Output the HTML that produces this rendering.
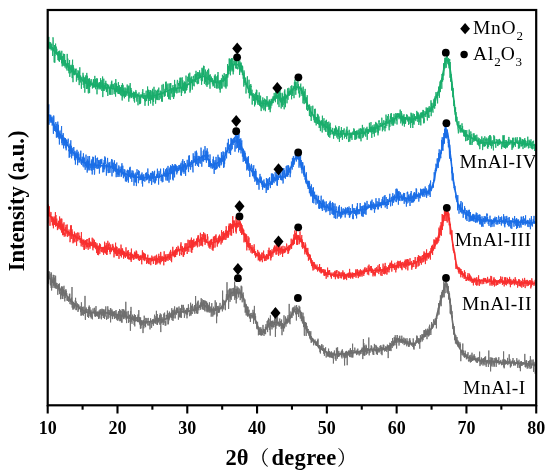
<!DOCTYPE html>
<html><head><meta charset="utf-8"><title>XRD patterns</title>
<style>
html,body{margin:0;padding:0;background:#fff;}
body{width:550px;height:473px;overflow:hidden;}
svg{display:block;}
text{font-family:"Liberation Serif","Times New Roman","Noto Serif CJK SC",serif;}
.tl text{font-size:18px;font-weight:bold;}
.ax{font-size:22.5px;font-weight:bold;}
.cjk{font-family:"Noto Serif CJK SC","Noto Sans CJK SC",serif;font-weight:normal;font-size:20px;}
.lg{font-size:19.5px;letter-spacing:0.8px;}
.sub{font-size:13px;letter-spacing:0;}
.sm{font-size:19.5px;letter-spacing:0.55px;}
.c{stroke-width:0.9;}
</style></head><body>
<svg width="550" height="473" viewBox="0 0 550 473">
<rect width="550" height="473" fill="#fff"/>
<g fill="none" stroke-width="1" stroke-linejoin="miter">
<polyline class="c" stroke="#18ad6b" points="48.2,45.2 48.4,48.0 48.6,45.6 48.8,36.9 49.0,49.3 49.2,47.0 49.4,41.9 49.6,48.3 49.8,47.4 50.0,47.2 50.2,46.0 50.4,49.1 50.6,42.3 50.8,45.7 51.0,44.2 51.2,50.4 51.4,47.6 51.6,46.0 51.8,43.6 52.0,46.7 52.2,48.4 52.4,47.1 52.6,56.0 52.8,54.7 53.0,37.3 53.2,39.3 53.4,48.9 53.6,47.8 53.8,51.5 54.0,51.8 54.2,62.4 54.4,45.0 54.6,49.3 54.8,62.7 55.0,55.3 55.2,55.7 55.4,49.5 55.6,43.6 55.8,53.7 56.0,53.6 56.2,46.6 56.4,49.8 56.6,53.3 56.8,48.8 57.0,53.6 57.2,54.9 57.4,54.8 57.6,52.1 57.8,58.3 58.0,60.1 58.2,57.3 58.4,51.4 58.6,59.9 58.8,53.5 59.0,61.1 59.2,50.9 59.4,61.8 59.6,57.0 59.8,50.7 60.0,55.9 60.2,58.1 60.4,59.4 60.6,53.0 60.8,52.6 61.0,59.7 61.2,56.4 61.4,60.3 61.6,63.3 61.8,50.8 62.0,61.1 62.2,66.4 62.4,58.6 62.6,56.1 62.8,64.6 63.0,62.2 63.2,65.7 63.4,59.4 63.6,53.7 63.8,61.1 64.0,59.6 64.2,66.1 64.4,63.3 64.6,54.0 64.8,56.5 65.0,67.5 65.2,66.7 65.4,60.0 65.6,63.6 65.8,66.1 66.0,66.4 66.2,68.7 66.4,65.7 66.6,64.1 66.8,63.5 67.0,70.5 67.2,53.9 67.4,64.8 67.6,65.8 67.8,58.6 68.0,67.8 68.2,63.0 68.4,70.9 68.6,66.1 68.8,70.3 69.0,73.3 69.2,69.3 69.4,63.1 69.6,60.0 69.8,76.9 70.0,67.6 70.2,64.9 70.4,69.3 70.6,67.8 70.8,73.3 71.0,69.4 71.2,69.5 71.4,66.0 71.6,72.2 71.8,64.8 72.0,73.5 72.2,78.1 72.4,62.9 72.6,59.7 72.8,74.1 73.0,82.2 73.2,66.4 73.4,65.3 73.6,74.7 73.8,67.8 74.0,69.6 74.2,70.6 74.4,75.2 74.6,70.7 74.8,74.3 75.0,72.3 75.2,69.1 75.4,71.9 75.6,69.0 75.8,73.9 76.0,68.5 76.2,68.9 76.4,81.6 76.6,74.4 76.8,74.6 77.0,77.5 77.2,73.1 77.4,74.2 77.6,77.6 77.8,77.1 78.0,70.2 78.2,80.2 78.4,73.4 78.6,71.4 78.8,72.3 79.0,75.0 79.2,85.1 79.4,71.6 79.6,78.3 79.8,67.3 80.0,77.9 80.2,82.5 80.4,77.2 80.6,75.5 80.8,79.8 81.0,82.3 81.2,82.3 81.4,88.8 81.6,80.5 81.8,76.8 82.0,79.3 82.2,79.7 82.4,80.8 82.6,80.3 82.8,81.4 83.0,72.8 83.2,84.9 83.4,78.4 83.6,75.7 83.8,84.5 84.0,87.9 84.2,84.1 84.4,82.7 84.6,77.6 84.8,92.7 85.0,86.5 85.2,77.0 85.4,78.9 85.6,83.1 85.8,75.4 86.0,83.7 86.2,80.9 86.4,89.0 86.6,87.8 86.8,72.9 87.0,83.6 87.2,75.8 87.4,88.8 87.6,84.4 87.8,86.3 88.0,78.7 88.2,92.5 88.4,93.4 88.6,78.9 88.8,85.8 89.0,80.9 89.2,84.0 89.4,78.2 89.6,93.1 89.8,79.7 90.0,82.9 90.2,86.8 90.4,81.4 90.6,83.4 90.8,81.9 91.0,84.0 91.2,79.1 91.4,82.6 91.6,83.8 91.8,83.2 92.0,85.1 92.2,83.5 92.4,88.5 92.6,83.4 92.8,84.4 93.0,81.9 93.2,82.6 93.4,79.2 93.6,87.6 93.8,79.8 94.0,81.7 94.2,87.0 94.4,87.2 94.6,83.5 94.8,75.9 95.0,87.4 95.2,86.7 95.4,78.9 95.6,89.2 95.8,82.3 96.0,80.3 96.2,86.1 96.4,84.9 96.6,86.7 96.8,78.2 97.0,94.3 97.2,83.0 97.4,78.7 97.6,88.8 97.8,84.3 98.0,87.5 98.2,84.4 98.4,85.8 98.6,87.3 98.8,82.7 99.0,89.4 99.2,84.0 99.4,82.2 99.6,86.7 99.8,88.4 100.0,85.3 100.2,82.4 100.4,89.3 100.6,78.2 100.8,81.7 101.0,86.7 101.2,80.2 101.4,86.7 101.6,86.4 101.8,90.9 102.0,82.4 102.2,83.8 102.4,88.3 102.6,76.5 102.8,97.1 103.0,83.6 103.2,83.5 103.4,90.9 103.6,86.8 103.8,78.7 104.0,89.9 104.2,91.0 104.4,85.0 104.6,85.8 104.8,89.4 105.0,82.9 105.2,89.3 105.4,88.2 105.6,84.1 105.8,80.8 106.0,86.3 106.2,83.3 106.4,92.1 106.6,88.1 106.8,91.1 107.0,88.1 107.2,88.8 107.4,83.9 107.6,90.7 107.8,96.0 108.0,86.3 108.2,85.0 108.4,87.0 108.6,85.6 108.8,84.6 109.0,88.5 109.2,86.6 109.4,94.6 109.6,88.0 109.8,89.5 110.0,92.5 110.2,86.7 110.4,94.8 110.6,85.3 110.8,84.5 111.0,86.6 111.2,87.8 111.4,81.9 111.6,88.2 111.8,80.7 112.0,94.9 112.2,88.1 112.4,85.6 112.6,84.4 112.8,86.9 113.0,87.6 113.2,83.9 113.4,84.5 113.6,87.9 113.8,86.4 114.0,93.2 114.2,94.2 114.4,89.0 114.6,91.2 114.8,82.9 115.0,92.0 115.2,89.0 115.4,91.4 115.6,96.6 115.8,79.1 116.0,90.5 116.2,84.3 116.4,92.1 116.6,83.4 116.8,87.2 117.0,90.5 117.2,92.4 117.4,90.0 117.6,86.0 117.8,87.2 118.0,93.8 118.2,89.8 118.4,82.1 118.6,93.8 118.8,91.9 119.0,94.0 119.2,88.5 119.4,93.9 119.6,85.3 119.8,92.8 120.0,88.0 120.2,93.4 120.4,95.0 120.6,87.0 120.8,90.2 121.0,90.7 121.2,96.0 121.4,93.9 121.6,85.1 121.8,92.8 122.0,94.2 122.2,100.5 122.4,83.2 122.6,88.5 122.8,97.1 123.0,84.8 123.2,85.6 123.4,93.5 123.6,95.8 123.8,88.2 124.0,93.8 124.2,91.9 124.4,98.3 124.6,91.5 124.8,96.0 125.0,87.4 125.2,90.8 125.4,91.2 125.6,96.9 125.8,94.4 126.0,88.4 126.2,95.0 126.4,95.5 126.6,91.5 126.8,90.9 127.0,91.3 127.2,84.5 127.4,93.1 127.6,93.4 127.8,88.4 128.0,95.8 128.2,86.2 128.4,90.0 128.6,90.4 128.8,101.7 129.0,85.5 129.2,95.3 129.4,97.1 129.6,94.6 129.8,98.3 130.0,88.5 130.2,83.1 130.4,96.6 130.6,87.8 130.8,91.8 131.0,88.0 131.2,98.1 131.4,97.4 131.6,90.3 131.8,97.7 132.0,94.2 132.2,93.1 132.4,94.1 132.6,93.0 132.8,96.8 133.0,95.5 133.2,92.6 133.4,98.8 133.6,91.6 133.8,95.7 134.0,96.4 134.2,101.2 134.4,92.4 134.6,102.5 134.8,95.6 135.0,94.0 135.2,91.9 135.4,97.6 135.6,95.3 135.8,90.2 136.0,90.2 136.2,92.8 136.4,92.3 136.6,100.3 136.8,101.6 137.0,99.4 137.2,97.2 137.4,93.7 137.6,95.9 137.8,99.7 138.0,105.3 138.2,99.9 138.4,94.6 138.6,96.1 138.8,93.8 139.0,92.4 139.2,95.1 139.4,96.9 139.6,104.2 139.8,96.2 140.0,102.1 140.2,103.9 140.4,96.4 140.6,103.2 140.8,99.2 141.0,94.1 141.2,97.2 141.4,96.1 141.6,95.0 141.8,95.1 142.0,96.6 142.2,97.9 142.4,92.0 142.6,96.0 142.8,89.2 143.0,97.2 143.2,98.8 143.4,96.7 143.6,97.3 143.8,98.6 144.0,93.0 144.2,94.9 144.4,98.3 144.6,100.5 144.8,97.8 145.0,105.8 145.2,95.6 145.4,100.5 145.6,101.7 145.8,95.4 146.0,92.3 146.2,90.7 146.4,96.7 146.6,101.0 146.8,97.2 147.0,96.8 147.2,94.3 147.4,98.5 147.6,86.5 147.8,97.0 148.0,96.1 148.2,89.9 148.4,105.7 148.6,89.8 148.8,91.2 149.0,90.6 149.2,101.0 149.4,92.0 149.6,99.0 149.8,98.6 150.0,97.2 150.2,90.2 150.4,93.3 150.6,103.5 150.8,90.2 151.0,92.3 151.2,95.3 151.4,99.6 151.6,97.1 151.8,99.3 152.0,91.2 152.2,100.2 152.4,98.5 152.6,88.8 152.8,102.8 153.0,105.7 153.2,92.4 153.4,96.0 153.6,102.0 153.8,89.1 154.0,86.8 154.2,89.8 154.4,93.1 154.6,93.0 154.8,98.2 155.0,96.7 155.2,89.8 155.4,97.9 155.6,103.7 155.8,100.6 156.0,99.7 156.2,95.2 156.4,99.5 156.6,90.7 156.8,98.4 157.0,94.5 157.2,99.9 157.4,96.9 157.6,89.8 157.8,95.2 158.0,100.1 158.2,89.5 158.4,92.0 158.6,90.9 158.8,87.6 159.0,98.6 159.2,100.1 159.4,97.8 159.6,95.2 159.8,93.8 160.0,95.0 160.2,90.6 160.4,97.8 160.6,98.5 160.8,97.9 161.0,91.2 161.2,93.9 161.4,92.7 161.6,101.5 161.8,94.2 162.0,84.8 162.2,95.0 162.4,101.7 162.6,96.2 162.8,97.0 163.0,93.1 163.2,83.9 163.4,84.6 163.6,87.1 163.8,92.1 164.0,94.0 164.2,95.6 164.4,90.9 164.6,96.7 164.8,91.0 165.0,88.9 165.2,95.9 165.4,87.8 165.6,81.9 165.8,87.0 166.0,92.1 166.2,81.6 166.4,89.9 166.6,89.9 166.8,84.8 167.0,84.5 167.2,89.0 167.4,88.6 167.6,96.7 167.8,92.6 168.0,83.5 168.2,86.8 168.4,93.8 168.6,99.2 168.8,92.2 169.0,91.8 169.2,98.8 169.4,90.1 169.6,88.7 169.8,83.5 170.0,87.5 170.2,99.9 170.4,83.2 170.6,89.7 170.8,83.1 171.0,90.1 171.2,93.5 171.4,88.3 171.6,92.7 171.8,92.6 172.0,91.3 172.2,97.1 172.4,92.7 172.6,87.6 172.8,85.8 173.0,85.0 173.2,91.1 173.4,87.3 173.6,99.0 173.8,97.3 174.0,87.7 174.2,87.1 174.4,96.5 174.6,79.9 174.8,86.5 175.0,92.9 175.2,84.3 175.4,86.2 175.6,86.8 175.8,91.4 176.0,89.0 176.2,90.2 176.4,91.1 176.6,88.4 176.8,93.4 177.0,84.8 177.2,81.5 177.4,79.9 177.6,80.6 177.8,85.5 178.0,92.8 178.2,88.8 178.4,85.2 178.6,83.0 178.8,85.5 179.0,86.0 179.2,85.3 179.4,81.2 179.6,85.6 179.8,92.5 180.0,77.7 180.2,86.6 180.4,77.8 180.6,88.5 180.8,84.2 181.0,77.9 181.2,88.0 181.4,96.0 181.6,88.0 181.8,92.9 182.0,87.1 182.2,77.3 182.4,89.6 182.6,85.3 182.8,80.4 183.0,90.8 183.2,88.4 183.4,84.6 183.6,91.1 183.8,82.9 184.0,89.9 184.2,82.4 184.4,89.2 184.6,81.5 184.8,93.5 185.0,87.6 185.2,93.1 185.4,82.4 185.6,83.9 185.8,90.0 186.0,75.6 186.2,80.8 186.4,90.5 186.6,87.7 186.8,90.0 187.0,83.8 187.2,87.8 187.4,81.6 187.6,78.4 187.8,76.7 188.0,82.0 188.2,81.8 188.4,81.3 188.6,73.7 188.8,74.5 189.0,81.3 189.2,85.0 189.4,80.8 189.6,79.2 189.8,72.7 190.0,92.6 190.2,77.6 190.4,90.7 190.6,90.0 190.8,83.7 191.0,79.5 191.2,82.8 191.4,76.5 191.6,83.1 191.8,81.7 192.0,84.1 192.2,85.9 192.4,89.6 192.6,79.3 192.8,86.0 193.0,77.1 193.2,76.4 193.4,77.6 193.6,75.8 193.8,85.1 194.0,84.7 194.2,86.3 194.4,79.9 194.6,81.3 194.8,77.1 195.0,74.2 195.2,81.8 195.4,80.8 195.6,74.1 195.8,82.2 196.0,70.8 196.2,78.3 196.4,76.0 196.6,76.3 196.8,73.5 197.0,83.3 197.2,81.3 197.4,84.2 197.6,79.0 197.8,72.0 198.0,76.3 198.2,72.3 198.4,80.1 198.6,83.7 198.8,79.3 199.0,74.7 199.2,75.7 199.4,78.4 199.6,70.3 199.8,78.0 200.0,78.1 200.2,74.4 200.4,75.0 200.6,77.8 200.8,72.8 201.0,72.8 201.2,80.5 201.4,77.8 201.6,84.8 201.8,71.7 202.0,67.8 202.2,81.1 202.4,81.1 202.6,72.8 202.8,69.2 203.0,76.2 203.2,67.8 203.4,74.7 203.6,65.7 203.8,75.2 204.0,66.0 204.2,75.3 204.4,83.9 204.6,75.3 204.8,80.4 205.0,73.6 205.2,72.5 205.4,69.6 205.6,82.1 205.8,76.9 206.0,85.2 206.2,71.6 206.4,76.4 206.6,78.0 206.8,84.6 207.0,86.8 207.2,74.9 207.4,72.7 207.6,69.9 207.8,85.0 208.0,78.2 208.2,75.7 208.4,78.7 208.6,68.7 208.8,70.9 209.0,83.9 209.2,81.5 209.4,80.4 209.6,75.0 209.8,82.8 210.0,88.7 210.2,74.3 210.4,80.4 210.6,78.4 210.8,82.3 211.0,80.7 211.2,80.1 211.4,76.6 211.6,80.8 211.8,78.0 212.0,80.3 212.2,80.8 212.4,84.3 212.6,78.4 212.8,79.7 213.0,86.4 213.2,80.3 213.4,80.1 213.6,85.6 213.8,82.8 214.0,82.0 214.2,82.6 214.4,75.7 214.6,83.9 214.8,88.0 215.0,84.5 215.2,74.4 215.4,83.2 215.6,77.6 215.8,80.8 216.0,82.6 216.2,76.3 216.4,88.4 216.6,81.7 216.8,85.9 217.0,85.1 217.2,88.6 217.4,87.8 217.6,75.2 217.8,82.4 218.0,72.0 218.2,80.1 218.4,85.6 218.6,86.6 218.8,88.4 219.0,80.4 219.2,83.7 219.4,82.6 219.6,88.2 219.8,89.6 220.0,80.3 220.2,92.6 220.4,81.9 220.6,80.1 220.8,84.6 221.0,85.3 221.2,84.2 221.4,78.3 221.6,88.4 221.8,81.5 222.0,88.5 222.2,87.7 222.4,74.8 222.6,76.0 222.8,75.8 223.0,81.7 223.2,80.6 223.4,81.5 223.6,76.1 223.8,81.9 224.0,86.5 224.2,73.1 224.4,78.5 224.6,80.5 224.8,78.5 225.0,78.0 225.2,87.3 225.4,84.8 225.6,82.4 225.8,74.3 226.0,88.6 226.2,79.2 226.4,74.3 226.6,75.1 226.8,74.0 227.0,86.4 227.2,76.6 227.4,75.5 227.6,64.0 227.8,77.6 228.0,67.9 228.2,66.5 228.4,74.2 228.6,65.8 228.8,73.4 229.0,74.0 229.2,58.5 229.4,66.4 229.6,58.8 229.8,66.3 230.0,71.1 230.2,59.3 230.4,75.3 230.6,64.4 230.8,59.8 231.0,65.1 231.2,69.7 231.4,58.4 231.6,65.4 231.8,58.2 232.0,71.4 232.2,65.9 232.4,62.9 232.6,70.3 232.8,58.3 233.0,62.9 233.2,74.4 233.4,64.2 233.6,71.7 233.8,65.7 234.0,61.0 234.2,63.3 234.4,65.0 234.6,62.4 234.8,60.2 235.0,60.4 235.2,56.8 235.4,65.0 235.6,66.4 235.8,68.3 236.0,55.1 236.2,68.5 236.4,64.3 236.6,57.0 236.8,64.9 237.0,68.7 237.2,67.2 237.4,68.2 237.6,69.4 237.8,69.2 238.0,64.4 238.2,53.9 238.4,60.8 238.6,66.6 238.8,62.4 239.0,68.4 239.2,69.1 239.4,65.4 239.6,75.0 239.8,60.6 240.0,70.7 240.2,63.9 240.4,62.7 240.6,70.1 240.8,64.4 241.0,72.4 241.2,62.6 241.4,69.3 241.6,65.4 241.8,69.0 242.0,68.8 242.2,65.6 242.4,75.1 242.6,66.2 242.8,68.0 243.0,77.8 243.2,78.7 243.4,77.8 243.6,76.8 243.8,86.6 244.0,70.4 244.2,73.4 244.4,72.8 244.6,82.7 244.8,80.4 245.0,85.1 245.2,85.1 245.4,80.0 245.6,77.8 245.8,77.6 246.0,93.5 246.2,88.2 246.4,87.0 246.6,83.1 246.8,84.3 247.0,84.0 247.2,84.6 247.4,76.3 247.6,86.7 247.8,85.6 248.0,89.2 248.2,89.2 248.4,92.6 248.6,88.9 248.8,93.1 249.0,79.7 249.2,85.1 249.4,98.4 249.6,85.2 249.8,89.9 250.0,94.7 250.2,87.8 250.4,95.4 250.6,85.9 250.8,84.0 251.0,87.0 251.2,85.8 251.4,93.5 251.6,92.4 251.8,95.6 252.0,89.7 252.2,104.6 252.4,94.5 252.6,94.9 252.8,97.4 253.0,94.6 253.2,93.1 253.4,96.5 253.6,100.5 253.8,99.6 254.0,101.0 254.2,94.6 254.4,93.9 254.6,106.4 254.8,96.7 255.0,100.1 255.2,101.4 255.4,104.6 255.6,92.6 255.8,96.6 256.0,97.0 256.2,97.8 256.4,89.7 256.6,99.1 256.8,90.1 257.0,101.1 257.2,102.3 257.4,102.8 257.6,95.0 257.8,104.6 258.0,96.8 258.2,95.4 258.4,96.6 258.6,97.4 258.8,102.0 259.0,105.0 259.2,92.4 259.4,99.4 259.6,105.8 259.8,102.9 260.0,104.4 260.2,95.8 260.4,106.6 260.6,95.8 260.8,103.6 261.0,108.7 261.2,111.1 261.4,105.3 261.6,107.0 261.8,100.6 262.0,101.3 262.2,108.4 262.4,103.4 262.6,102.9 262.8,97.4 263.0,104.1 263.2,106.3 263.4,100.1 263.6,101.3 263.8,110.3 264.0,104.3 264.2,102.3 264.4,98.6 264.6,100.8 264.8,102.4 265.0,109.4 265.2,100.9 265.4,111.2 265.6,99.5 265.8,102.0 266.0,107.1 266.2,102.5 266.4,99.9 266.6,102.9 266.8,105.4 267.0,96.1 267.2,102.4 267.4,103.0 267.6,101.8 267.8,106.7 268.0,101.1 268.2,101.9 268.4,103.7 268.6,106.6 268.8,102.5 269.0,110.0 269.2,99.6 269.4,109.0 269.6,99.8 269.8,102.8 270.0,105.0 270.2,112.2 270.4,107.0 270.6,101.3 270.8,108.4 271.0,101.7 271.2,98.9 271.4,104.0 271.6,102.2 271.8,105.6 272.0,98.8 272.2,102.5 272.4,103.3 272.6,101.4 272.8,99.7 273.0,96.4 273.2,103.1 273.4,99.4 273.6,100.6 273.8,96.6 274.0,97.9 274.2,92.9 274.4,97.6 274.6,100.3 274.8,97.1 275.0,100.3 275.2,97.7 275.4,102.2 275.6,95.1 275.8,88.6 276.0,97.8 276.2,95.1 276.4,91.5 276.6,98.8 276.8,97.1 277.0,98.0 277.2,94.6 277.4,97.1 277.6,97.5 277.8,104.4 278.0,93.6 278.2,96.7 278.4,98.6 278.6,89.5 278.8,90.2 279.0,107.1 279.2,89.9 279.4,100.5 279.6,94.4 279.8,95.0 280.0,89.8 280.2,94.8 280.4,102.4 280.6,93.0 280.8,101.9 281.0,100.8 281.2,108.5 281.4,97.7 281.6,105.4 281.8,103.9 282.0,98.8 282.2,92.8 282.4,106.8 282.6,94.2 282.8,98.1 283.0,104.0 283.2,105.0 283.4,96.4 283.6,99.8 283.8,98.7 284.0,104.9 284.2,109.3 284.4,91.4 284.6,103.3 284.8,89.4 285.0,98.9 285.2,93.8 285.4,107.2 285.6,98.9 285.8,94.7 286.0,95.5 286.2,94.9 286.4,98.1 286.6,96.2 286.8,99.6 287.0,103.3 287.2,99.3 287.4,90.4 287.6,88.4 287.8,92.0 288.0,99.8 288.2,93.3 288.4,91.6 288.6,95.0 288.8,87.8 289.0,88.8 289.2,96.0 289.4,92.1 289.6,91.2 289.8,94.5 290.0,90.2 290.2,89.5 290.4,90.3 290.6,94.8 290.8,92.1 291.0,86.1 291.2,89.9 291.4,94.0 291.6,99.3 291.8,85.3 292.0,91.8 292.2,88.8 292.4,93.5 292.6,91.5 292.8,96.0 293.0,91.4 293.2,86.2 293.4,86.1 293.6,90.2 293.8,90.0 294.0,98.2 294.2,95.6 294.4,82.2 294.6,89.1 294.8,81.2 295.0,79.6 295.2,90.7 295.4,89.7 295.6,82.3 295.8,94.8 296.0,82.5 296.2,81.7 296.4,90.2 296.6,88.2 296.8,86.4 297.0,86.9 297.2,88.3 297.4,86.6 297.6,86.5 297.8,78.5 298.0,81.2 298.2,90.3 298.4,84.2 298.6,90.1 298.8,93.4 299.0,86.1 299.2,89.1 299.4,97.5 299.6,91.2 299.8,96.6 300.0,95.2 300.2,91.7 300.4,87.8 300.6,84.6 300.8,83.6 301.0,91.2 301.2,91.4 301.4,88.8 301.6,93.9 301.8,87.6 302.0,95.9 302.2,91.5 302.4,91.6 302.6,92.3 302.8,92.4 303.0,103.3 303.2,86.6 303.4,95.1 303.6,100.4 303.8,98.6 304.0,94.5 304.2,104.1 304.4,92.0 304.6,91.4 304.8,100.2 305.0,91.7 305.2,88.9 305.4,102.9 305.6,102.9 305.8,103.2 306.0,98.4 306.2,101.8 306.4,97.3 306.6,109.6 306.8,106.0 307.0,106.3 307.2,95.2 307.4,107.6 307.6,111.0 307.8,110.3 308.0,109.0 308.2,106.1 308.4,105.2 308.6,109.6 308.8,109.2 309.0,109.0 309.2,107.2 309.4,116.0 309.6,104.5 309.8,109.7 310.0,107.8 310.2,114.9 310.4,116.9 310.6,116.5 310.8,114.8 311.0,106.2 311.2,120.9 311.4,114.7 311.6,112.5 311.8,113.3 312.0,112.1 312.2,115.5 312.4,115.3 312.6,112.9 312.8,105.7 313.0,114.7 313.2,117.0 313.4,117.5 313.6,115.0 313.8,117.7 314.0,120.2 314.2,114.5 314.4,122.5 314.6,109.0 314.8,112.0 315.0,113.6 315.2,108.7 315.4,113.7 315.6,122.9 315.8,123.1 316.0,118.7 316.2,125.4 316.4,119.7 316.6,117.0 316.8,120.1 317.0,118.8 317.2,122.5 317.4,113.8 317.6,123.9 317.8,118.3 318.0,123.7 318.2,114.5 318.4,119.1 318.6,121.2 318.8,124.6 319.0,116.5 319.2,128.0 319.4,123.5 319.6,119.8 319.8,126.7 320.0,122.6 320.2,126.9 320.4,131.1 320.6,125.7 320.8,120.8 321.0,121.4 321.2,125.5 321.4,124.5 321.6,120.3 321.8,121.1 322.0,126.4 322.2,132.5 322.4,115.7 322.6,127.1 322.8,123.7 323.0,127.6 323.2,128.1 323.4,125.1 323.6,121.2 323.8,119.9 324.0,118.2 324.2,130.2 324.4,124.9 324.6,123.8 324.8,124.9 325.0,121.0 325.2,127.4 325.4,131.4 325.6,130.8 325.8,120.7 326.0,132.0 326.2,124.0 326.4,119.8 326.6,122.6 326.8,123.7 327.0,127.5 327.2,123.7 327.4,122.1 327.6,126.9 327.8,135.3 328.0,125.5 328.2,130.0 328.4,128.7 328.6,136.8 328.8,121.6 329.0,133.0 329.2,124.2 329.4,126.9 329.6,128.9 329.8,137.7 330.0,126.8 330.2,122.8 330.4,134.8 330.6,127.0 330.8,129.4 331.0,130.4 331.2,131.0 331.4,130.2 331.6,131.9 331.8,132.5 332.0,134.4 332.2,129.9 332.4,128.8 332.6,127.9 332.8,134.1 333.0,131.9 333.2,134.3 333.4,134.3 333.6,138.7 333.8,133.4 334.0,135.5 334.2,128.5 334.4,129.1 334.6,132.0 334.8,128.8 335.0,135.9 335.2,128.6 335.4,133.8 335.6,125.6 335.8,129.7 336.0,132.6 336.2,132.9 336.4,127.4 336.6,134.3 336.8,137.5 337.0,136.3 337.2,131.6 337.4,131.9 337.6,129.7 337.8,136.3 338.0,139.2 338.2,132.1 338.4,127.8 338.6,134.7 338.8,136.6 339.0,126.0 339.2,134.5 339.4,141.9 339.6,137.0 339.8,136.0 340.0,135.5 340.2,137.9 340.4,130.6 340.6,130.9 340.8,135.5 341.0,131.5 341.2,134.9 341.4,127.1 341.6,136.8 341.8,137.1 342.0,134.2 342.2,134.6 342.4,139.9 342.6,130.1 342.8,130.7 343.0,130.0 343.2,132.5 343.4,130.3 343.6,134.1 343.8,131.6 344.0,128.7 344.2,128.4 344.4,138.4 344.6,133.7 344.8,133.2 345.0,134.1 345.2,133.7 345.4,136.7 345.6,136.0 345.8,131.9 346.0,131.0 346.2,130.1 346.4,129.5 346.6,139.1 346.8,130.7 347.0,126.7 347.2,130.9 347.4,131.1 347.6,135.2 347.8,130.8 348.0,135.9 348.2,135.4 348.4,138.6 348.6,141.9 348.8,142.0 349.0,138.9 349.2,129.8 349.4,132.5 349.6,134.9 349.8,141.5 350.0,136.4 350.2,138.3 350.4,133.3 350.6,136.1 350.8,136.6 351.0,132.3 351.2,136.8 351.4,137.8 351.6,133.4 351.8,137.6 352.0,139.9 352.2,134.2 352.4,133.9 352.6,132.8 352.8,131.6 353.0,134.5 353.2,132.4 353.4,132.7 353.6,131.0 353.8,128.3 354.0,130.4 354.2,135.0 354.4,129.5 354.6,131.4 354.8,139.8 355.0,137.9 355.2,131.2 355.4,136.0 355.6,131.4 355.8,139.7 356.0,131.6 356.2,134.0 356.4,138.7 356.6,130.7 356.8,138.4 357.0,130.7 357.2,134.5 357.4,132.5 357.6,133.3 357.8,134.2 358.0,133.3 358.2,129.9 358.4,136.7 358.6,136.2 358.8,138.2 359.0,138.5 359.2,128.6 359.4,138.1 359.6,138.2 359.8,131.5 360.0,137.2 360.2,138.7 360.4,131.4 360.6,128.3 360.8,132.0 361.0,141.3 361.2,134.1 361.4,128.7 361.6,132.2 361.8,129.5 362.0,131.6 362.2,133.4 362.4,124.9 362.6,134.2 362.8,138.1 363.0,132.1 363.2,131.4 363.4,136.7 363.6,128.1 363.8,128.1 364.0,127.5 364.2,132.0 364.4,133.9 364.6,132.1 364.8,134.4 365.0,135.4 365.2,134.1 365.4,129.2 365.6,131.2 365.8,136.7 366.0,128.2 366.2,131.0 366.4,130.4 366.6,131.2 366.8,127.8 367.0,126.8 367.2,139.8 367.4,135.1 367.6,128.9 367.8,131.3 368.0,133.9 368.2,130.1 368.4,133.6 368.6,129.0 368.8,129.9 369.0,130.8 369.2,129.3 369.4,122.8 369.6,131.0 369.8,131.8 370.0,132.5 370.2,127.0 370.4,131.8 370.6,131.3 370.8,123.8 371.0,122.1 371.2,132.0 371.4,126.6 371.6,133.8 371.8,137.9 372.0,127.7 372.2,127.2 372.4,129.7 372.6,132.1 372.8,125.3 373.0,134.1 373.2,133.0 373.4,131.7 373.6,127.1 373.8,132.5 374.0,132.2 374.2,124.4 374.4,136.6 374.6,127.6 374.8,130.0 375.0,126.5 375.2,129.9 375.4,132.7 375.6,125.2 375.8,121.9 376.0,126.3 376.2,123.0 376.4,125.0 376.6,127.3 376.8,127.4 377.0,132.4 377.2,123.6 377.4,128.7 377.6,125.3 377.8,132.3 378.0,135.4 378.2,128.1 378.4,133.2 378.6,124.7 378.8,120.6 379.0,121.7 379.2,120.4 379.4,122.7 379.6,125.3 379.8,130.5 380.0,128.7 380.2,127.7 380.4,124.2 380.6,122.9 380.8,125.7 381.0,126.0 381.2,126.4 381.4,126.7 381.6,124.7 381.8,117.7 382.0,120.7 382.2,121.7 382.4,131.3 382.6,123.1 382.8,127.2 383.0,130.1 383.2,125.7 383.4,122.8 383.6,123.1 383.8,120.2 384.0,125.2 384.2,128.3 384.4,126.1 384.6,126.8 384.8,126.5 385.0,131.3 385.2,121.1 385.4,124.0 385.6,126.1 385.8,128.1 386.0,114.6 386.2,121.0 386.4,122.2 386.6,118.9 386.8,126.1 387.0,123.5 387.2,121.1 387.4,116.2 387.6,117.3 387.8,118.5 388.0,124.0 388.2,117.4 388.4,114.0 388.6,116.3 388.8,119.6 389.0,128.3 389.2,130.3 389.4,119.7 389.6,125.2 389.8,126.9 390.0,126.3 390.2,120.8 390.4,116.0 390.6,119.1 390.8,113.6 391.0,121.8 391.2,123.8 391.4,113.2 391.6,120.3 391.8,121.6 392.0,125.3 392.2,125.7 392.4,123.3 392.6,117.3 392.8,118.5 393.0,124.6 393.2,117.3 393.4,119.4 393.6,125.6 393.8,119.9 394.0,113.8 394.2,117.9 394.4,121.5 394.6,118.0 394.8,123.3 395.0,123.6 395.2,115.8 395.4,116.2 395.6,117.6 395.8,113.1 396.0,119.3 396.2,116.9 396.4,120.6 396.6,115.0 396.8,113.7 397.0,124.5 397.2,113.5 397.4,114.6 397.6,113.9 397.8,115.5 398.0,113.0 398.2,116.4 398.4,113.7 398.6,114.8 398.8,117.9 399.0,119.2 399.2,118.3 399.4,113.4 399.6,118.0 399.8,115.9 400.0,116.0 400.2,109.6 400.4,119.2 400.6,116.0 400.8,123.4 401.0,119.2 401.2,112.2 401.4,111.2 401.6,121.4 401.8,113.4 402.0,119.7 402.2,115.8 402.4,125.5 402.6,117.5 402.8,123.3 403.0,122.6 403.2,115.5 403.4,116.1 403.6,123.5 403.8,117.6 404.0,114.2 404.2,122.6 404.4,126.6 404.6,117.8 404.8,123.6 405.0,117.4 405.2,123.6 405.4,117.3 405.6,123.6 405.8,120.6 406.0,117.8 406.2,119.5 406.4,116.5 406.6,114.3 406.8,114.7 407.0,118.7 407.2,114.9 407.4,120.9 407.6,121.4 407.8,121.2 408.0,117.5 408.2,119.7 408.4,119.5 408.6,124.9 408.8,116.5 409.0,118.2 409.2,118.9 409.4,119.3 409.6,116.9 409.8,117.4 410.0,123.9 410.2,117.4 410.4,123.5 410.6,127.9 410.8,124.9 411.0,112.7 411.2,122.9 411.4,121.7 411.6,121.9 411.8,113.3 412.0,122.7 412.2,115.4 412.4,124.8 412.6,123.9 412.8,128.0 413.0,118.0 413.2,113.5 413.4,123.6 413.6,122.9 413.8,117.8 414.0,124.7 414.2,122.0 414.4,114.1 414.6,117.8 414.8,117.3 415.0,118.6 415.2,119.7 415.4,116.2 415.6,118.1 415.8,121.1 416.0,118.4 416.2,117.6 416.4,117.4 416.6,118.1 416.8,110.9 417.0,119.0 417.2,114.2 417.4,118.7 417.6,112.3 417.8,121.8 418.0,119.0 418.2,112.6 418.4,118.9 418.6,114.8 418.8,125.0 419.0,119.7 419.2,114.5 419.4,118.5 419.6,117.4 419.8,122.3 420.0,118.8 420.2,119.4 420.4,112.7 420.6,120.3 420.8,125.4 421.0,119.5 421.2,116.7 421.4,117.4 421.6,112.8 421.8,117.3 422.0,112.0 422.2,116.5 422.4,114.7 422.6,112.8 422.8,118.3 423.0,109.9 423.2,115.6 423.4,110.3 423.6,122.9 423.8,123.4 424.0,118.7 424.2,122.8 424.4,117.4 424.6,117.1 424.8,113.0 425.0,111.0 425.2,115.0 425.4,112.2 425.6,112.4 425.8,117.0 426.0,113.4 426.2,107.4 426.4,112.7 426.6,110.3 426.8,112.0 427.0,108.6 427.2,117.8 427.4,120.5 427.6,108.0 427.8,115.0 428.0,114.6 428.2,107.5 428.4,112.2 428.6,117.4 428.8,114.9 429.0,118.0 429.2,106.2 429.4,107.8 429.6,112.0 429.8,112.1 430.0,110.6 430.2,108.7 430.4,108.5 430.6,107.5 430.8,111.8 431.0,100.3 431.2,116.2 431.4,107.2 431.6,103.2 431.8,111.2 432.0,102.8 432.2,110.1 432.4,106.5 432.6,110.3 432.8,110.8 433.0,112.6 433.2,104.6 433.4,105.1 433.6,105.8 433.8,99.4 434.0,107.5 434.2,105.0 434.4,98.2 434.6,108.6 434.8,108.7 435.0,96.4 435.2,103.8 435.4,106.0 435.6,103.5 435.8,94.7 436.0,92.1 436.2,97.0 436.4,94.6 436.6,96.2 436.8,95.2 437.0,97.5 437.2,92.1 437.4,93.4 437.6,103.4 437.8,92.5 438.0,95.9 438.2,93.3 438.4,92.4 438.6,86.6 438.8,92.6 439.0,89.3 439.2,92.7 439.4,97.8 439.6,88.5 439.8,90.5 440.0,81.5 440.2,86.1 440.4,92.1 440.6,83.8 440.8,80.3 441.0,83.5 441.2,80.9 441.4,79.8 441.6,78.3 441.8,88.9 442.0,74.1 442.2,75.5 442.4,73.8 442.6,81.7 442.8,73.3 443.0,80.1 443.2,73.5 443.4,71.5 443.6,63.2 443.8,75.6 444.0,71.3 444.2,69.5 444.4,65.8 444.6,63.2 444.8,57.8 445.0,68.3 445.2,63.9 445.4,59.9 445.6,57.6 445.8,60.8 446.0,59.0 446.2,67.8 446.4,63.2 446.6,56.0 446.8,53.5 447.0,58.2 447.2,54.9 447.4,60.3 447.6,62.2 447.8,63.8 448.0,63.0 448.2,60.3 448.4,65.1 448.6,58.0 448.8,62.9 449.0,68.3 449.2,66.4 449.4,59.2 449.6,60.7 449.8,59.3 450.0,77.8 450.2,62.0 450.4,70.4 450.6,81.5 450.8,79.1 451.0,81.6 451.2,74.2 451.4,81.9 451.6,90.5 451.8,81.6 452.0,85.6 452.2,84.0 452.4,87.2 452.6,90.8 452.8,97.2 453.0,88.5 453.2,88.0 453.4,96.4 453.6,99.0 453.8,106.0 454.0,104.7 454.2,100.6 454.4,107.4 454.6,111.5 454.8,109.7 455.0,108.8 455.2,114.7 455.4,112.0 455.6,107.3 455.8,121.5 456.0,112.1 456.2,117.1 456.4,118.2 456.6,119.2 456.8,120.4 457.0,116.8 457.2,125.3 457.4,124.1 457.6,124.7 457.8,129.2 458.0,129.8 458.2,131.1 458.4,133.4 458.6,128.4 458.8,121.2 459.0,128.1 459.2,127.6 459.4,128.1 459.6,125.8 459.8,125.0 460.0,131.6 460.2,132.5 460.4,124.9 460.6,131.3 460.8,128.9 461.0,128.3 461.2,132.5 461.4,130.0 461.6,128.3 461.8,130.7 462.0,123.3 462.2,128.7 462.4,129.5 462.6,126.1 462.8,132.1 463.0,132.6 463.2,129.6 463.4,131.3 463.6,134.6 463.8,136.2 464.0,129.7 464.2,133.9 464.4,136.7 464.6,132.9 464.8,130.4 465.0,130.6 465.2,132.4 465.4,130.0 465.6,141.2 465.8,132.0 466.0,135.6 466.2,135.0 466.4,136.8 466.6,133.3 466.8,130.1 467.0,140.9 467.2,134.8 467.4,135.7 467.6,136.1 467.8,140.1 468.0,138.4 468.2,140.0 468.4,138.9 468.6,136.6 468.8,137.1 469.0,133.7 469.2,129.6 469.4,135.8 469.6,132.9 469.8,144.7 470.0,142.6 470.2,141.3 470.4,135.3 470.6,144.7 470.8,131.4 471.0,133.3 471.2,135.0 471.4,134.5 471.6,138.4 471.8,138.8 472.0,145.0 472.2,141.8 472.4,142.7 472.6,140.0 472.8,138.1 473.0,136.3 473.2,133.5 473.4,135.9 473.6,137.7 473.8,141.8 474.0,133.3 474.2,134.6 474.4,140.2 474.6,135.9 474.8,140.8 475.0,138.3 475.2,137.2 475.4,135.3 475.6,139.7 475.8,137.6 476.0,138.1 476.2,138.2 476.4,141.1 476.6,141.1 476.8,134.7 477.0,140.2 477.2,142.3 477.4,144.6 477.6,143.8 477.8,142.0 478.0,137.4 478.2,138.8 478.4,144.7 478.6,139.2 478.8,145.3 479.0,146.2 479.2,138.2 479.4,143.5 479.6,141.7 479.8,149.2 480.0,145.1 480.2,140.6 480.4,143.8 480.6,139.3 480.8,142.0 481.0,143.3 481.2,143.1 481.4,143.7 481.6,139.6 481.8,136.4 482.0,141.5 482.2,139.7 482.4,140.4 482.6,150.1 482.8,146.8 483.0,142.2 483.2,137.9 483.4,138.3 483.6,144.0 483.8,146.5 484.0,141.8 484.2,143.3 484.4,143.7 484.6,146.5 484.8,136.3 485.0,143.3 485.2,144.2 485.4,146.1 485.6,144.2 485.8,139.0 486.0,140.8 486.2,137.6 486.4,143.5 486.6,143.5 486.8,144.6 487.0,139.5 487.2,138.9 487.4,148.0 487.6,143.4 487.8,148.8 488.0,144.3 488.2,137.8 488.4,145.6 488.6,147.0 488.8,141.3 489.0,136.2 489.2,145.1 489.4,142.3 489.6,143.8 489.8,135.2 490.0,144.4 490.2,135.2 490.4,139.8 490.6,145.8 490.8,136.5 491.0,136.4 491.2,141.3 491.4,148.5 491.6,148.4 491.8,140.7 492.0,146.2 492.2,144.8 492.4,143.7 492.6,144.0 492.8,140.3 493.0,145.6 493.2,146.4 493.4,150.4 493.6,145.9 493.8,135.2 494.0,138.6 494.2,143.9 494.4,143.0 494.6,136.4 494.8,142.3 495.0,141.6 495.2,142.6 495.4,142.4 495.6,145.9 495.8,147.8 496.0,145.1 496.2,139.0 496.4,139.8 496.6,140.5 496.8,142.6 497.0,141.3 497.2,141.6 497.4,139.6 497.6,146.0 497.8,145.7 498.0,146.1 498.2,142.5 498.4,144.4 498.6,139.7 498.8,139.3 499.0,140.9 499.2,144.8 499.4,142.3 499.6,138.9 499.8,143.1 500.0,144.2 500.2,143.4 500.4,140.5 500.6,143.0 500.8,141.3 501.0,141.7 501.2,142.5 501.4,145.4 501.6,149.1 501.8,148.2 502.0,145.0 502.2,141.4 502.4,141.7 502.6,141.9 502.8,146.8 503.0,135.2 503.2,143.7 503.4,135.9 503.6,142.8 503.8,147.4 504.0,139.7 504.2,135.2 504.4,147.3 504.6,148.0 504.8,144.5 505.0,147.1 505.2,140.0 505.4,146.8 505.6,148.6 505.8,145.0 506.0,143.8 506.2,147.2 506.4,146.7 506.6,140.2 506.8,147.5 507.0,145.4 507.2,143.3 507.4,147.3 507.6,146.0 507.8,145.4 508.0,141.1 508.2,145.7 508.4,139.0 508.6,142.4 508.8,137.0 509.0,136.9 509.2,144.3 509.4,142.5 509.6,143.1 509.8,144.8 510.0,144.0 510.2,139.8 510.4,143.1 510.6,142.6 510.8,141.0 511.0,142.4 511.2,141.5 511.4,140.6 511.6,141.7 511.8,143.6 512.0,149.9 512.2,140.0 512.4,144.6 512.6,137.8 512.8,148.3 513.0,141.7 513.2,143.3 513.4,147.2 513.6,146.2 513.8,137.7 514.0,144.7 514.2,142.0 514.4,144.9 514.6,143.3 514.8,145.3 515.0,143.8 515.2,142.3 515.4,146.8 515.6,137.5 515.8,141.3 516.0,139.5 516.2,142.3 516.4,141.3 516.6,142.3 516.8,141.1 517.0,141.2 517.2,137.2 517.4,142.7 517.6,143.9 517.8,140.8 518.0,140.6 518.2,140.7 518.4,148.7 518.6,143.6 518.8,144.3 519.0,141.9 519.2,141.3 519.4,140.0 519.6,148.3 519.8,137.2 520.0,144.1 520.2,143.0 520.4,142.2 520.6,137.7 520.8,138.9 521.0,146.5 521.2,140.8 521.4,146.2 521.6,145.5 521.8,145.2 522.0,145.9 522.2,139.2 522.4,141.7 522.6,145.7 522.8,139.1 523.0,149.1 523.2,141.5 523.4,143.3 523.6,140.0 523.8,144.8 524.0,141.1 524.2,142.8 524.4,139.7 524.6,147.7 524.8,138.1 525.0,145.3 525.2,144.6 525.4,145.3 525.6,140.3 525.8,147.4 526.0,147.2 526.2,144.5 526.4,145.0 526.6,143.4 526.8,146.2 527.0,141.2 527.2,146.0 527.4,145.5 527.6,139.3 527.8,136.7 528.0,143.8 528.2,143.7 528.4,148.4 528.6,144.5 528.8,142.6 529.0,139.7 529.2,144.1 529.4,142.4 529.6,140.7 529.8,144.1 530.0,148.1 530.2,144.9 530.4,141.0 530.6,145.7 530.8,140.9 531.0,139.3 531.2,146.4 531.4,142.9 531.6,148.6 531.8,145.9 532.0,142.1 532.2,145.6 532.4,149.3 532.6,144.3 532.8,141.3 533.0,142.7 533.2,142.2 533.4,141.0 533.6,140.7 533.8,146.5 534.0,148.9 534.2,143.9 534.4,147.9 534.6,148.3 534.8,151.0 535.0,144.7"/>
<polyline class="c" stroke="#1a6de6" points="48.2,115.3 48.4,112.1 48.6,113.0 48.8,104.4 49.0,124.7 49.2,121.8 49.4,114.8 49.6,120.7 49.8,118.6 50.0,114.7 50.2,122.7 50.4,116.6 50.6,116.9 50.8,114.9 51.0,121.5 51.2,119.1 51.4,122.7 51.6,117.3 51.8,121.3 52.0,116.5 52.2,125.6 52.4,122.6 52.6,123.7 52.8,124.5 53.0,117.7 53.2,127.0 53.4,133.8 53.6,115.6 53.8,115.5 54.0,117.0 54.2,129.1 54.4,125.9 54.6,131.0 54.8,129.6 55.0,127.3 55.2,128.1 55.4,126.1 55.6,131.7 55.8,122.0 56.0,125.9 56.2,129.5 56.4,137.7 56.6,125.2 56.8,123.9 57.0,126.8 57.2,134.8 57.4,129.1 57.6,137.3 57.8,121.6 58.0,136.9 58.2,136.8 58.4,124.8 58.6,133.0 58.8,138.6 59.0,133.3 59.2,138.2 59.4,144.5 59.6,135.2 59.8,132.8 60.0,130.6 60.2,138.0 60.4,134.1 60.6,134.5 60.8,135.2 61.0,139.2 61.2,131.0 61.4,129.1 61.6,126.1 61.8,143.1 62.0,137.9 62.2,145.2 62.4,138.0 62.6,134.8 62.8,141.0 63.0,138.6 63.2,133.1 63.4,135.2 63.6,148.4 63.8,141.8 64.0,142.4 64.2,139.3 64.4,137.6 64.6,145.5 64.8,141.0 65.0,138.1 65.2,141.4 65.4,138.0 65.6,143.5 65.8,148.3 66.0,139.1 66.2,150.3 66.4,140.5 66.6,144.7 66.8,140.2 67.0,143.4 67.2,145.0 67.4,143.0 67.6,142.0 67.8,142.4 68.0,142.0 68.2,138.7 68.4,145.1 68.6,148.5 68.8,151.2 69.0,150.2 69.2,157.8 69.4,149.2 69.6,145.8 69.8,157.0 70.0,143.6 70.2,153.3 70.4,144.5 70.6,150.9 70.8,140.3 71.0,154.0 71.2,149.3 71.4,145.8 71.6,158.3 71.8,154.3 72.0,151.2 72.2,147.8 72.4,151.3 72.6,151.0 72.8,155.3 73.0,155.9 73.2,149.4 73.4,150.2 73.6,150.5 73.8,147.0 74.0,150.8 74.2,153.3 74.4,157.1 74.6,160.2 74.8,150.8 75.0,157.2 75.2,152.9 75.4,164.6 75.6,155.2 75.8,157.9 76.0,151.6 76.2,152.4 76.4,157.2 76.6,154.7 76.8,158.3 77.0,149.8 77.2,160.1 77.4,153.2 77.6,165.2 77.8,156.3 78.0,162.7 78.2,151.7 78.4,160.1 78.6,154.3 78.8,156.3 79.0,158.7 79.2,157.4 79.4,160.1 79.6,162.5 79.8,162.2 80.0,159.1 80.2,153.5 80.4,156.2 80.6,159.1 80.8,150.7 81.0,163.6 81.2,159.3 81.4,159.5 81.6,164.9 81.8,163.8 82.0,162.0 82.2,156.7 82.4,162.7 82.6,163.0 82.8,157.7 83.0,166.4 83.2,164.1 83.4,153.3 83.6,162.7 83.8,156.7 84.0,167.4 84.2,166.1 84.4,157.8 84.6,158.9 84.8,163.4 85.0,162.0 85.2,169.8 85.4,166.5 85.6,162.1 85.8,166.0 86.0,154.6 86.2,165.0 86.4,167.5 86.6,163.0 86.8,160.8 87.0,166.4 87.2,172.6 87.4,165.0 87.6,159.3 87.8,170.5 88.0,156.1 88.2,166.5 88.4,161.8 88.6,168.5 88.8,160.7 89.0,170.2 89.2,165.8 89.4,157.0 89.6,156.0 89.8,163.2 90.0,170.3 90.2,165.2 90.4,165.0 90.6,163.7 90.8,167.9 91.0,166.4 91.2,166.0 91.4,160.5 91.6,170.0 91.8,170.8 92.0,159.2 92.2,174.5 92.4,168.1 92.6,162.8 92.8,156.7 93.0,167.8 93.2,167.4 93.4,162.4 93.6,157.2 93.8,169.9 94.0,162.5 94.2,163.0 94.4,174.7 94.6,174.4 94.8,169.3 95.0,163.2 95.2,168.0 95.4,155.6 95.6,165.6 95.8,161.9 96.0,159.6 96.2,158.3 96.4,167.5 96.6,165.6 96.8,166.0 97.0,168.9 97.2,161.6 97.4,160.0 97.6,157.6 97.8,163.9 98.0,168.7 98.2,164.7 98.4,168.2 98.6,160.3 98.8,163.4 99.0,162.1 99.2,160.1 99.4,173.6 99.6,169.2 99.8,162.2 100.0,162.2 100.2,165.3 100.4,159.3 100.6,167.5 100.8,160.0 101.0,164.0 101.2,161.2 101.4,163.6 101.6,159.9 101.8,158.9 102.0,161.5 102.2,162.8 102.4,164.5 102.6,166.0 102.8,172.4 103.0,169.3 103.2,164.7 103.4,169.0 103.6,162.8 103.8,172.1 104.0,168.2 104.2,160.0 104.4,169.1 104.6,169.4 104.8,156.4 105.0,162.7 105.2,163.9 105.4,157.6 105.6,161.3 105.8,161.9 106.0,168.2 106.2,167.3 106.4,175.6 106.6,164.3 106.8,171.1 107.0,166.4 107.2,167.3 107.4,161.1 107.6,157.9 107.8,162.8 108.0,169.5 108.2,173.1 108.4,168.8 108.6,168.4 108.8,162.6 109.0,172.9 109.2,172.1 109.4,164.0 109.6,166.2 109.8,162.1 110.0,172.8 110.2,168.2 110.4,166.1 110.6,168.3 110.8,168.5 111.0,164.8 111.2,161.3 111.4,161.1 111.6,159.2 111.8,168.8 112.0,176.4 112.2,159.6 112.4,167.6 112.6,168.9 112.8,162.9 113.0,168.1 113.2,162.6 113.4,172.6 113.6,165.0 113.8,168.1 114.0,170.7 114.2,166.0 114.4,160.3 114.6,165.8 114.8,171.4 115.0,167.9 115.2,169.4 115.4,163.9 115.6,169.3 115.8,171.9 116.0,169.0 116.2,177.2 116.4,168.2 116.6,164.8 116.8,162.5 117.0,174.4 117.2,169.4 117.4,174.1 117.6,171.8 117.8,176.9 118.0,175.5 118.2,168.6 118.4,171.5 118.6,175.1 118.8,165.4 119.0,176.9 119.2,176.0 119.4,175.1 119.6,170.2 119.8,172.5 120.0,166.6 120.2,171.7 120.4,169.0 120.6,172.0 120.8,169.6 121.0,173.0 121.2,176.9 121.4,166.5 121.6,176.0 121.8,163.8 122.0,163.2 122.2,171.9 122.4,172.5 122.6,174.4 122.8,165.7 123.0,172.5 123.2,173.4 123.4,178.2 123.6,172.6 123.8,175.4 124.0,169.1 124.2,172.5 124.4,171.6 124.6,176.5 124.8,169.5 125.0,170.2 125.2,176.2 125.4,181.4 125.6,175.6 125.8,175.4 126.0,172.8 126.2,178.8 126.4,176.6 126.6,181.7 126.8,175.9 127.0,170.7 127.2,172.4 127.4,170.7 127.6,169.7 127.8,180.3 128.0,178.4 128.2,170.0 128.4,182.6 128.6,176.3 128.8,171.4 129.0,177.1 129.2,175.3 129.4,172.4 129.6,167.7 129.8,175.9 130.0,177.0 130.2,166.8 130.4,178.3 130.6,178.6 130.8,174.1 131.0,176.6 131.2,175.0 131.4,172.8 131.6,174.8 131.8,181.9 132.0,170.4 132.2,177.4 132.4,177.2 132.6,173.5 132.8,174.7 133.0,170.7 133.2,173.0 133.4,176.6 133.6,178.0 133.8,172.9 134.0,185.7 134.2,174.3 134.4,177.3 134.6,175.8 134.8,175.1 135.0,182.2 135.2,174.9 135.4,182.4 135.6,181.6 135.8,172.6 136.0,181.2 136.2,174.3 136.4,186.1 136.6,175.4 136.8,173.2 137.0,169.2 137.2,171.8 137.4,174.7 137.6,173.1 137.8,172.1 138.0,174.3 138.2,176.4 138.4,183.2 138.6,170.3 138.8,175.0 139.0,173.4 139.2,171.1 139.4,172.1 139.6,173.6 139.8,180.3 140.0,176.6 140.2,175.2 140.4,179.9 140.6,178.6 140.8,176.5 141.0,179.0 141.2,174.1 141.4,180.0 141.6,179.4 141.8,175.8 142.0,172.5 142.2,183.7 142.4,177.9 142.6,186.5 142.8,174.8 143.0,181.0 143.2,175.7 143.4,178.5 143.6,180.9 143.8,174.2 144.0,177.1 144.2,178.2 144.4,178.0 144.6,179.9 144.8,181.7 145.0,180.9 145.2,178.6 145.4,176.1 145.6,172.9 145.8,174.5 146.0,175.3 146.2,180.3 146.4,176.0 146.6,172.4 146.8,180.1 147.0,174.2 147.2,174.4 147.4,176.6 147.6,179.4 147.8,168.5 148.0,172.9 148.2,178.2 148.4,176.0 148.6,174.0 148.8,175.3 149.0,183.2 149.2,175.6 149.4,180.4 149.6,180.7 149.8,175.7 150.0,179.3 150.2,175.7 150.4,175.0 150.6,172.9 150.8,181.1 151.0,175.9 151.2,175.2 151.4,172.9 151.6,184.9 151.8,180.5 152.0,177.0 152.2,174.7 152.4,171.2 152.6,178.7 152.8,178.7 153.0,171.7 153.2,182.3 153.4,180.7 153.6,173.6 153.8,175.2 154.0,175.7 154.2,178.2 154.4,176.9 154.6,170.8 154.8,183.5 155.0,178.8 155.2,182.6 155.4,182.6 155.6,176.5 155.8,178.8 156.0,180.4 156.2,180.5 156.4,176.6 156.6,174.7 156.8,177.4 157.0,173.9 157.2,174.8 157.4,168.7 157.6,177.4 157.8,172.8 158.0,174.7 158.2,176.7 158.4,178.1 158.6,184.6 158.8,177.6 159.0,170.9 159.2,177.2 159.4,174.1 159.6,178.2 159.8,173.6 160.0,173.5 160.2,174.2 160.4,173.7 160.6,168.7 160.8,173.4 161.0,176.0 161.2,181.0 161.4,174.8 161.6,174.4 161.8,178.2 162.0,178.0 162.2,182.3 162.4,178.1 162.6,175.5 162.8,181.1 163.0,181.8 163.2,173.5 163.4,176.0 163.6,168.4 163.8,173.8 164.0,171.5 164.2,174.3 164.4,173.1 164.6,174.3 164.8,174.5 165.0,177.0 165.2,175.8 165.4,172.4 165.6,169.3 165.8,179.8 166.0,180.5 166.2,172.6 166.4,176.8 166.6,168.0 166.8,167.8 167.0,173.1 167.2,180.3 167.4,169.7 167.6,170.5 167.8,180.6 168.0,165.9 168.2,176.5 168.4,175.7 168.6,172.7 168.8,174.3 169.0,182.6 169.2,168.6 169.4,171.9 169.6,172.2 169.8,170.2 170.0,167.4 170.2,179.6 170.4,173.7 170.6,165.3 170.8,169.7 171.0,174.2 171.2,174.1 171.4,166.2 171.6,171.8 171.8,173.1 172.0,173.6 172.2,173.4 172.4,164.0 172.6,179.3 172.8,172.3 173.0,178.9 173.2,180.4 173.4,170.3 173.6,165.6 173.8,174.4 174.0,169.8 174.2,168.5 174.4,165.9 174.6,177.4 174.8,168.2 175.0,164.0 175.2,167.9 175.4,164.8 175.6,170.3 175.8,167.7 176.0,164.9 176.2,171.8 176.4,166.4 176.6,172.2 176.8,174.4 177.0,167.4 177.2,166.1 177.4,169.6 177.6,172.5 177.8,168.6 178.0,169.1 178.2,168.3 178.4,169.7 178.6,171.0 178.8,165.2 179.0,166.1 179.2,168.3 179.4,165.2 179.6,168.6 179.8,170.3 180.0,167.8 180.2,165.2 180.4,164.4 180.6,175.3 180.8,171.5 181.0,162.8 181.2,164.0 181.4,175.6 181.6,174.0 181.8,168.0 182.0,172.4 182.2,160.9 182.4,167.3 182.6,170.4 182.8,159.2 183.0,163.8 183.2,170.4 183.4,171.9 183.6,164.4 183.8,168.2 184.0,173.8 184.2,165.2 184.4,161.0 184.6,166.4 184.8,165.0 185.0,172.2 185.2,167.2 185.4,163.0 185.6,175.9 185.8,164.2 186.0,168.4 186.2,169.2 186.4,169.6 186.6,166.9 186.8,168.6 187.0,165.7 187.2,159.8 187.4,164.9 187.6,164.9 187.8,164.9 188.0,166.2 188.2,162.8 188.4,171.2 188.6,172.1 188.8,155.7 189.0,165.2 189.2,162.0 189.4,155.4 189.6,166.6 189.8,162.0 190.0,163.0 190.2,161.7 190.4,169.1 190.6,169.7 190.8,165.4 191.0,167.1 191.2,163.4 191.4,164.4 191.6,160.4 191.8,163.7 192.0,160.2 192.2,164.9 192.4,166.7 192.6,164.3 192.8,168.0 193.0,172.4 193.2,153.3 193.4,162.5 193.6,159.8 193.8,160.1 194.0,156.0 194.2,162.1 194.4,160.6 194.6,158.8 194.8,160.3 195.0,158.7 195.2,151.4 195.4,165.8 195.6,159.5 195.8,156.5 196.0,162.0 196.2,157.5 196.4,150.7 196.6,164.2 196.8,152.6 197.0,159.0 197.2,160.4 197.4,165.7 197.6,164.9 197.8,160.2 198.0,155.9 198.2,157.4 198.4,164.0 198.6,167.0 198.8,161.3 199.0,155.9 199.2,163.3 199.4,156.8 199.6,156.6 199.8,157.0 200.0,160.8 200.2,159.2 200.4,162.3 200.6,163.6 200.8,159.9 201.0,147.6 201.2,149.7 201.4,157.9 201.6,156.8 201.8,166.7 202.0,156.7 202.2,156.0 202.4,160.9 202.6,161.3 202.8,155.3 203.0,158.4 203.2,151.1 203.4,151.9 203.6,161.6 203.8,149.6 204.0,160.1 204.2,159.0 204.4,159.3 204.6,160.0 204.8,158.4 205.0,146.1 205.2,151.3 205.4,153.2 205.6,160.2 205.8,151.1 206.0,153.2 206.2,154.9 206.4,162.7 206.6,150.6 206.8,151.2 207.0,160.4 207.2,148.3 207.4,159.7 207.6,156.4 207.8,151.7 208.0,157.1 208.2,154.8 208.4,160.4 208.6,161.6 208.8,167.0 209.0,160.7 209.2,161.6 209.4,159.1 209.6,161.9 209.8,167.1 210.0,154.4 210.2,166.2 210.4,161.3 210.6,164.3 210.8,165.7 211.0,168.3 211.2,165.8 211.4,163.2 211.6,166.3 211.8,165.1 212.0,164.1 212.2,165.9 212.4,168.7 212.6,165.5 212.8,165.5 213.0,159.2 213.2,164.2 213.4,156.6 213.6,167.7 213.8,160.4 214.0,170.1 214.2,173.9 214.4,162.5 214.6,170.0 214.8,165.8 215.0,161.5 215.2,160.2 215.4,166.2 215.6,169.8 215.8,165.1 216.0,156.9 216.2,158.8 216.4,162.3 216.6,169.2 216.8,164.4 217.0,164.5 217.2,168.3 217.4,162.0 217.6,162.4 217.8,161.9 218.0,154.7 218.2,164.5 218.4,164.2 218.6,166.5 218.8,156.9 219.0,158.4 219.2,166.0 219.4,163.2 219.6,167.7 219.8,157.7 220.0,162.2 220.2,158.2 220.4,162.4 220.6,158.8 220.8,163.1 221.0,165.4 221.2,163.4 221.4,152.2 221.6,164.3 221.8,161.9 222.0,155.1 222.2,155.6 222.4,159.3 222.6,161.7 222.8,156.9 223.0,151.4 223.2,159.7 223.4,158.9 223.6,167.8 223.8,151.9 224.0,167.3 224.2,165.0 224.4,158.2 224.6,164.1 224.8,156.7 225.0,160.4 225.2,152.4 225.4,155.7 225.6,150.3 225.8,147.3 226.0,152.8 226.2,150.6 226.4,155.7 226.6,158.4 226.8,151.3 227.0,151.9 227.2,151.9 227.4,142.8 227.6,151.3 227.8,149.6 228.0,148.8 228.2,143.4 228.4,138.9 228.6,146.6 228.8,148.8 229.0,153.3 229.2,152.0 229.4,153.2 229.6,147.8 229.8,151.2 230.0,144.4 230.2,148.1 230.4,149.2 230.6,155.0 230.8,145.4 231.0,137.9 231.2,150.4 231.4,139.8 231.6,143.1 231.8,141.8 232.0,138.7 232.2,149.2 232.4,145.5 232.6,139.6 232.8,142.7 233.0,140.1 233.2,145.0 233.4,140.1 233.6,138.1 233.8,138.6 234.0,139.4 234.2,142.8 234.4,136.9 234.6,140.8 234.8,143.3 235.0,151.7 235.2,145.2 235.4,130.4 235.6,138.5 235.8,139.1 236.0,142.6 236.2,148.6 236.4,144.6 236.6,130.5 236.8,142.6 237.0,141.7 237.2,143.2 237.4,147.9 237.6,136.1 237.8,146.8 238.0,133.5 238.2,141.9 238.4,143.5 238.6,152.4 238.8,138.5 239.0,133.8 239.2,145.4 239.4,139.2 239.6,150.1 239.8,139.5 240.0,139.1 240.2,149.6 240.4,144.5 240.6,149.4 240.8,138.3 241.0,153.4 241.2,143.3 241.4,150.5 241.6,142.4 241.8,140.4 242.0,147.0 242.2,149.5 242.4,156.6 242.6,151.5 242.8,153.8 243.0,154.2 243.2,161.9 243.4,148.7 243.6,158.9 243.8,153.1 244.0,155.6 244.2,152.6 244.4,161.0 244.6,150.7 244.8,151.0 245.0,156.6 245.2,152.8 245.4,161.7 245.6,163.2 245.8,156.3 246.0,163.6 246.2,157.7 246.4,161.0 246.6,161.7 246.8,170.4 247.0,162.6 247.2,159.1 247.4,159.5 247.6,169.3 247.8,157.2 248.0,162.8 248.2,163.7 248.4,156.2 248.6,164.1 248.8,170.8 249.0,167.9 249.2,163.4 249.4,170.5 249.6,170.1 249.8,176.9 250.0,165.4 250.2,167.2 250.4,169.4 250.6,168.9 250.8,170.2 251.0,169.7 251.2,167.5 251.4,163.9 251.6,168.6 251.8,165.4 252.0,167.1 252.2,169.5 252.4,174.2 252.6,176.0 252.8,168.3 253.0,174.2 253.2,176.6 253.4,173.4 253.6,167.0 253.8,165.2 254.0,177.7 254.2,178.5 254.4,176.2 254.6,171.0 254.8,181.7 255.0,181.0 255.2,176.0 255.4,175.6 255.6,168.8 255.8,180.2 256.0,170.8 256.2,180.5 256.4,180.9 256.6,178.6 256.8,184.9 257.0,177.4 257.2,181.3 257.4,182.4 257.6,180.4 257.8,177.9 258.0,184.8 258.2,181.7 258.4,179.4 258.6,179.7 258.8,181.1 259.0,189.7 259.2,181.3 259.4,180.1 259.6,176.9 259.8,176.5 260.0,173.9 260.2,182.6 260.4,182.0 260.6,177.9 260.8,176.3 261.0,181.1 261.2,180.5 261.4,177.5 261.6,184.3 261.8,183.9 262.0,183.4 262.2,186.9 262.4,181.5 262.6,189.7 262.8,180.6 263.0,186.8 263.2,187.5 263.4,184.1 263.6,186.7 263.8,180.3 264.0,179.5 264.2,184.6 264.4,182.5 264.6,187.7 264.8,185.4 265.0,187.7 265.2,186.5 265.4,186.0 265.6,185.5 265.8,183.6 266.0,183.2 266.2,193.0 266.4,178.0 266.6,184.1 266.8,188.8 267.0,186.4 267.2,190.2 267.4,186.7 267.6,179.5 267.8,183.1 268.0,178.7 268.2,188.1 268.4,189.8 268.6,182.3 268.8,186.1 269.0,182.2 269.2,178.0 269.4,181.9 269.6,177.2 269.8,181.1 270.0,184.1 270.2,186.0 270.4,188.1 270.6,181.5 270.8,183.6 271.0,184.2 271.2,184.5 271.4,173.5 271.6,178.9 271.8,185.0 272.0,177.1 272.2,182.5 272.4,184.6 272.6,173.5 272.8,180.2 273.0,181.8 273.2,180.7 273.4,174.3 273.6,181.7 273.8,177.8 274.0,183.2 274.2,181.4 274.4,177.2 274.6,179.9 274.8,176.2 275.0,175.9 275.2,172.1 275.4,177.4 275.6,181.4 275.8,178.4 276.0,177.7 276.2,175.0 276.4,175.2 276.6,180.3 276.8,170.9 277.0,185.4 277.2,176.6 277.4,185.7 277.6,181.5 277.8,174.9 278.0,179.6 278.2,177.7 278.4,178.5 278.6,179.9 278.8,174.3 279.0,174.0 279.2,174.8 279.4,170.9 279.6,175.5 279.8,177.5 280.0,177.6 280.2,177.3 280.4,174.9 280.6,179.8 280.8,168.1 281.0,174.9 281.2,175.1 281.4,180.2 281.6,179.2 281.8,179.8 282.0,176.5 282.2,180.4 282.4,172.3 282.6,176.7 282.8,168.0 283.0,183.5 283.2,182.9 283.4,173.9 283.6,172.9 283.8,168.0 284.0,170.1 284.2,176.9 284.4,175.7 284.6,170.3 284.8,174.3 285.0,173.5 285.2,178.0 285.4,178.8 285.6,174.8 285.8,175.9 286.0,175.1 286.2,166.2 286.4,175.1 286.6,173.7 286.8,176.7 287.0,165.5 287.2,176.0 287.4,169.8 287.6,173.2 287.8,176.8 288.0,165.2 288.2,165.5 288.4,175.0 288.6,165.6 288.8,166.1 289.0,172.4 289.2,168.6 289.4,172.5 289.6,170.1 289.8,168.4 290.0,172.4 290.2,177.2 290.4,167.0 290.6,173.5 290.8,171.6 291.0,166.9 291.2,168.0 291.4,161.6 291.6,162.6 291.8,166.0 292.0,164.2 292.2,169.6 292.4,157.9 292.6,161.8 292.8,159.9 293.0,161.6 293.2,167.0 293.4,156.1 293.6,164.8 293.8,158.1 294.0,159.0 294.2,164.5 294.4,158.5 294.6,162.3 294.8,159.5 295.0,157.9 295.2,156.7 295.4,150.2 295.6,154.3 295.8,158.2 296.0,158.1 296.2,150.4 296.4,161.5 296.6,159.5 296.8,151.1 297.0,152.3 297.2,159.4 297.4,149.2 297.6,153.9 297.8,157.2 298.0,157.0 298.2,157.5 298.4,159.7 298.6,154.5 298.8,156.1 299.0,167.7 299.2,152.4 299.4,157.0 299.6,159.8 299.8,156.9 300.0,165.6 300.2,161.0 300.4,164.5 300.6,152.4 300.8,167.4 301.0,167.8 301.2,160.0 301.4,169.6 301.6,165.6 301.8,169.1 302.0,173.4 302.2,166.5 302.4,162.3 302.6,167.2 302.8,162.3 303.0,165.0 303.2,165.8 303.4,166.6 303.6,175.2 303.8,174.4 304.0,167.7 304.2,176.9 304.4,165.7 304.6,170.7 304.8,173.5 305.0,179.6 305.2,178.3 305.4,177.8 305.6,181.9 305.8,180.1 306.0,183.4 306.2,175.3 306.4,172.3 306.6,178.1 306.8,183.8 307.0,182.2 307.2,185.3 307.4,185.2 307.6,185.0 307.8,186.8 308.0,181.3 308.2,189.0 308.4,181.3 308.6,185.3 308.8,180.7 309.0,188.7 309.2,181.1 309.4,193.2 309.6,182.9 309.8,189.6 310.0,188.5 310.2,186.1 310.4,194.8 310.6,188.7 310.8,196.4 311.0,187.3 311.2,188.6 311.4,184.4 311.6,194.5 311.8,196.3 312.0,194.0 312.2,192.9 312.4,190.4 312.6,202.7 312.8,197.3 313.0,187.8 313.2,193.9 313.4,187.3 313.6,201.5 313.8,203.3 314.0,201.6 314.2,196.2 314.4,194.4 314.6,191.7 314.8,199.1 315.0,194.6 315.2,196.2 315.4,195.4 315.6,196.9 315.8,201.5 316.0,204.7 316.2,199.2 316.4,198.9 316.6,195.0 316.8,194.8 317.0,195.6 317.2,202.9 317.4,200.8 317.6,203.6 317.8,201.8 318.0,199.0 318.2,196.1 318.4,199.5 318.6,195.8 318.8,208.5 319.0,202.3 319.2,200.2 319.4,209.0 319.6,200.5 319.8,204.1 320.0,201.7 320.2,203.8 320.4,201.3 320.6,204.6 320.8,208.2 321.0,198.7 321.2,195.7 321.4,208.5 321.6,204.4 321.8,207.1 322.0,203.1 322.2,209.9 322.4,211.0 322.6,200.5 322.8,207.2 323.0,202.8 323.2,199.4 323.4,204.2 323.6,207.5 323.8,200.7 324.0,201.1 324.2,210.2 324.4,206.1 324.6,207.5 324.8,202.1 325.0,203.9 325.2,206.8 325.4,207.1 325.6,207.0 325.8,212.3 326.0,207.3 326.2,201.3 326.4,203.7 326.6,206.7 326.8,211.5 327.0,204.6 327.2,205.7 327.4,207.0 327.6,204.7 327.8,204.3 328.0,206.5 328.2,210.9 328.4,209.1 328.6,206.5 328.8,209.0 329.0,203.1 329.2,211.2 329.4,210.3 329.6,208.9 329.8,202.1 330.0,215.1 330.2,200.8 330.4,204.6 330.6,205.0 330.8,210.7 331.0,203.1 331.2,209.3 331.4,208.1 331.6,207.7 331.8,211.8 332.0,213.9 332.2,210.4 332.4,208.2 332.6,202.1 332.8,214.6 333.0,208.5 333.2,203.2 333.4,210.3 333.6,214.9 333.8,209.5 334.0,206.1 334.2,218.1 334.4,212.5 334.6,211.7 334.8,214.1 335.0,203.5 335.2,210.5 335.4,210.3 335.6,218.8 335.8,209.1 336.0,209.2 336.2,206.4 336.4,208.4 336.6,210.6 336.8,212.3 337.0,210.8 337.2,218.5 337.4,213.4 337.6,213.9 337.8,216.5 338.0,214.1 338.2,210.1 338.4,206.7 338.6,213.3 338.8,209.3 339.0,216.7 339.2,209.6 339.4,205.2 339.6,212.5 339.8,216.1 340.0,211.7 340.2,213.1 340.4,213.0 340.6,218.5 340.8,213.6 341.0,212.4 341.2,210.4 341.4,206.9 341.6,217.4 341.8,216.5 342.0,209.3 342.2,214.6 342.4,213.7 342.6,211.2 342.8,211.4 343.0,215.1 343.2,208.3 343.4,210.7 343.6,212.2 343.8,212.4 344.0,211.7 344.2,213.2 344.4,214.2 344.6,209.3 344.8,212.7 345.0,210.5 345.2,217.5 345.4,207.5 345.6,211.5 345.8,214.7 346.0,211.3 346.2,211.1 346.4,210.4 346.6,213.3 346.8,208.2 347.0,211.9 347.2,211.8 347.4,207.1 347.6,213.1 347.8,210.5 348.0,213.2 348.2,215.1 348.4,213.2 348.6,208.0 348.8,213.1 349.0,206.5 349.2,209.3 349.4,217.7 349.6,212.0 349.8,217.3 350.0,211.3 350.2,211.9 350.4,208.0 350.6,215.1 350.8,211.1 351.0,213.9 351.2,213.3 351.4,213.6 351.6,212.8 351.8,211.6 352.0,211.7 352.2,209.2 352.4,204.3 352.6,213.3 352.8,218.8 353.0,215.3 353.2,219.2 353.4,213.2 353.6,208.1 353.8,208.0 354.0,214.0 354.2,212.5 354.4,210.7 354.6,213.8 354.8,208.2 355.0,213.0 355.2,210.2 355.4,211.6 355.6,215.2 355.8,210.5 356.0,215.7 356.2,215.5 356.4,208.2 356.6,218.4 356.8,206.5 357.0,210.4 357.2,213.3 357.4,203.1 357.6,214.2 357.8,214.5 358.0,210.1 358.2,211.4 358.4,211.2 358.6,209.7 358.8,214.1 359.0,209.0 359.2,210.2 359.4,211.6 359.6,213.2 359.8,214.1 360.0,205.0 360.2,203.0 360.4,209.6 360.6,209.9 360.8,206.2 361.0,211.1 361.2,212.2 361.4,211.3 361.6,215.7 361.8,206.2 362.0,209.9 362.2,216.5 362.4,212.1 362.6,205.8 362.8,210.3 363.0,213.7 363.2,216.8 363.4,211.8 363.6,213.5 363.8,205.4 364.0,208.4 364.2,213.4 364.4,205.7 364.6,208.8 364.8,202.4 365.0,214.1 365.2,208.3 365.4,210.7 365.6,203.3 365.8,203.8 366.0,214.8 366.2,207.1 366.4,206.3 366.6,209.9 366.8,210.0 367.0,200.9 367.2,204.3 367.4,207.9 367.6,207.6 367.8,208.8 368.0,205.9 368.2,206.4 368.4,208.1 368.6,204.8 368.8,204.2 369.0,205.1 369.2,207.1 369.4,206.4 369.6,205.2 369.8,206.0 370.0,206.6 370.2,207.9 370.4,208.0 370.6,202.1 370.8,210.1 371.0,200.9 371.2,208.5 371.4,203.9 371.6,208.5 371.8,210.2 372.0,199.6 372.2,208.4 372.4,207.2 372.6,204.5 372.8,207.5 373.0,204.3 373.2,206.5 373.4,202.3 373.6,208.8 373.8,208.0 374.0,208.5 374.2,203.5 374.4,212.4 374.6,212.8 374.8,205.4 375.0,204.2 375.2,204.2 375.4,208.0 375.6,209.2 375.8,202.8 376.0,198.2 376.2,207.0 376.4,205.2 376.6,205.9 376.8,207.1 377.0,201.2 377.2,205.4 377.4,204.0 377.6,206.4 377.8,209.4 378.0,204.9 378.2,201.8 378.4,209.3 378.6,207.3 378.8,204.0 379.0,198.2 379.2,201.5 379.4,205.1 379.6,206.5 379.8,202.6 380.0,206.0 380.2,202.1 380.4,202.8 380.6,206.1 380.8,203.2 381.0,204.6 381.2,207.2 381.4,208.1 381.6,201.8 381.8,203.0 382.0,199.1 382.2,199.1 382.4,204.8 382.6,201.8 382.8,196.9 383.0,205.4 383.2,200.4 383.4,202.2 383.6,204.8 383.8,204.7 384.0,203.0 384.2,195.9 384.4,205.1 384.6,200.8 384.8,197.8 385.0,195.1 385.2,207.5 385.4,203.2 385.6,203.0 385.8,204.7 386.0,202.2 386.2,197.1 386.4,204.8 386.6,205.9 386.8,204.0 387.0,207.6 387.2,208.9 387.4,199.0 387.6,200.2 387.8,205.0 388.0,202.3 388.2,202.4 388.4,204.9 388.6,204.1 388.8,199.7 389.0,201.7 389.2,198.6 389.4,200.4 389.6,196.9 389.8,193.8 390.0,199.0 390.2,198.6 390.4,203.9 390.6,206.3 390.8,200.5 391.0,202.1 391.2,197.9 391.4,196.8 391.6,199.0 391.8,198.9 392.0,200.9 392.2,200.1 392.4,205.6 392.6,198.6 392.8,193.2 393.0,199.5 393.2,196.5 393.4,199.6 393.6,202.8 393.8,196.1 394.0,198.1 394.2,200.1 394.4,194.6 394.6,198.7 394.8,199.8 395.0,200.6 395.2,201.5 395.4,199.4 395.6,198.7 395.8,192.0 396.0,188.9 396.2,193.3 396.4,202.1 396.6,197.2 396.8,188.6 397.0,195.0 397.2,197.9 397.4,189.6 397.6,198.6 397.8,192.2 398.0,200.3 398.2,196.6 398.4,204.7 398.6,191.5 398.8,197.6 399.0,191.1 399.2,200.9 399.4,197.1 399.6,200.1 399.8,197.1 400.0,192.5 400.2,194.5 400.4,192.4 400.6,193.1 400.8,197.6 401.0,201.1 401.2,200.4 401.4,199.2 401.6,195.3 401.8,199.4 402.0,194.4 402.2,198.4 402.4,200.8 402.6,197.1 402.8,196.2 403.0,196.4 403.2,200.3 403.4,197.0 403.6,192.9 403.8,196.7 404.0,194.4 404.2,203.8 404.4,198.4 404.6,193.0 404.8,199.4 405.0,201.1 405.2,199.9 405.4,197.2 405.6,199.0 405.8,199.5 406.0,202.2 406.2,199.8 406.4,206.6 406.6,197.7 406.8,204.0 407.0,198.5 407.2,192.1 407.4,194.1 407.6,191.7 407.8,192.0 408.0,202.7 408.2,195.9 408.4,200.5 408.6,195.0 408.8,198.2 409.0,194.3 409.2,201.3 409.4,197.2 409.6,196.4 409.8,197.5 410.0,206.0 410.2,199.6 410.4,201.0 410.6,193.3 410.8,195.5 411.0,198.9 411.2,191.0 411.4,202.7 411.6,198.7 411.8,197.6 412.0,196.9 412.2,196.7 412.4,195.7 412.6,202.6 412.8,200.0 413.0,202.0 413.2,196.3 413.4,194.1 413.6,202.3 413.8,192.7 414.0,194.9 414.2,199.7 414.4,201.1 414.6,192.1 414.8,195.9 415.0,197.0 415.2,196.3 415.4,193.5 415.6,199.2 415.8,194.6 416.0,195.6 416.2,188.3 416.4,195.9 416.6,189.1 416.8,198.8 417.0,197.9 417.2,194.1 417.4,196.5 417.6,196.3 417.8,195.2 418.0,197.0 418.2,195.1 418.4,193.7 418.6,192.5 418.8,201.6 419.0,196.0 419.2,195.1 419.4,197.7 419.6,193.4 419.8,193.3 420.0,197.1 420.2,198.3 420.4,196.9 420.6,188.7 420.8,194.3 421.0,193.8 421.2,195.5 421.4,190.3 421.6,189.6 421.8,192.9 422.0,189.9 422.2,189.1 422.4,192.7 422.6,196.3 422.8,193.2 423.0,196.8 423.2,188.7 423.4,195.0 423.6,192.2 423.8,188.9 424.0,190.5 424.2,188.8 424.4,191.2 424.6,189.1 424.8,196.7 425.0,190.5 425.2,186.5 425.4,191.1 425.6,193.3 425.8,190.6 426.0,195.0 426.2,188.3 426.4,188.5 426.6,197.8 426.8,191.7 427.0,193.7 427.2,193.5 427.4,193.8 427.6,191.7 427.8,190.8 428.0,195.6 428.2,189.5 428.4,191.7 428.6,193.8 428.8,189.6 429.0,185.1 429.2,192.4 429.4,194.6 429.6,191.3 429.8,183.7 430.0,192.2 430.2,197.0 430.4,183.4 430.6,180.5 430.8,187.8 431.0,188.8 431.2,191.2 431.4,191.0 431.6,187.9 431.8,189.3 432.0,188.1 432.2,186.9 432.4,185.7 432.6,184.9 432.8,187.7 433.0,186.0 433.2,182.2 433.4,187.6 433.6,179.8 433.8,180.9 434.0,181.4 434.2,172.2 434.4,177.1 434.6,180.8 434.8,179.5 435.0,170.1 435.2,170.5 435.4,168.4 435.6,171.0 435.8,170.9 436.0,163.7 436.2,170.9 436.4,169.2 436.6,167.8 436.8,164.6 437.0,166.0 437.2,158.5 437.4,166.3 437.6,165.5 437.8,163.5 438.0,158.2 438.2,168.0 438.4,166.8 438.6,153.1 438.8,162.3 439.0,160.5 439.2,149.3 439.4,160.7 439.6,160.6 439.8,160.2 440.0,156.9 440.2,152.6 440.4,152.4 440.6,156.1 440.8,158.2 441.0,149.9 441.2,150.0 441.4,153.6 441.6,139.9 441.8,150.8 442.0,147.0 442.2,137.2 442.4,150.0 442.6,141.5 442.8,148.7 443.0,150.7 443.2,137.8 443.4,137.3 443.6,142.0 443.8,133.1 444.0,143.9 444.2,140.5 444.4,143.3 444.6,128.9 444.8,137.5 445.0,137.7 445.2,125.7 445.4,137.8 445.6,125.9 445.8,132.6 446.0,124.5 446.2,134.1 446.4,138.4 446.6,130.5 446.8,130.7 447.0,137.4 447.2,129.5 447.4,132.6 447.6,137.1 447.8,136.1 448.0,142.8 448.2,142.3 448.4,147.3 448.6,139.8 448.8,146.9 449.0,139.6 449.2,149.5 449.4,155.1 449.6,158.7 449.8,144.7 450.0,151.2 450.2,156.8 450.4,151.4 450.6,159.4 450.8,161.0 451.0,158.3 451.2,159.9 451.4,160.1 451.6,167.2 451.8,173.2 452.0,170.9 452.2,180.5 452.4,167.2 452.6,172.5 452.8,179.1 453.0,173.3 453.2,180.6 453.4,183.8 453.6,182.6 453.8,182.3 454.0,188.1 454.2,187.2 454.4,189.6 454.6,190.0 454.8,186.5 455.0,185.9 455.2,189.7 455.4,192.8 455.6,192.4 455.8,197.5 456.0,195.9 456.2,199.5 456.4,197.3 456.6,195.2 456.8,201.9 457.0,201.6 457.2,197.9 457.4,200.3 457.6,210.3 457.8,195.1 458.0,207.8 458.2,204.6 458.4,204.6 458.6,204.3 458.8,204.0 459.0,213.7 459.2,205.0 459.4,205.8 459.6,209.9 459.8,208.8 460.0,207.1 460.2,207.0 460.4,203.6 460.6,212.1 460.8,205.0 461.0,201.0 461.2,212.6 461.4,211.7 461.6,210.5 461.8,207.7 462.0,213.7 462.2,206.1 462.4,202.5 462.6,210.7 462.8,213.1 463.0,212.6 463.2,217.8 463.4,213.7 463.6,210.3 463.8,210.7 464.0,214.6 464.2,211.5 464.4,211.5 464.6,206.2 464.8,211.4 465.0,208.2 465.2,213.6 465.4,213.5 465.6,215.6 465.8,219.4 466.0,213.0 466.2,218.6 466.4,210.1 466.6,214.6 466.8,217.5 467.0,221.0 467.2,210.9 467.4,213.9 467.6,215.4 467.8,214.7 468.0,212.0 468.2,209.9 468.4,211.4 468.6,215.4 468.8,211.3 469.0,221.8 469.2,220.1 469.4,209.8 469.6,214.6 469.8,220.8 470.0,221.3 470.2,220.3 470.4,212.0 470.6,215.6 470.8,221.1 471.0,217.3 471.2,215.6 471.4,218.8 471.6,220.5 471.8,217.8 472.0,218.3 472.2,221.1 472.4,215.8 472.6,214.7 472.8,220.3 473.0,213.9 473.2,219.6 473.4,215.6 473.6,220.8 473.8,214.2 474.0,221.9 474.2,219.2 474.4,217.4 474.6,215.6 474.8,218.0 475.0,215.5 475.2,214.7 475.4,222.2 475.6,220.7 475.8,222.8 476.0,214.4 476.2,212.5 476.4,213.8 476.6,221.1 476.8,221.7 477.0,213.1 477.2,222.5 477.4,217.8 477.6,215.4 477.8,219.1 478.0,221.3 478.2,218.8 478.4,218.9 478.6,216.8 478.8,215.0 479.0,218.4 479.2,214.4 479.4,221.7 479.6,217.0 479.8,224.1 480.0,214.7 480.2,224.5 480.4,217.1 480.6,217.1 480.8,221.0 481.0,223.0 481.2,220.0 481.4,219.0 481.6,226.7 481.8,221.8 482.0,216.3 482.2,219.4 482.4,225.8 482.6,221.4 482.8,223.0 483.0,226.9 483.2,218.4 483.4,221.6 483.6,218.2 483.8,220.4 484.0,222.1 484.2,216.1 484.4,220.9 484.6,220.9 484.8,223.9 485.0,218.5 485.2,216.3 485.4,221.8 485.6,216.9 485.8,221.1 486.0,222.4 486.2,217.7 486.4,220.2 486.6,217.2 486.8,213.5 487.0,215.8 487.2,213.8 487.4,220.6 487.6,217.1 487.8,220.1 488.0,220.5 488.2,224.1 488.4,219.5 488.6,219.3 488.8,222.3 489.0,225.9 489.2,220.4 489.4,221.8 489.6,220.1 489.8,218.4 490.0,215.7 490.2,220.4 490.4,219.8 490.6,219.9 490.8,227.2 491.0,219.7 491.2,221.8 491.4,219.6 491.6,224.6 491.8,219.8 492.0,226.8 492.2,219.9 492.4,223.3 492.6,224.1 492.8,220.1 493.0,223.6 493.2,221.0 493.4,218.4 493.6,218.7 493.8,221.9 494.0,226.7 494.2,219.3 494.4,222.7 494.6,218.3 494.8,221.7 495.0,216.7 495.2,218.4 495.4,220.9 495.6,218.5 495.8,220.1 496.0,224.2 496.2,220.5 496.4,218.6 496.6,217.0 496.8,219.3 497.0,224.7 497.2,220.7 497.4,220.5 497.6,223.4 497.8,223.7 498.0,224.3 498.2,219.9 498.4,218.1 498.6,215.7 498.8,218.9 499.0,219.9 499.2,223.4 499.4,222.1 499.6,219.3 499.8,224.0 500.0,217.1 500.2,217.7 500.4,217.3 500.6,217.6 500.8,220.3 501.0,218.4 501.2,218.7 501.4,225.5 501.6,216.5 501.8,217.9 502.0,220.4 502.2,222.7 502.4,222.8 502.6,220.4 502.8,220.1 503.0,220.4 503.2,223.7 503.4,218.3 503.6,214.2 503.8,221.9 504.0,217.5 504.2,221.1 504.4,225.8 504.6,221.7 504.8,227.3 505.0,216.2 505.2,222.1 505.4,222.6 505.6,224.1 505.8,219.0 506.0,221.9 506.2,221.8 506.4,221.7 506.6,217.0 506.8,215.9 507.0,223.2 507.2,222.6 507.4,221.6 507.6,223.6 507.8,225.0 508.0,217.8 508.2,224.1 508.4,226.4 508.6,224.9 508.8,223.5 509.0,223.9 509.2,217.0 509.4,220.0 509.6,225.0 509.8,226.4 510.0,223.2 510.2,220.2 510.4,221.3 510.6,224.5 510.8,228.3 511.0,224.3 511.2,220.1 511.4,223.8 511.6,223.2 511.8,228.8 512.0,223.8 512.2,222.0 512.4,221.6 512.6,217.9 512.8,218.5 513.0,220.4 513.2,219.3 513.4,222.6 513.6,222.3 513.8,225.0 514.0,226.8 514.2,222.5 514.4,221.4 514.6,216.0 514.8,223.2 515.0,224.1 515.2,219.6 515.4,220.8 515.6,219.8 515.8,225.5 516.0,224.1 516.2,226.0 516.4,218.2 516.6,229.0 516.8,219.4 517.0,218.8 517.2,222.7 517.4,220.3 517.6,228.0 517.8,220.8 518.0,219.9 518.2,225.3 518.4,226.1 518.6,219.5 518.8,220.6 519.0,221.0 519.2,221.7 519.4,227.7 519.6,226.2 519.8,225.6 520.0,226.3 520.2,222.3 520.4,225.0 520.6,222.0 520.8,219.8 521.0,227.6 521.2,216.6 521.4,222.2 521.6,220.4 521.8,216.9 522.0,221.0 522.2,222.5 522.4,223.7 522.6,219.6 522.8,224.7 523.0,223.2 523.2,224.9 523.4,216.1 523.6,220.8 523.8,220.3 524.0,224.1 524.2,219.9 524.4,220.7 524.6,218.6 524.8,218.5 525.0,219.3 525.2,225.4 525.4,218.9 525.6,215.3 525.8,223.3 526.0,220.9 526.2,224.1 526.4,224.1 526.6,221.3 526.8,221.0 527.0,220.6 527.2,222.3 527.4,219.9 527.6,223.0 527.8,226.8 528.0,220.3 528.2,220.4 528.4,220.4 528.6,224.4 528.8,224.6 529.0,227.1 529.2,224.8 529.4,222.9 529.6,224.0 529.8,218.4 530.0,224.4 530.2,223.1 530.4,229.2 530.6,227.0 530.8,220.0 531.0,220.8 531.2,225.5 531.4,216.1 531.6,219.7 531.8,223.9 532.0,224.8 532.2,223.3 532.4,226.5 532.6,221.9 532.8,223.1 533.0,222.2 533.2,219.3 533.4,223.0 533.6,221.1 533.8,223.1 534.0,215.9 534.2,223.3 534.4,221.2 534.6,221.0 534.8,223.1 535.0,221.5"/>
<polyline class="c" stroke="#f82e2e" points="48.2,223.4 48.4,204.5 48.6,216.4 48.8,212.2 49.0,212.9 49.2,214.2 49.4,206.3 49.6,214.5 49.8,211.8 50.0,225.8 50.2,217.2 50.4,214.8 50.6,215.3 50.8,213.7 51.0,212.2 51.2,215.4 51.4,219.5 51.6,216.5 51.8,222.1 52.0,217.1 52.2,218.3 52.4,225.4 52.6,221.1 52.8,216.6 53.0,218.3 53.2,221.8 53.4,228.3 53.6,218.6 53.8,218.9 54.0,224.8 54.2,216.5 54.4,219.4 54.6,224.9 54.8,223.8 55.0,221.8 55.2,224.6 55.4,212.1 55.6,226.6 55.8,218.0 56.0,215.1 56.2,223.9 56.4,226.0 56.6,221.1 56.8,218.6 57.0,223.6 57.2,223.5 57.4,230.1 57.6,227.4 57.8,225.1 58.0,229.3 58.2,223.8 58.4,220.8 58.6,227.6 58.8,227.8 59.0,224.5 59.2,222.2 59.4,226.8 59.6,216.5 59.8,229.1 60.0,228.4 60.2,219.5 60.4,226.9 60.6,222.7 60.8,230.2 61.0,218.5 61.2,223.5 61.4,230.5 61.6,232.6 61.8,218.7 62.0,225.9 62.2,229.5 62.4,225.7 62.6,235.2 62.8,223.6 63.0,230.3 63.2,224.5 63.4,235.0 63.6,229.1 63.8,227.8 64.0,222.3 64.2,236.7 64.4,232.9 64.6,233.1 64.8,234.8 65.0,231.6 65.2,227.7 65.4,227.1 65.6,227.3 65.8,236.4 66.0,224.8 66.2,228.5 66.4,229.8 66.6,232.2 66.8,233.7 67.0,226.4 67.2,224.5 67.4,231.7 67.6,236.9 67.8,235.1 68.0,233.0 68.2,231.0 68.4,233.6 68.6,231.5 68.8,235.9 69.0,229.5 69.2,233.4 69.4,232.5 69.6,235.3 69.8,234.1 70.0,242.2 70.2,239.5 70.4,239.6 70.6,225.4 70.8,232.4 71.0,231.5 71.2,236.2 71.4,225.3 71.6,239.0 71.8,238.7 72.0,229.3 72.2,230.7 72.4,231.5 72.6,235.0 72.8,237.5 73.0,243.3 73.2,234.4 73.4,238.4 73.6,236.1 73.8,242.5 74.0,238.6 74.2,241.2 74.4,231.6 74.6,235.3 74.8,232.9 75.0,242.2 75.2,239.0 75.4,235.3 75.6,234.8 75.8,238.6 76.0,234.1 76.2,233.3 76.4,239.0 76.6,245.8 76.8,236.3 77.0,235.3 77.2,233.0 77.4,232.5 77.6,239.8 77.8,241.2 78.0,238.0 78.2,239.4 78.4,238.7 78.6,238.9 78.8,232.6 79.0,236.8 79.2,239.1 79.4,235.8 79.6,237.1 79.8,235.9 80.0,237.9 80.2,242.6 80.4,237.9 80.6,239.0 80.8,242.8 81.0,242.3 81.2,246.4 81.4,232.1 81.6,243.4 81.8,238.5 82.0,240.9 82.2,243.7 82.4,244.8 82.6,244.7 82.8,241.5 83.0,247.1 83.2,240.1 83.4,240.7 83.6,244.4 83.8,239.4 84.0,249.8 84.2,245.6 84.4,250.0 84.6,241.9 84.8,240.7 85.0,242.8 85.2,245.1 85.4,240.2 85.6,244.0 85.8,242.6 86.0,248.8 86.2,240.4 86.4,246.9 86.6,240.7 86.8,239.6 87.0,240.6 87.2,239.0 87.4,244.0 87.6,247.4 87.8,244.3 88.0,246.0 88.2,249.8 88.4,244.9 88.6,244.7 88.8,243.1 89.0,238.3 89.2,247.0 89.4,237.9 89.6,246.8 89.8,244.4 90.0,248.7 90.2,244.4 90.4,241.7 90.6,246.1 90.8,242.8 91.0,244.3 91.2,245.2 91.4,244.6 91.6,244.5 91.8,242.2 92.0,244.7 92.2,237.7 92.4,244.9 92.6,241.2 92.8,249.7 93.0,250.3 93.2,238.7 93.4,246.4 93.6,245.5 93.8,242.2 94.0,248.0 94.2,244.4 94.4,239.8 94.6,245.3 94.8,245.8 95.0,246.7 95.2,242.0 95.4,248.7 95.6,249.2 95.8,242.5 96.0,244.3 96.2,246.4 96.4,244.8 96.6,253.1 96.8,247.6 97.0,243.3 97.2,244.2 97.4,246.8 97.6,254.9 97.8,246.5 98.0,247.6 98.2,249.1 98.4,247.1 98.6,255.2 98.8,245.5 99.0,250.1 99.2,248.0 99.4,249.7 99.6,243.3 99.8,253.8 100.0,247.2 100.2,247.7 100.4,244.3 100.6,245.1 100.8,249.7 101.0,251.2 101.2,250.4 101.4,252.1 101.6,250.4 101.8,248.0 102.0,250.8 102.2,250.0 102.4,247.6 102.6,250.5 102.8,252.5 103.0,248.8 103.2,246.8 103.4,250.6 103.6,254.8 103.8,247.3 104.0,247.8 104.2,247.6 104.4,252.5 104.6,241.7 104.8,249.5 105.0,252.4 105.2,245.4 105.4,253.5 105.6,250.2 105.8,246.3 106.0,249.0 106.2,242.9 106.4,246.4 106.6,254.8 106.8,245.2 107.0,254.9 107.2,248.1 107.4,252.0 107.6,248.6 107.8,240.8 108.0,246.5 108.2,249.2 108.4,244.5 108.6,243.9 108.8,249.9 109.0,246.4 109.2,242.7 109.4,246.3 109.6,251.8 109.8,247.1 110.0,252.1 110.2,254.2 110.4,249.0 110.6,245.0 110.8,244.4 111.0,248.9 111.2,252.1 111.4,250.0 111.6,251.0 111.8,247.6 112.0,250.3 112.2,247.6 112.4,248.2 112.6,244.9 112.8,243.9 113.0,247.8 113.2,245.7 113.4,246.2 113.6,252.0 113.8,249.3 114.0,257.4 114.2,253.0 114.4,247.7 114.6,252.6 114.8,251.2 115.0,247.7 115.2,254.0 115.4,247.5 115.6,242.7 115.8,253.1 116.0,248.3 116.2,255.6 116.4,248.3 116.6,246.5 116.8,256.0 117.0,247.0 117.2,251.5 117.4,255.9 117.6,251.3 117.8,250.7 118.0,251.4 118.2,254.0 118.4,248.5 118.6,253.4 118.8,253.3 119.0,258.9 119.2,250.3 119.4,248.4 119.6,254.1 119.8,250.3 120.0,252.7 120.2,252.3 120.4,255.9 120.6,249.7 120.8,251.7 121.0,244.6 121.2,249.1 121.4,257.4 121.6,250.0 121.8,249.9 122.0,248.3 122.2,254.4 122.4,253.1 122.6,248.6 122.8,254.9 123.0,253.6 123.2,255.3 123.4,250.7 123.6,258.7 123.8,254.3 124.0,252.6 124.2,251.3 124.4,252.3 124.6,256.1 124.8,252.4 125.0,257.0 125.2,255.4 125.4,258.0 125.6,256.3 125.8,253.4 126.0,247.3 126.2,254.7 126.4,256.4 126.6,254.4 126.8,255.8 127.0,252.4 127.2,252.8 127.4,251.0 127.6,258.7 127.8,254.8 128.0,252.7 128.2,250.0 128.4,253.9 128.6,259.3 128.8,256.1 129.0,252.2 129.2,259.4 129.4,259.5 129.6,258.0 129.8,257.5 130.0,258.7 130.2,256.8 130.4,257.6 130.6,252.5 130.8,260.1 131.0,255.9 131.2,261.9 131.4,248.6 131.6,257.6 131.8,258.6 132.0,254.3 132.2,257.0 132.4,258.0 132.6,257.5 132.8,253.8 133.0,255.2 133.2,259.0 133.4,259.9 133.6,256.1 133.8,256.1 134.0,256.5 134.2,259.3 134.4,252.5 134.6,251.7 134.8,256.4 135.0,252.5 135.2,254.2 135.4,256.4 135.6,257.7 135.8,252.7 136.0,258.9 136.2,250.5 136.4,258.1 136.6,251.2 136.8,252.3 137.0,258.5 137.2,255.1 137.4,253.9 137.6,255.1 137.8,258.1 138.0,256.4 138.2,256.5 138.4,260.1 138.6,254.4 138.8,255.2 139.0,255.1 139.2,260.6 139.4,260.0 139.6,261.0 139.8,256.8 140.0,256.4 140.2,259.7 140.4,255.7 140.6,259.7 140.8,259.4 141.0,254.9 141.2,256.9 141.4,256.8 141.6,262.8 141.8,264.3 142.0,257.0 142.2,257.4 142.4,250.3 142.6,258.1 142.8,257.4 143.0,254.0 143.2,260.0 143.4,252.5 143.6,256.9 143.8,258.1 144.0,253.7 144.2,260.4 144.4,261.1 144.6,253.4 144.8,253.3 145.0,259.8 145.2,257.8 145.4,254.1 145.6,257.1 145.8,257.7 146.0,257.7 146.2,260.8 146.4,259.4 146.6,263.9 146.8,262.7 147.0,260.5 147.2,261.8 147.4,262.7 147.6,260.7 147.8,254.7 148.0,261.3 148.2,258.9 148.4,263.8 148.6,259.0 148.8,260.5 149.0,259.9 149.2,264.2 149.4,259.5 149.6,258.1 149.8,260.0 150.0,257.7 150.2,259.6 150.4,259.1 150.6,260.0 150.8,265.2 151.0,258.0 151.2,259.4 151.4,258.7 151.6,261.4 151.8,255.6 152.0,257.2 152.2,259.3 152.4,261.1 152.6,259.3 152.8,257.9 153.0,256.8 153.2,261.1 153.4,264.0 153.6,260.5 153.8,260.1 154.0,260.9 154.2,256.5 154.4,258.5 154.6,258.7 154.8,260.4 155.0,259.4 155.2,255.7 155.4,263.0 155.6,264.8 155.8,258.6 156.0,260.7 156.2,260.3 156.4,261.9 156.6,254.7 156.8,264.4 157.0,257.9 157.2,263.3 157.4,259.6 157.6,258.1 157.8,258.8 158.0,262.1 158.2,256.5 158.4,258.0 158.6,257.7 158.8,253.8 159.0,263.2 159.2,260.9 159.4,259.0 159.6,262.7 159.8,256.0 160.0,258.8 160.2,264.4 160.4,262.0 160.6,252.0 160.8,251.9 161.0,255.6 161.2,262.2 161.4,257.3 161.6,258.1 161.8,260.6 162.0,255.9 162.2,259.3 162.4,261.1 162.6,260.0 162.8,259.8 163.0,256.6 163.2,260.1 163.4,257.1 163.6,262.5 163.8,265.3 164.0,255.9 164.2,251.3 164.4,256.8 164.6,259.3 164.8,261.4 165.0,261.5 165.2,255.5 165.4,255.4 165.6,261.9 165.8,254.3 166.0,261.2 166.2,256.9 166.4,260.0 166.6,259.7 166.8,259.9 167.0,260.0 167.2,254.1 167.4,258.1 167.6,257.1 167.8,258.0 168.0,260.9 168.2,255.9 168.4,254.4 168.6,254.3 168.8,255.6 169.0,258.9 169.2,253.7 169.4,260.0 169.6,257.1 169.8,255.4 170.0,251.7 170.2,256.7 170.4,258.0 170.6,249.9 170.8,259.5 171.0,260.8 171.2,256.4 171.4,256.8 171.6,262.2 171.8,258.9 172.0,251.7 172.2,254.5 172.4,253.9 172.6,253.7 172.8,246.8 173.0,256.4 173.2,251.6 173.4,254.1 173.6,252.9 173.8,256.2 174.0,252.1 174.2,250.2 174.4,254.5 174.6,257.3 174.8,251.3 175.0,256.9 175.2,253.0 175.4,250.2 175.6,257.0 175.8,248.9 176.0,255.0 176.2,249.7 176.4,252.9 176.6,247.0 176.8,248.2 177.0,254.7 177.2,251.6 177.4,251.0 177.6,249.2 177.8,252.2 178.0,245.8 178.2,246.6 178.4,249.9 178.6,247.5 178.8,247.8 179.0,250.0 179.2,249.7 179.4,249.3 179.6,255.8 179.8,253.4 180.0,254.1 180.2,249.7 180.4,248.0 180.6,244.6 180.8,248.4 181.0,242.3 181.2,247.5 181.4,252.1 181.6,255.1 181.8,252.7 182.0,246.3 182.2,251.0 182.4,246.4 182.6,252.0 182.8,248.7 183.0,252.0 183.2,256.7 183.4,252.1 183.6,256.6 183.8,249.4 184.0,247.6 184.2,253.4 184.4,254.7 184.6,246.6 184.8,248.8 185.0,243.4 185.2,247.7 185.4,251.5 185.6,248.0 185.8,246.2 186.0,243.2 186.2,249.4 186.4,250.8 186.6,250.0 186.8,248.8 187.0,243.3 187.2,254.0 187.4,247.4 187.6,247.0 187.8,250.1 188.0,239.7 188.2,247.1 188.4,246.7 188.6,248.4 188.8,251.8 189.0,248.6 189.2,240.2 189.4,245.5 189.6,247.3 189.8,247.0 190.0,241.8 190.2,240.3 190.4,248.1 190.6,247.3 190.8,245.8 191.0,239.6 191.2,252.1 191.4,237.6 191.6,244.1 191.8,252.9 192.0,244.6 192.2,245.9 192.4,240.6 192.6,249.8 192.8,240.0 193.0,245.5 193.2,244.9 193.4,240.5 193.6,247.4 193.8,238.8 194.0,241.4 194.2,243.7 194.4,242.1 194.6,245.2 194.8,246.8 195.0,242.2 195.2,241.1 195.4,241.1 195.6,241.5 195.8,245.7 196.0,241.8 196.2,244.0 196.4,242.0 196.6,239.1 196.8,245.3 197.0,238.1 197.2,241.9 197.4,247.3 197.6,237.5 197.8,241.3 198.0,235.4 198.2,239.3 198.4,235.5 198.6,239.6 198.8,238.8 199.0,241.3 199.2,246.6 199.4,241.5 199.6,242.8 199.8,240.0 200.0,239.1 200.2,236.7 200.4,232.8 200.6,239.8 200.8,245.7 201.0,241.1 201.2,237.1 201.4,245.4 201.6,237.3 201.8,236.4 202.0,234.0 202.2,234.9 202.4,237.6 202.6,246.3 202.8,237.7 203.0,234.5 203.2,236.2 203.4,237.7 203.6,232.1 203.8,239.3 204.0,241.7 204.2,240.4 204.4,241.7 204.6,234.6 204.8,233.3 205.0,244.9 205.2,244.4 205.4,234.6 205.6,241.4 205.8,240.9 206.0,243.1 206.2,241.9 206.4,239.4 206.6,242.2 206.8,242.3 207.0,241.7 207.2,235.1 207.4,234.0 207.6,239.5 207.8,236.5 208.0,243.7 208.2,245.6 208.4,244.1 208.6,241.9 208.8,243.6 209.0,247.7 209.2,240.8 209.4,246.9 209.6,246.1 209.8,244.5 210.0,248.8 210.2,240.8 210.4,246.9 210.6,240.0 210.8,240.5 211.0,239.4 211.2,244.9 211.4,239.8 211.6,243.4 211.8,238.9 212.0,247.0 212.2,249.8 212.4,243.8 212.6,249.0 212.8,244.9 213.0,250.8 213.2,243.0 213.4,236.7 213.6,248.1 213.8,242.0 214.0,238.5 214.2,239.8 214.4,236.1 214.6,241.5 214.8,238.1 215.0,247.6 215.2,244.4 215.4,235.6 215.6,236.1 215.8,239.6 216.0,234.4 216.2,241.2 216.4,241.3 216.6,238.5 216.8,239.3 217.0,243.1 217.2,246.5 217.4,246.7 217.6,241.1 217.8,244.2 218.0,238.0 218.2,242.3 218.4,237.0 218.6,243.3 218.8,235.8 219.0,236.7 219.2,240.2 219.4,242.3 219.6,234.6 219.8,237.9 220.0,240.3 220.2,240.6 220.4,236.3 220.6,239.8 220.8,238.3 221.0,244.5 221.2,241.1 221.4,233.7 221.6,230.2 221.8,238.9 222.0,242.9 222.2,238.8 222.4,241.3 222.6,235.8 222.8,232.1 223.0,240.2 223.2,237.4 223.4,239.5 223.6,231.2 223.8,237.1 224.0,233.7 224.2,239.1 224.4,233.4 224.6,233.0 224.8,232.9 225.0,240.0 225.2,234.9 225.4,231.5 225.6,230.2 225.8,229.9 226.0,239.7 226.2,226.2 226.4,229.9 226.6,235.6 226.8,237.6 227.0,231.9 227.2,235.5 227.4,235.1 227.6,235.8 227.8,231.6 228.0,238.0 228.2,231.8 228.4,237.1 228.6,225.9 228.8,234.2 229.0,224.8 229.2,223.5 229.4,231.7 229.6,225.9 229.8,231.0 230.0,224.3 230.2,235.4 230.4,228.4 230.6,223.3 230.8,228.6 231.0,231.4 231.2,224.1 231.4,229.4 231.6,235.7 231.8,230.5 232.0,226.5 232.2,223.9 232.4,228.7 232.6,219.5 232.8,216.1 233.0,222.8 233.2,220.9 233.4,233.1 233.6,226.0 233.8,221.0 234.0,220.1 234.2,227.2 234.4,221.3 234.6,222.3 234.8,224.3 235.0,225.0 235.2,224.9 235.4,224.9 235.6,230.0 235.8,231.7 236.0,217.0 236.2,233.5 236.4,224.6 236.6,229.5 236.8,220.7 237.0,225.3 237.2,224.8 237.4,224.3 237.6,227.6 237.8,226.6 238.0,219.4 238.2,223.3 238.4,227.1 238.6,226.9 238.8,222.5 239.0,222.7 239.2,223.4 239.4,219.3 239.6,218.5 239.8,231.1 240.0,222.6 240.2,224.9 240.4,221.4 240.6,230.7 240.8,233.0 241.0,224.9 241.2,228.6 241.4,223.6 241.6,235.0 241.8,231.9 242.0,225.0 242.2,234.3 242.4,231.1 242.6,231.8 242.8,232.1 243.0,228.5 243.2,229.6 243.4,235.0 243.6,232.8 243.8,229.8 244.0,242.4 244.2,234.0 244.4,233.3 244.6,233.3 244.8,239.4 245.0,241.2 245.2,239.0 245.4,242.0 245.6,233.6 245.8,238.5 246.0,238.8 246.2,241.1 246.4,243.5 246.6,234.4 246.8,250.4 247.0,239.6 247.2,244.4 247.4,246.6 247.6,246.9 247.8,245.0 248.0,236.1 248.2,240.7 248.4,247.7 248.6,241.8 248.8,241.6 249.0,237.5 249.2,250.3 249.4,248.0 249.6,243.2 249.8,246.2 250.0,246.6 250.2,243.2 250.4,246.5 250.6,248.6 250.8,249.9 251.0,252.7 251.2,248.6 251.4,247.1 251.6,250.3 251.8,247.0 252.0,245.0 252.2,253.6 252.4,248.5 252.6,250.5 252.8,252.6 253.0,246.7 253.2,253.0 253.4,252.5 253.6,250.9 253.8,252.8 254.0,249.0 254.2,244.3 254.4,251.0 254.6,249.1 254.8,255.3 255.0,253.5 255.2,251.0 255.4,253.1 255.6,257.7 255.8,257.2 256.0,254.8 256.2,255.2 256.4,253.0 256.6,253.7 256.8,256.3 257.0,254.2 257.2,255.8 257.4,251.4 257.6,249.9 257.8,250.1 258.0,254.4 258.2,260.4 258.4,260.2 258.6,253.3 258.8,251.7 259.0,259.5 259.2,258.5 259.4,252.8 259.6,260.6 259.8,257.8 260.0,261.5 260.2,258.4 260.4,260.2 260.6,258.4 260.8,254.4 261.0,256.7 261.2,255.3 261.4,260.1 261.6,254.3 261.8,252.6 262.0,259.7 262.2,261.2 262.4,262.2 262.6,261.0 262.8,252.7 263.0,255.3 263.2,255.8 263.4,257.5 263.6,250.6 263.8,257.4 264.0,258.3 264.2,254.4 264.4,257.7 264.6,261.1 264.8,257.4 265.0,260.6 265.2,260.4 265.4,258.4 265.6,258.2 265.8,255.7 266.0,260.9 266.2,255.3 266.4,254.4 266.6,258.9 266.8,254.1 267.0,257.7 267.2,259.6 267.4,256.2 267.6,256.1 267.8,258.5 268.0,257.8 268.2,250.1 268.4,250.7 268.6,259.2 268.8,256.0 269.0,247.7 269.2,250.0 269.4,254.4 269.6,251.0 269.8,255.8 270.0,254.4 270.2,255.7 270.4,250.1 270.6,256.0 270.8,260.4 271.0,251.1 271.2,258.1 271.4,256.9 271.6,255.7 271.8,253.2 272.0,249.3 272.2,250.1 272.4,255.5 272.6,256.0 272.8,256.7 273.0,255.6 273.2,255.2 273.4,250.5 273.6,247.6 273.8,252.3 274.0,253.1 274.2,251.5 274.4,245.8 274.6,249.1 274.8,245.6 275.0,251.1 275.2,246.8 275.4,249.8 275.6,251.3 275.8,250.6 276.0,254.7 276.2,246.0 276.4,242.1 276.6,252.9 276.8,254.4 277.0,254.4 277.2,250.4 277.4,251.2 277.6,249.7 277.8,244.7 278.0,247.2 278.2,250.9 278.4,247.2 278.6,255.9 278.8,243.9 279.0,247.7 279.2,253.2 279.4,247.2 279.6,245.4 279.8,244.6 280.0,246.9 280.2,254.7 280.4,250.9 280.6,251.3 280.8,247.8 281.0,252.6 281.2,250.0 281.4,246.5 281.6,248.2 281.8,250.5 282.0,253.9 282.2,249.7 282.4,251.7 282.6,257.0 282.8,247.3 283.0,245.8 283.2,253.5 283.4,251.7 283.6,249.9 283.8,251.2 284.0,249.1 284.2,252.1 284.4,249.2 284.6,253.1 284.8,246.3 285.0,247.4 285.2,250.6 285.4,248.4 285.6,252.3 285.8,249.6 286.0,247.7 286.2,250.2 286.4,247.4 286.6,243.6 286.8,244.8 287.0,245.8 287.2,246.7 287.4,248.5 287.6,251.2 287.8,249.8 288.0,254.0 288.2,252.0 288.4,246.7 288.6,253.1 288.8,251.2 289.0,245.2 289.2,247.8 289.4,250.5 289.6,247.3 289.8,249.9 290.0,247.5 290.2,248.4 290.4,244.5 290.6,246.9 290.8,244.0 291.0,247.6 291.2,238.7 291.4,245.8 291.6,248.9 291.8,246.2 292.0,243.6 292.2,245.4 292.4,239.9 292.6,239.6 292.8,241.0 293.0,241.4 293.2,245.2 293.4,237.8 293.6,244.6 293.8,234.5 294.0,237.2 294.2,239.7 294.4,243.9 294.6,236.7 294.8,230.4 295.0,239.9 295.2,237.7 295.4,233.2 295.6,233.0 295.8,234.1 296.0,236.9 296.2,239.0 296.4,230.4 296.6,244.7 296.8,236.0 297.0,234.8 297.2,239.0 297.4,236.8 297.6,245.0 297.8,241.0 298.0,235.4 298.2,235.4 298.4,235.2 298.6,236.0 298.8,240.1 299.0,235.2 299.2,244.2 299.4,237.8 299.6,237.8 299.8,242.3 300.0,231.3 300.2,235.6 300.4,241.9 300.6,240.0 300.8,240.2 301.0,242.2 301.2,238.7 301.4,240.7 301.6,236.6 301.8,235.1 302.0,247.2 302.2,239.4 302.4,240.5 302.6,248.7 302.8,247.8 303.0,242.4 303.2,242.7 303.4,244.8 303.6,242.0 303.8,247.8 304.0,246.8 304.2,247.1 304.4,249.7 304.6,249.9 304.8,254.3 305.0,253.5 305.2,242.5 305.4,252.0 305.6,245.3 305.8,244.6 306.0,252.4 306.2,247.9 306.4,249.5 306.6,254.7 306.8,249.1 307.0,248.6 307.2,253.1 307.4,256.5 307.6,254.5 307.8,247.9 308.0,251.3 308.2,253.4 308.4,260.7 308.6,257.6 308.8,257.8 309.0,259.4 309.2,254.9 309.4,257.9 309.6,258.4 309.8,254.2 310.0,257.7 310.2,260.1 310.4,255.3 310.6,261.8 310.8,262.1 311.0,263.4 311.2,258.3 311.4,261.5 311.6,266.0 311.8,264.4 312.0,260.0 312.2,263.5 312.4,267.5 312.6,263.3 312.8,265.0 313.0,270.5 313.2,264.3 313.4,264.3 313.6,261.9 313.8,263.2 314.0,269.7 314.2,265.1 314.4,262.3 314.6,263.3 314.8,266.2 315.0,268.6 315.2,264.4 315.4,268.8 315.6,265.5 315.8,268.2 316.0,268.8 316.2,269.2 316.4,266.4 316.6,267.3 316.8,269.4 317.0,264.5 317.2,268.8 317.4,269.9 317.6,271.5 317.8,268.6 318.0,268.3 318.2,269.4 318.4,267.1 318.6,268.7 318.8,270.5 319.0,270.3 319.2,266.7 319.4,268.8 319.6,264.0 319.8,272.2 320.0,268.6 320.2,270.9 320.4,267.3 320.6,270.2 320.8,271.8 321.0,273.3 321.2,267.0 321.4,273.2 321.6,270.5 321.8,269.0 322.0,272.5 322.2,270.5 322.4,270.5 322.6,269.5 322.8,272.1 323.0,271.7 323.2,271.2 323.4,269.2 323.6,270.5 323.8,273.1 324.0,275.5 324.2,272.1 324.4,276.0 324.6,272.3 324.8,269.4 325.0,274.1 325.2,269.9 325.4,273.7 325.6,275.5 325.8,271.9 326.0,272.6 326.2,278.8 326.4,273.6 326.6,273.7 326.8,275.2 327.0,272.9 327.2,273.0 327.4,274.3 327.6,267.6 327.8,277.2 328.0,270.7 328.2,270.7 328.4,275.0 328.6,273.8 328.8,270.5 329.0,274.4 329.2,270.9 329.4,272.1 329.6,270.0 329.8,271.8 330.0,275.1 330.2,274.4 330.4,274.9 330.6,276.6 330.8,274.1 331.0,272.5 331.2,273.6 331.4,278.6 331.6,274.4 331.8,275.2 332.0,274.2 332.2,275.1 332.4,275.6 332.6,274.5 332.8,274.2 333.0,272.6 333.2,272.4 333.4,275.7 333.6,276.6 333.8,277.1 334.0,274.9 334.2,272.6 334.4,276.4 334.6,276.4 334.8,270.9 335.0,276.9 335.2,276.4 335.4,279.2 335.6,272.0 335.8,271.6 336.0,277.0 336.2,270.3 336.4,273.1 336.6,272.2 336.8,272.4 337.0,270.1 337.2,274.4 337.4,277.6 337.6,276.2 337.8,276.3 338.0,274.2 338.2,278.9 338.4,276.5 338.6,277.9 338.8,271.2 339.0,276.1 339.2,272.3 339.4,276.1 339.6,275.7 339.8,272.3 340.0,275.7 340.2,278.2 340.4,276.6 340.6,276.8 340.8,273.1 341.0,273.5 341.2,272.4 341.4,275.6 341.6,278.4 341.8,276.4 342.0,275.3 342.2,272.4 342.4,276.4 342.6,274.7 342.8,270.4 343.0,270.8 343.2,274.4 343.4,272.9 343.6,279.5 343.8,275.3 344.0,272.6 344.2,274.0 344.4,279.3 344.6,272.7 344.8,277.2 345.0,276.3 345.2,278.9 345.4,276.5 345.6,274.1 345.8,276.5 346.0,275.3 346.2,277.6 346.4,274.9 346.6,280.1 346.8,274.8 347.0,276.2 347.2,273.3 347.4,275.3 347.6,275.0 347.8,275.4 348.0,277.3 348.2,273.5 348.4,272.7 348.6,277.7 348.8,274.1 349.0,273.1 349.2,277.8 349.4,276.8 349.6,268.9 349.8,273.7 350.0,276.7 350.2,276.8 350.4,273.2 350.6,278.6 350.8,272.5 351.0,273.9 351.2,274.8 351.4,274.4 351.6,276.5 351.8,277.0 352.0,274.2 352.2,277.9 352.4,272.5 352.6,273.6 352.8,278.7 353.0,274.4 353.2,276.9 353.4,272.9 353.6,273.3 353.8,273.7 354.0,274.4 354.2,273.0 354.4,273.9 354.6,275.6 354.8,276.9 355.0,274.0 355.2,275.4 355.4,276.0 355.6,270.8 355.8,269.4 356.0,277.8 356.2,276.9 356.4,273.6 356.6,274.3 356.8,270.9 357.0,269.6 357.2,274.1 357.4,269.3 357.6,275.6 357.8,271.3 358.0,273.9 358.2,278.2 358.4,278.0 358.6,272.2 358.8,275.8 359.0,270.2 359.2,271.3 359.4,273.8 359.6,276.5 359.8,271.2 360.0,274.1 360.2,272.9 360.4,269.3 360.6,272.2 360.8,276.5 361.0,272.3 361.2,273.8 361.4,274.6 361.6,270.4 361.8,275.6 362.0,276.3 362.2,276.5 362.4,275.7 362.6,270.9 362.8,270.6 363.0,270.0 363.2,269.6 363.4,269.9 363.6,274.6 363.8,275.9 364.0,270.2 364.2,274.0 364.4,268.4 364.6,270.9 364.8,269.0 365.0,267.2 365.2,271.7 365.4,271.7 365.6,270.4 365.8,270.0 366.0,268.7 366.2,270.9 366.4,269.6 366.6,271.8 366.8,267.8 367.0,271.7 367.2,272.4 367.4,274.4 367.6,273.8 367.8,271.4 368.0,269.0 368.2,265.8 368.4,270.7 368.6,274.6 368.8,275.2 369.0,264.6 369.2,268.5 369.4,269.6 369.6,267.7 369.8,271.1 370.0,270.6 370.2,269.1 370.4,270.4 370.6,266.1 370.8,267.8 371.0,268.0 371.2,272.9 371.4,266.0 371.6,269.8 371.8,272.5 372.0,270.2 372.2,272.6 372.4,268.6 372.6,271.6 372.8,272.8 373.0,276.4 373.2,272.3 373.4,274.3 373.6,270.4 373.8,270.6 374.0,274.6 374.2,271.9 374.4,274.2 374.6,272.3 374.8,276.1 375.0,276.3 375.2,268.0 375.4,275.4 375.6,271.5 375.8,271.6 376.0,270.0 376.2,272.3 376.4,267.2 376.6,268.3 376.8,268.2 377.0,271.1 377.2,272.8 377.4,272.3 377.6,271.3 377.8,268.6 378.0,265.4 378.2,271.3 378.4,270.6 378.6,271.2 378.8,274.1 379.0,269.7 379.2,269.6 379.4,264.0 379.6,271.7 379.8,270.0 380.0,268.1 380.2,271.2 380.4,267.2 380.6,268.6 380.8,275.5 381.0,272.2 381.2,272.6 381.4,272.1 381.6,271.8 381.8,270.5 382.0,276.0 382.2,269.7 382.4,271.9 382.6,269.2 382.8,268.8 383.0,263.6 383.2,264.4 383.4,274.0 383.6,273.7 383.8,268.3 384.0,269.4 384.2,271.2 384.4,266.6 384.6,274.3 384.8,266.4 385.0,267.2 385.2,262.9 385.4,273.3 385.6,269.2 385.8,273.5 386.0,266.1 386.2,269.8 386.4,269.0 386.6,269.3 386.8,274.5 387.0,274.7 387.2,272.4 387.4,267.3 387.6,270.9 387.8,272.1 388.0,269.8 388.2,269.8 388.4,269.4 388.6,265.5 388.8,268.6 389.0,272.4 389.2,265.0 389.4,268.0 389.6,270.0 389.8,263.7 390.0,267.1 390.2,262.6 390.4,265.7 390.6,263.3 390.8,264.7 391.0,265.8 391.2,266.4 391.4,266.5 391.6,260.7 391.8,271.6 392.0,266.2 392.2,263.8 392.4,265.0 392.6,267.7 392.8,263.9 393.0,265.5 393.2,265.3 393.4,268.1 393.6,264.4 393.8,267.8 394.0,267.4 394.2,265.9 394.4,269.9 394.6,266.3 394.8,262.8 395.0,267.0 395.2,266.5 395.4,265.9 395.6,266.7 395.8,272.4 396.0,266.6 396.2,267.2 396.4,265.1 396.6,269.6 396.8,265.5 397.0,263.3 397.2,262.0 397.4,267.1 397.6,267.7 397.8,260.8 398.0,263.3 398.2,267.2 398.4,268.3 398.6,261.4 398.8,264.0 399.0,267.6 399.2,263.6 399.4,263.8 399.6,263.4 399.8,261.2 400.0,265.1 400.2,265.8 400.4,260.7 400.6,265.1 400.8,268.1 401.0,265.4 401.2,267.5 401.4,263.1 401.6,268.7 401.8,262.3 402.0,270.2 402.2,263.2 402.4,262.4 402.6,261.9 402.8,263.3 403.0,263.0 403.2,262.4 403.4,263.4 403.6,266.4 403.8,267.0 404.0,263.3 404.2,268.0 404.4,261.3 404.6,261.2 404.8,260.9 405.0,266.0 405.2,259.6 405.4,260.1 405.6,268.0 405.8,269.3 406.0,268.2 406.2,259.7 406.4,264.2 406.6,266.6 406.8,264.4 407.0,259.3 407.2,263.1 407.4,259.0 407.6,260.4 407.8,270.4 408.0,266.1 408.2,259.7 408.4,259.5 408.6,265.4 408.8,262.2 409.0,265.7 409.2,262.0 409.4,263.3 409.6,264.6 409.8,260.8 410.0,258.2 410.2,260.3 410.4,261.8 410.6,263.2 410.8,263.6 411.0,263.6 411.2,265.3 411.4,261.1 411.6,267.9 411.8,269.7 412.0,264.8 412.2,264.2 412.4,267.4 412.6,265.5 412.8,264.1 413.0,263.0 413.2,261.3 413.4,260.0 413.6,265.4 413.8,267.0 414.0,260.2 414.2,263.1 414.4,263.9 414.6,261.9 414.8,260.8 415.0,261.8 415.2,257.0 415.4,262.6 415.6,261.8 415.8,269.0 416.0,265.3 416.2,261.3 416.4,262.2 416.6,267.3 416.8,266.9 417.0,262.4 417.2,261.3 417.4,257.2 417.6,260.5 417.8,260.8 418.0,258.9 418.2,266.4 418.4,255.2 418.6,260.4 418.8,261.9 419.0,261.9 419.2,265.6 419.4,255.9 419.6,257.8 419.8,260.4 420.0,260.4 420.2,258.6 420.4,257.3 420.6,263.0 420.8,256.2 421.0,257.6 421.2,263.8 421.4,264.7 421.6,261.9 421.8,256.3 422.0,256.2 422.2,256.0 422.4,255.1 422.6,257.3 422.8,262.5 423.0,259.1 423.2,255.9 423.4,255.7 423.6,254.3 423.8,261.8 424.0,251.4 424.2,258.6 424.4,253.0 424.6,254.1 424.8,252.6 425.0,260.3 425.2,256.8 425.4,264.1 425.6,253.4 425.8,253.1 426.0,258.4 426.2,258.1 426.4,255.3 426.6,249.4 426.8,260.6 427.0,257.5 427.2,256.8 427.4,253.4 427.6,257.3 427.8,253.2 428.0,255.0 428.2,254.1 428.4,258.7 428.6,252.8 428.8,253.1 429.0,257.7 429.2,254.6 429.4,253.7 429.6,252.7 429.8,256.5 430.0,251.0 430.2,254.6 430.4,259.6 430.6,253.9 430.8,249.7 431.0,248.1 431.2,252.4 431.4,247.4 431.6,245.9 431.8,248.4 432.0,246.9 432.2,253.3 432.4,244.8 432.6,255.0 432.8,246.5 433.0,249.1 433.2,250.7 433.4,248.7 433.6,250.1 433.8,243.7 434.0,239.3 434.2,245.8 434.4,240.2 434.6,243.8 434.8,249.0 435.0,244.5 435.2,242.7 435.4,240.3 435.6,243.0 435.8,243.0 436.0,237.4 436.2,243.8 436.4,238.2 436.6,242.5 436.8,239.4 437.0,244.2 437.2,243.1 437.4,239.3 437.6,238.2 437.8,239.7 438.0,242.7 438.2,240.9 438.4,236.7 438.6,236.7 438.8,241.1 439.0,227.6 439.2,235.7 439.4,229.2 439.6,237.7 439.8,229.4 440.0,230.3 440.2,225.6 440.4,229.5 440.6,232.1 440.8,235.2 441.0,222.1 441.2,224.9 441.4,235.7 441.6,229.6 441.8,224.8 442.0,226.5 442.2,214.0 442.4,230.0 442.6,223.0 442.8,215.2 443.0,226.2 443.2,217.5 443.4,215.1 443.6,221.4 443.8,220.3 444.0,215.8 444.2,217.0 444.4,210.7 444.6,209.6 444.8,219.6 445.0,221.0 445.2,216.5 445.4,215.8 445.6,212.1 445.8,213.0 446.0,209.0 446.2,221.0 446.4,210.4 446.6,214.9 446.8,213.2 447.0,207.2 447.2,222.5 447.4,212.5 447.6,211.1 447.8,215.5 448.0,211.5 448.2,216.3 448.4,212.5 448.6,220.3 448.8,218.9 449.0,213.5 449.2,225.3 449.4,222.5 449.6,217.8 449.8,225.4 450.0,226.9 450.2,234.3 450.4,223.9 450.6,232.5 450.8,229.9 451.0,234.2 451.2,232.0 451.4,234.1 451.6,237.7 451.8,232.5 452.0,230.4 452.2,239.9 452.4,239.6 452.6,243.0 452.8,246.3 453.0,244.4 453.2,250.6 453.4,247.3 453.6,249.0 453.8,252.5 454.0,252.7 454.2,251.5 454.4,253.2 454.6,251.4 454.8,252.9 455.0,256.4 455.2,259.9 455.4,257.2 455.6,262.6 455.8,267.3 456.0,269.0 456.2,263.7 456.4,267.6 456.6,266.9 456.8,268.0 457.0,268.6 457.2,268.1 457.4,269.4 457.6,268.0 457.8,267.0 458.0,268.8 458.2,269.8 458.4,272.2 458.6,270.1 458.8,271.4 459.0,273.6 459.2,267.4 459.4,269.5 459.6,272.1 459.8,270.9 460.0,268.4 460.2,274.1 460.4,271.5 460.6,269.2 460.8,277.3 461.0,269.0 461.2,272.6 461.4,271.1 461.6,273.4 461.8,274.9 462.0,271.4 462.2,273.5 462.4,273.7 462.6,271.6 462.8,277.5 463.0,275.1 463.2,274.1 463.4,273.3 463.6,274.4 463.8,275.8 464.0,274.4 464.2,279.0 464.4,270.3 464.6,270.8 464.8,275.8 465.0,272.0 465.2,276.7 465.4,275.4 465.6,278.8 465.8,278.5 466.0,280.9 466.2,280.1 466.4,281.0 466.6,279.3 466.8,280.8 467.0,279.5 467.2,276.9 467.4,275.3 467.6,275.5 467.8,279.8 468.0,273.1 468.2,279.2 468.4,276.9 468.6,280.7 468.8,279.4 469.0,277.2 469.2,279.1 469.4,273.6 469.6,279.9 469.8,280.4 470.0,274.8 470.2,281.5 470.4,279.1 470.6,279.9 470.8,276.1 471.0,281.1 471.2,281.1 471.4,279.7 471.6,277.4 471.8,281.7 472.0,282.9 472.2,280.9 472.4,282.5 472.6,278.7 472.8,280.5 473.0,281.1 473.2,280.6 473.4,285.4 473.6,281.3 473.8,279.0 474.0,282.4 474.2,277.8 474.4,281.4 474.6,282.3 474.8,279.3 475.0,279.8 475.2,278.3 475.4,280.9 475.6,279.0 475.8,284.8 476.0,282.2 476.2,280.1 476.4,277.3 476.6,285.6 476.8,283.9 477.0,281.9 477.2,281.2 477.4,281.2 477.6,279.7 477.8,285.3 478.0,281.3 478.2,277.4 478.4,279.3 478.6,275.3 478.8,282.4 479.0,282.7 479.2,285.1 479.4,285.9 479.6,279.0 479.8,282.0 480.0,283.3 480.2,282.8 480.4,279.7 480.6,282.9 480.8,282.1 481.0,284.2 481.2,280.9 481.4,280.4 481.6,279.8 481.8,280.1 482.0,279.2 482.2,280.2 482.4,282.2 482.6,282.1 482.8,284.2 483.0,283.6 483.2,282.5 483.4,278.3 483.6,282.4 483.8,283.8 484.0,277.9 484.2,278.4 484.4,278.8 484.6,278.6 484.8,280.3 485.0,278.8 485.2,282.0 485.4,278.1 485.6,280.7 485.8,279.9 486.0,278.7 486.2,283.5 486.4,281.1 486.6,282.4 486.8,280.3 487.0,282.8 487.2,282.5 487.4,280.7 487.6,276.9 487.8,283.1 488.0,282.8 488.2,281.6 488.4,281.7 488.6,281.4 488.8,281.6 489.0,278.8 489.2,281.0 489.4,281.9 489.6,279.7 489.8,278.9 490.0,285.6 490.2,282.6 490.4,280.5 490.6,280.1 490.8,275.9 491.0,277.9 491.2,280.7 491.4,284.3 491.6,276.4 491.8,279.6 492.0,285.8 492.2,282.9 492.4,282.3 492.6,284.2 492.8,281.0 493.0,280.9 493.2,283.0 493.4,283.4 493.6,278.8 493.8,285.0 494.0,277.3 494.2,279.8 494.4,286.5 494.6,280.2 494.8,283.0 495.0,279.1 495.2,280.7 495.4,279.8 495.6,280.5 495.8,283.0 496.0,285.6 496.2,283.6 496.4,285.2 496.6,280.3 496.8,285.0 497.0,282.9 497.2,284.8 497.4,280.6 497.6,281.0 497.8,284.8 498.0,283.0 498.2,281.8 498.4,280.0 498.6,281.4 498.8,282.8 499.0,283.3 499.2,280.3 499.4,280.8 499.6,282.6 499.8,279.0 500.0,283.8 500.2,281.6 500.4,281.3 500.6,276.4 500.8,277.9 501.0,279.2 501.2,280.2 501.4,279.0 501.6,282.5 501.8,281.9 502.0,281.0 502.2,276.8 502.4,284.9 502.6,281.0 502.8,283.1 503.0,280.1 503.2,281.7 503.4,283.3 503.6,282.3 503.8,284.0 504.0,281.3 504.2,286.4 504.4,277.3 504.6,280.4 504.8,284.1 505.0,281.2 505.2,280.7 505.4,277.6 505.6,284.6 505.8,277.3 506.0,283.0 506.2,282.3 506.4,283.9 506.6,285.3 506.8,280.2 507.0,279.9 507.2,281.1 507.4,277.8 507.6,283.8 507.8,280.9 508.0,282.3 508.2,279.2 508.4,281.9 508.6,280.5 508.8,281.7 509.0,279.4 509.2,284.3 509.4,280.4 509.6,276.9 509.8,283.5 510.0,281.3 510.2,279.9 510.4,287.2 510.6,281.9 510.8,278.9 511.0,280.6 511.2,282.9 511.4,281.5 511.6,284.9 511.8,284.5 512.0,280.2 512.2,282.2 512.4,283.6 512.6,281.1 512.8,281.0 513.0,284.2 513.2,283.2 513.4,278.9 513.6,280.9 513.8,281.2 514.0,281.9 514.2,280.5 514.4,285.3 514.6,280.0 514.8,279.7 515.0,282.7 515.2,277.2 515.4,279.9 515.6,283.7 515.8,279.2 516.0,280.3 516.2,284.9 516.4,283.4 516.6,282.5 516.8,282.9 517.0,280.8 517.2,283.1 517.4,281.9 517.6,287.6 517.8,283.7 518.0,281.7 518.2,282.3 518.4,282.6 518.6,279.3 518.8,280.6 519.0,286.1 519.2,279.3 519.4,281.2 519.6,284.9 519.8,286.1 520.0,280.2 520.2,286.0 520.4,281.8 520.6,286.5 520.8,283.8 521.0,282.0 521.2,284.4 521.4,284.0 521.6,280.9 521.8,287.7 522.0,281.9 522.2,285.4 522.4,281.6 522.6,278.6 522.8,280.2 523.0,282.6 523.2,284.4 523.4,286.9 523.6,283.0 523.8,282.2 524.0,280.0 524.2,282.8 524.4,283.6 524.6,277.9 524.8,285.9 525.0,285.6 525.2,288.1 525.4,280.9 525.6,283.1 525.8,283.0 526.0,279.9 526.2,281.0 526.4,280.7 526.6,284.2 526.8,284.0 527.0,286.2 527.2,282.1 527.4,279.9 527.6,284.1 527.8,284.0 528.0,284.7 528.2,286.0 528.4,281.8 528.6,285.0 528.8,280.8 529.0,283.5 529.2,284.8 529.4,282.9 529.6,283.7 529.8,280.0 530.0,281.7 530.2,283.6 530.4,280.5 530.6,281.3 530.8,288.4 531.0,283.9 531.2,281.4 531.4,280.9 531.6,286.5 531.8,278.3 532.0,282.5 532.2,284.7 532.4,281.9 532.6,284.4 532.8,280.8 533.0,283.2 533.2,283.3 533.4,283.3 533.6,283.6 533.8,283.3 534.0,285.8 534.2,282.7 534.4,281.9 534.6,282.6 534.8,282.6 535.0,279.8"/>
<polyline class="c" stroke="#6e6e6e" points="48.2,274.0 48.4,276.2 48.6,283.7 48.8,279.9 49.0,271.0 49.2,277.7 49.4,275.5 49.6,278.8 49.8,272.0 50.0,279.6 50.2,279.8 50.4,285.4 50.6,280.6 50.8,281.6 51.0,273.8 51.2,288.0 51.4,272.5 51.6,290.5 51.8,279.3 52.0,277.3 52.2,278.4 52.4,278.6 52.6,283.0 52.8,281.3 53.0,287.9 53.2,274.8 53.4,282.3 53.6,279.0 53.8,285.9 54.0,275.0 54.2,281.8 54.4,284.3 54.6,277.7 54.8,287.8 55.0,284.8 55.2,288.3 55.4,288.3 55.6,275.7 55.8,281.7 56.0,283.2 56.2,288.3 56.4,288.9 56.6,282.9 56.8,283.5 57.0,283.0 57.2,284.0 57.4,285.6 57.6,286.2 57.8,294.8 58.0,285.2 58.2,286.2 58.4,289.4 58.6,284.0 58.8,286.5 59.0,288.3 59.2,291.4 59.4,283.4 59.6,294.1 59.8,287.6 60.0,289.8 60.2,292.6 60.4,292.1 60.6,299.2 60.8,290.6 61.0,290.0 61.2,291.5 61.4,286.7 61.6,295.4 61.8,287.9 62.0,286.2 62.2,299.0 62.4,291.0 62.6,287.2 62.8,299.0 63.0,290.8 63.2,296.3 63.4,289.3 63.6,291.7 63.8,286.4 64.0,285.8 64.2,289.5 64.4,293.1 64.6,296.7 64.8,301.4 65.0,290.1 65.2,298.1 65.4,292.1 65.6,294.0 65.8,289.2 66.0,289.4 66.2,292.3 66.4,290.9 66.6,295.6 66.8,293.2 67.0,300.7 67.2,296.8 67.4,297.8 67.6,300.9 67.8,298.7 68.0,296.9 68.2,296.9 68.4,297.0 68.6,301.7 68.8,300.8 69.0,299.4 69.2,301.3 69.4,293.9 69.6,300.6 69.8,293.7 70.0,304.1 70.2,299.7 70.4,300.3 70.6,302.0 70.8,300.0 71.0,299.3 71.2,304.8 71.4,301.7 71.6,297.6 71.8,302.7 72.0,287.0 72.2,307.6 72.4,301.1 72.6,302.2 72.8,309.5 73.0,309.7 73.2,303.0 73.4,305.1 73.6,307.0 73.8,309.3 74.0,303.0 74.2,304.8 74.4,308.3 74.6,305.0 74.8,306.9 75.0,306.6 75.2,300.5 75.4,301.7 75.6,297.8 75.8,304.2 76.0,310.1 76.2,301.5 76.4,310.1 76.6,309.4 76.8,305.8 77.0,306.1 77.2,306.6 77.4,303.4 77.6,305.6 77.8,306.6 78.0,311.9 78.2,309.8 78.4,304.5 78.6,310.2 78.8,304.7 79.0,307.0 79.2,309.0 79.4,307.7 79.6,307.6 79.8,309.1 80.0,306.4 80.2,306.2 80.4,307.9 80.6,312.1 80.8,308.5 81.0,315.7 81.2,309.9 81.4,302.3 81.6,305.9 81.8,315.4 82.0,309.7 82.2,308.3 82.4,306.9 82.6,314.7 82.8,313.7 83.0,312.7 83.2,312.0 83.4,315.6 83.6,313.6 83.8,306.6 84.0,313.6 84.2,312.4 84.4,310.8 84.6,313.9 84.8,311.6 85.0,295.9 85.2,316.9 85.4,319.9 85.6,311.3 85.8,308.9 86.0,312.7 86.2,307.5 86.4,313.1 86.6,311.3 86.8,310.9 87.0,309.0 87.2,309.9 87.4,316.1 87.6,316.9 87.8,314.1 88.0,312.2 88.2,309.4 88.4,314.9 88.6,317.9 88.8,306.9 89.0,316.4 89.2,305.5 89.4,311.2 89.6,313.7 89.8,307.7 90.0,307.2 90.2,313.0 90.4,315.4 90.6,310.8 90.8,317.0 91.0,309.7 91.2,318.4 91.4,312.8 91.6,314.3 91.8,314.5 92.0,313.5 92.2,318.7 92.4,319.3 92.6,314.3 92.8,311.8 93.0,308.4 93.2,309.8 93.4,312.4 93.6,312.1 93.8,312.3 94.0,312.4 94.2,314.1 94.4,307.8 94.6,308.9 94.8,316.3 95.0,315.3 95.2,310.6 95.4,316.8 95.6,310.1 95.8,310.4 96.0,306.1 96.2,315.3 96.4,312.4 96.6,316.1 96.8,314.8 97.0,312.7 97.2,313.0 97.4,316.5 97.6,311.9 97.8,311.9 98.0,312.7 98.2,315.2 98.4,315.6 98.6,319.0 98.8,312.2 99.0,316.8 99.2,310.3 99.4,314.6 99.6,312.9 99.8,318.5 100.0,314.6 100.2,309.2 100.4,314.5 100.6,313.8 100.8,311.5 101.0,311.6 101.2,309.4 101.4,319.3 101.6,313.1 101.8,316.0 102.0,308.7 102.2,308.9 102.4,312.2 102.6,312.2 102.8,315.5 103.0,309.3 103.2,317.2 103.4,318.0 103.6,309.7 103.8,315.9 104.0,309.5 104.2,314.0 104.4,316.0 104.6,318.9 104.8,310.6 105.0,313.5 105.2,316.5 105.4,309.0 105.6,313.2 105.8,306.4 106.0,310.7 106.2,315.4 106.4,315.5 106.6,319.8 106.8,317.9 107.0,317.6 107.2,312.7 107.4,312.2 107.6,313.7 107.8,306.3 108.0,319.0 108.2,311.1 108.4,309.7 108.6,311.8 108.8,316.4 109.0,317.7 109.2,312.2 109.4,315.0 109.6,313.3 109.8,310.1 110.0,314.1 110.2,313.7 110.4,308.3 110.6,322.4 110.8,308.3 111.0,315.6 111.2,310.1 111.4,310.9 111.6,311.3 111.8,316.2 112.0,309.5 112.2,313.2 112.4,319.1 112.6,311.5 112.8,313.8 113.0,316.2 113.2,312.0 113.4,315.6 113.6,311.8 113.8,316.4 114.0,314.3 114.2,311.0 114.4,319.0 114.6,313.5 114.8,313.3 115.0,311.1 115.2,312.7 115.4,314.0 115.6,315.8 115.8,318.2 116.0,310.0 116.2,311.8 116.4,318.6 116.6,315.2 116.8,316.0 117.0,320.1 117.2,315.9 117.4,316.3 117.6,314.7 117.8,320.8 118.0,318.4 118.2,312.5 118.4,319.3 118.6,311.1 118.8,318.7 119.0,317.4 119.2,314.6 119.4,313.8 119.6,309.1 119.8,321.2 120.0,314.9 120.2,314.3 120.4,321.0 120.6,310.3 120.8,313.5 121.0,313.2 121.2,311.0 121.4,322.3 121.6,315.0 121.8,314.5 122.0,322.7 122.2,309.1 122.4,315.7 122.6,315.9 122.8,312.7 123.0,317.5 123.2,309.3 123.4,316.1 123.6,319.1 123.8,309.5 124.0,311.3 124.2,315.6 124.4,316.1 124.6,310.8 124.8,318.6 125.0,317.0 125.2,311.7 125.4,316.0 125.6,312.1 125.8,301.8 126.0,310.2 126.2,319.9 126.4,314.8 126.6,323.1 126.8,311.7 127.0,315.5 127.2,317.8 127.4,316.3 127.6,318.5 127.8,317.4 128.0,314.9 128.2,310.9 128.4,313.9 128.6,322.9 128.8,319.8 129.0,321.9 129.2,315.5 129.4,316.9 129.6,314.7 129.8,319.0 130.0,317.9 130.2,319.3 130.4,330.8 130.6,311.0 130.8,320.5 131.0,306.9 131.2,321.8 131.4,316.8 131.6,318.0 131.8,318.8 132.0,323.8 132.2,318.4 132.4,316.9 132.6,314.7 132.8,319.6 133.0,315.9 133.2,317.1 133.4,318.8 133.6,321.1 133.8,316.7 134.0,321.3 134.2,325.0 134.4,314.3 134.6,323.8 134.8,326.4 135.0,317.5 135.2,321.6 135.4,315.1 135.6,320.8 135.8,318.7 136.0,320.9 136.2,317.0 136.4,317.3 136.6,318.6 136.8,317.9 137.0,318.2 137.2,319.7 137.4,316.8 137.6,320.0 137.8,322.1 138.0,314.5 138.2,321.3 138.4,318.3 138.6,317.1 138.8,310.1 139.0,318.1 139.2,318.5 139.4,322.9 139.6,317.0 139.8,324.5 140.0,318.5 140.2,323.5 140.4,328.7 140.6,317.4 140.8,324.9 141.0,328.4 141.2,320.1 141.4,325.5 141.6,321.3 141.8,322.1 142.0,321.2 142.2,320.3 142.4,324.3 142.6,324.8 142.8,322.0 143.0,333.1 143.2,325.6 143.4,324.4 143.6,319.8 143.8,328.3 144.0,326.4 144.2,315.7 144.4,318.5 144.6,320.6 144.8,325.1 145.0,326.1 145.2,321.2 145.4,322.9 145.6,327.2 145.8,317.9 146.0,324.0 146.2,321.1 146.4,322.6 146.6,321.9 146.8,318.2 147.0,318.8 147.2,322.1 147.4,322.4 147.6,321.1 147.8,325.4 148.0,320.7 148.2,317.9 148.4,320.7 148.6,321.3 148.8,321.4 149.0,325.6 149.2,323.4 149.4,325.2 149.6,323.7 149.8,321.1 150.0,329.4 150.2,320.8 150.4,322.4 150.6,318.3 150.8,321.9 151.0,320.5 151.2,322.7 151.4,327.4 151.6,327.9 151.8,324.7 152.0,321.3 152.2,324.1 152.4,322.1 152.6,319.3 152.8,321.1 153.0,320.5 153.2,319.3 153.4,325.7 153.6,319.4 153.8,319.5 154.0,323.4 154.2,318.8 154.4,317.3 154.6,314.7 154.8,322.6 155.0,322.2 155.2,323.2 155.4,319.4 155.6,317.9 155.8,323.8 156.0,316.1 156.2,320.1 156.4,310.8 156.6,319.4 156.8,320.2 157.0,324.6 157.2,314.0 157.4,325.0 157.6,317.6 157.8,321.5 158.0,323.1 158.2,317.9 158.4,320.1 158.6,322.0 158.8,319.9 159.0,317.9 159.2,320.8 159.4,320.6 159.6,315.2 159.8,324.6 160.0,320.8 160.2,313.4 160.4,317.3 160.6,325.6 160.8,332.1 161.0,320.8 161.2,314.4 161.4,319.1 161.6,323.3 161.8,321.1 162.0,318.7 162.2,317.3 162.4,322.5 162.6,319.0 162.8,320.7 163.0,321.3 163.2,325.0 163.4,320.2 163.6,321.7 163.8,313.6 164.0,323.2 164.2,322.4 164.4,319.4 164.6,312.6 164.8,317.5 165.0,320.0 165.2,325.7 165.4,321.1 165.6,321.7 165.8,325.5 166.0,323.4 166.2,315.2 166.4,316.0 166.6,314.8 166.8,317.7 167.0,317.4 167.2,319.3 167.4,310.6 167.6,318.4 167.8,315.2 168.0,324.4 168.2,315.9 168.4,324.1 168.6,322.8 168.8,313.2 169.0,320.3 169.2,318.9 169.4,311.6 169.6,318.6 169.8,316.1 170.0,317.5 170.2,313.3 170.4,315.8 170.6,317.2 170.8,315.1 171.0,313.5 171.2,314.9 171.4,312.0 171.6,318.0 171.8,308.2 172.0,320.1 172.2,315.1 172.4,316.3 172.6,317.5 172.8,310.2 173.0,321.0 173.2,310.4 173.4,315.6 173.6,315.0 173.8,318.3 174.0,313.6 174.2,308.7 174.4,314.5 174.6,306.4 174.8,312.5 175.0,311.5 175.2,318.4 175.4,312.0 175.6,311.3 175.8,310.1 176.0,309.7 176.2,310.7 176.4,314.6 176.6,308.0 176.8,311.7 177.0,307.4 177.2,311.8 177.4,312.9 177.6,308.1 177.8,310.3 178.0,312.6 178.2,314.9 178.4,319.7 178.6,311.3 178.8,308.7 179.0,306.5 179.2,314.8 179.4,316.9 179.6,313.3 179.8,317.4 180.0,308.4 180.2,310.6 180.4,317.4 180.6,308.4 180.8,314.0 181.0,313.2 181.2,312.4 181.4,317.9 181.6,304.9 181.8,310.4 182.0,304.9 182.2,308.2 182.4,310.0 182.6,310.4 182.8,311.1 183.0,312.8 183.2,309.4 183.4,304.9 183.6,312.2 183.8,313.2 184.0,307.7 184.2,309.0 184.4,317.8 184.6,315.2 184.8,315.4 185.0,313.9 185.2,312.1 185.4,309.8 185.6,313.5 185.8,310.8 186.0,310.0 186.2,311.4 186.4,311.2 186.6,314.5 186.8,308.1 187.0,318.3 187.2,307.9 187.4,309.9 187.6,314.6 187.8,308.4 188.0,309.6 188.2,311.3 188.4,304.3 188.6,309.4 188.8,307.7 189.0,310.2 189.2,312.8 189.4,313.2 189.6,316.2 189.8,315.9 190.0,314.4 190.2,310.6 190.4,314.4 190.6,302.7 190.8,309.8 191.0,315.6 191.2,313.3 191.4,305.6 191.6,308.3 191.8,313.5 192.0,312.4 192.2,314.0 192.4,303.9 192.6,305.6 192.8,309.1 193.0,306.5 193.2,309.8 193.4,309.8 193.6,310.9 193.8,309.2 194.0,311.6 194.2,312.2 194.4,310.0 194.6,305.0 194.8,313.8 195.0,310.0 195.2,310.6 195.4,309.6 195.6,296.0 195.8,310.9 196.0,303.5 196.2,304.4 196.4,313.1 196.6,307.4 196.8,309.4 197.0,311.5 197.2,314.0 197.4,301.7 197.6,305.4 197.8,313.5 198.0,305.5 198.2,300.6 198.4,308.2 198.6,308.4 198.8,310.3 199.0,308.2 199.2,305.6 199.4,307.8 199.6,306.8 199.8,304.9 200.0,307.4 200.2,307.6 200.4,302.5 200.6,309.7 200.8,308.8 201.0,308.4 201.2,298.2 201.4,305.7 201.6,304.7 201.8,301.4 202.0,307.0 202.2,299.3 202.4,309.1 202.6,306.0 202.8,302.7 203.0,309.7 203.2,306.2 203.4,305.8 203.6,300.0 203.8,306.7 204.0,310.0 204.2,309.0 204.4,300.5 204.6,310.4 204.8,311.3 205.0,308.8 205.2,304.5 205.4,300.7 205.6,303.0 205.8,304.4 206.0,307.7 206.2,311.4 206.4,304.4 206.6,301.4 206.8,305.9 207.0,302.7 207.2,312.3 207.4,303.3 207.6,309.5 207.8,310.9 208.0,304.6 208.2,311.8 208.4,307.0 208.6,305.7 208.8,305.3 209.0,309.1 209.2,312.7 209.4,302.3 209.6,311.3 209.8,307.8 210.0,306.7 210.2,309.1 210.4,309.5 210.6,309.4 210.8,312.5 211.0,306.6 211.2,316.7 211.4,313.0 211.6,307.8 211.8,303.1 212.0,309.8 212.2,308.4 212.4,312.5 212.6,312.4 212.8,316.6 213.0,309.4 213.2,312.6 213.4,308.3 213.6,306.7 213.8,315.2 214.0,308.5 214.2,309.3 214.4,308.5 214.6,310.8 214.8,314.4 215.0,309.2 215.2,300.3 215.4,310.8 215.6,306.6 215.8,308.3 216.0,310.3 216.2,310.3 216.4,302.5 216.6,323.2 216.8,312.2 217.0,316.2 217.2,316.3 217.4,306.0 217.6,307.2 217.8,310.1 218.0,312.5 218.2,307.3 218.4,307.9 218.6,312.8 218.8,305.8 219.0,309.6 219.2,312.7 219.4,307.8 219.6,311.5 219.8,308.2 220.0,302.9 220.2,306.5 220.4,307.7 220.6,307.1 220.8,308.3 221.0,309.4 221.2,308.9 221.4,308.3 221.6,306.0 221.8,306.5 222.0,305.7 222.2,304.7 222.4,311.4 222.6,290.6 222.8,306.8 223.0,299.8 223.2,299.9 223.4,307.9 223.6,303.7 223.8,309.4 224.0,300.6 224.2,300.6 224.4,301.1 224.6,303.1 224.8,301.6 225.0,301.0 225.2,302.4 225.4,310.2 225.6,301.9 225.8,301.1 226.0,299.4 226.2,297.4 226.4,294.2 226.6,295.1 226.8,298.7 227.0,282.2 227.2,300.0 227.4,295.5 227.6,293.2 227.8,290.4 228.0,298.3 228.2,296.8 228.4,296.1 228.6,309.0 228.8,302.9 229.0,289.5 229.2,297.5 229.4,291.1 229.6,288.6 229.8,291.7 230.0,301.9 230.2,292.3 230.4,288.6 230.6,298.6 230.8,295.1 231.0,292.7 231.2,299.9 231.4,294.7 231.6,290.0 231.8,288.5 232.0,291.0 232.2,294.1 232.4,296.2 232.6,295.8 232.8,293.0 233.0,288.0 233.2,296.1 233.4,292.9 233.6,288.3 233.8,287.8 234.0,293.4 234.2,293.9 234.4,295.7 234.6,281.7 234.8,299.9 235.0,285.5 235.2,292.4 235.4,297.7 235.6,296.6 235.8,288.9 236.0,294.9 236.2,303.4 236.4,299.0 236.6,288.8 236.8,299.0 237.0,286.3 237.2,292.7 237.4,288.4 237.6,288.4 237.8,291.2 238.0,294.3 238.2,287.5 238.4,293.2 238.6,297.4 238.8,292.6 239.0,294.4 239.2,293.9 239.4,289.4 239.6,288.6 239.8,292.4 240.0,294.1 240.2,300.1 240.4,298.6 240.6,290.7 240.8,291.0 241.0,288.9 241.2,285.7 241.4,298.3 241.6,295.6 241.8,286.5 242.0,294.2 242.2,302.3 242.4,298.8 242.6,297.2 242.8,296.5 243.0,293.4 243.2,292.5 243.4,294.5 243.6,298.9 243.8,298.2 244.0,302.4 244.2,307.2 244.4,303.6 244.6,305.3 244.8,301.9 245.0,299.5 245.2,312.7 245.4,309.2 245.6,312.0 245.8,307.5 246.0,303.9 246.2,315.4 246.4,304.7 246.6,311.3 246.8,310.3 247.0,313.2 247.2,315.5 247.4,315.8 247.6,306.4 247.8,316.8 248.0,306.9 248.2,316.0 248.4,312.3 248.6,310.1 248.8,312.3 249.0,309.7 249.2,314.3 249.4,317.7 249.6,317.4 249.8,314.9 250.0,318.7 250.2,316.7 250.4,322.0 250.6,317.0 250.8,313.3 251.0,314.4 251.2,312.9 251.4,314.6 251.6,315.2 251.8,318.1 252.0,318.5 252.2,316.1 252.4,317.5 252.6,313.7 252.8,314.4 253.0,309.8 253.2,313.9 253.4,312.7 253.6,323.8 253.8,312.7 254.0,317.8 254.2,316.8 254.4,305.9 254.6,319.5 254.8,319.1 255.0,314.6 255.2,313.5 255.4,320.2 255.6,316.1 255.8,323.5 256.0,320.8 256.2,324.0 256.4,321.7 256.6,328.2 256.8,328.8 257.0,329.2 257.2,325.3 257.4,322.3 257.6,321.8 257.8,325.4 258.0,328.7 258.2,326.5 258.4,335.3 258.6,329.2 258.8,331.7 259.0,331.0 259.2,327.2 259.4,334.7 259.6,333.5 259.8,334.2 260.0,328.6 260.2,331.6 260.4,331.4 260.6,335.2 260.8,327.2 261.0,333.6 261.2,335.4 261.4,330.1 261.6,328.9 261.8,335.5 262.0,332.1 262.2,334.8 262.4,333.6 262.6,334.6 262.8,330.6 263.0,324.9 263.2,333.0 263.4,328.9 263.6,332.9 263.8,329.2 264.0,335.9 264.2,329.8 264.4,333.1 264.6,333.9 264.8,330.0 265.0,332.6 265.2,329.8 265.4,326.8 265.6,334.2 265.8,326.4 266.0,324.2 266.2,327.3 266.4,329.2 266.6,328.7 266.8,327.1 267.0,326.3 267.2,321.0 267.4,329.0 267.6,332.1 267.8,323.7 268.0,319.8 268.2,327.6 268.4,323.6 268.6,317.9 268.8,321.7 269.0,319.1 269.2,319.8 269.4,329.9 269.6,326.8 269.8,322.5 270.0,323.5 270.2,335.6 270.4,315.3 270.6,325.9 270.8,321.3 271.0,326.2 271.2,324.1 271.4,320.9 271.6,326.9 271.8,325.1 272.0,329.4 272.2,321.9 272.4,323.7 272.6,320.9 272.8,327.2 273.0,320.6 273.2,323.0 273.4,327.4 273.6,324.8 273.8,323.9 274.0,323.8 274.2,324.0 274.4,325.0 274.6,321.7 274.8,308.0 275.0,327.1 275.2,319.1 275.4,336.9 275.6,325.0 275.8,328.9 276.0,326.5 276.2,324.0 276.4,325.7 276.6,318.0 276.8,323.4 277.0,321.7 277.2,323.0 277.4,316.5 277.6,316.7 277.8,325.7 278.0,323.6 278.2,322.1 278.4,323.4 278.6,321.7 278.8,322.3 279.0,326.3 279.2,323.4 279.4,326.6 279.6,322.0 279.8,318.5 280.0,322.4 280.2,324.2 280.4,321.1 280.6,323.6 280.8,323.4 281.0,328.2 281.2,328.0 281.4,328.9 281.6,319.5 281.8,326.6 282.0,335.2 282.2,326.1 282.4,325.3 282.6,323.0 282.8,328.3 283.0,326.0 283.2,328.6 283.4,324.0 283.6,331.5 283.8,324.8 284.0,315.3 284.2,325.2 284.4,325.9 284.6,328.3 284.8,322.2 285.0,321.8 285.2,322.4 285.4,320.0 285.6,316.5 285.8,325.1 286.0,326.6 286.2,319.7 286.4,318.7 286.6,320.7 286.8,318.9 287.0,324.1 287.2,319.1 287.4,323.1 287.6,316.6 287.8,315.8 288.0,315.1 288.2,315.3 288.4,321.3 288.6,322.5 288.8,319.9 289.0,319.8 289.2,303.9 289.4,322.3 289.6,313.9 289.8,322.3 290.0,324.2 290.2,317.4 290.4,318.9 290.6,318.6 290.8,311.5 291.0,311.8 291.2,312.9 291.4,316.2 291.6,317.6 291.8,314.7 292.0,317.9 292.2,311.9 292.4,308.4 292.6,313.1 292.8,312.5 293.0,307.3 293.2,315.6 293.4,308.2 293.6,308.7 293.8,311.7 294.0,306.8 294.2,312.5 294.4,311.5 294.6,311.5 294.8,309.6 295.0,305.6 295.2,306.6 295.4,310.4 295.6,314.3 295.8,312.2 296.0,310.7 296.2,313.0 296.4,320.5 296.6,305.0 296.8,309.4 297.0,314.0 297.2,307.3 297.4,308.0 297.6,312.0 297.8,308.2 298.0,314.3 298.2,308.9 298.4,312.2 298.6,317.0 298.8,314.4 299.0,305.7 299.2,307.0 299.4,307.5 299.6,311.2 299.8,306.8 300.0,314.1 300.2,318.6 300.4,318.5 300.6,310.7 300.8,312.9 301.0,313.3 301.2,312.0 301.4,321.2 301.6,313.4 301.8,312.5 302.0,318.0 302.2,320.0 302.4,322.9 302.6,323.5 302.8,318.1 303.0,312.7 303.2,322.2 303.4,323.2 303.6,327.1 303.8,316.4 304.0,318.4 304.2,334.7 304.4,335.8 304.6,333.8 304.8,324.4 305.0,329.2 305.2,323.7 305.4,322.0 305.6,326.3 305.8,327.3 306.0,330.1 306.2,336.0 306.4,322.8 306.6,329.8 306.8,330.9 307.0,325.9 307.2,329.5 307.4,330.9 307.6,332.6 307.8,328.9 308.0,330.2 308.2,329.0 308.4,333.9 308.6,332.2 308.8,331.8 309.0,335.9 309.2,333.7 309.4,330.9 309.6,338.4 309.8,338.2 310.0,337.0 310.2,332.8 310.4,339.6 310.6,334.8 310.8,331.2 311.0,336.7 311.2,342.8 311.4,336.4 311.6,339.7 311.8,342.3 312.0,339.1 312.2,337.9 312.4,339.1 312.6,341.1 312.8,338.1 313.0,340.9 313.2,341.8 313.4,339.3 313.6,345.3 313.8,342.6 314.0,340.3 314.2,340.9 314.4,342.0 314.6,341.5 314.8,341.6 315.0,339.5 315.2,343.0 315.4,345.1 315.6,345.0 315.8,341.1 316.0,345.3 316.2,345.7 316.4,341.6 316.6,345.9 316.8,344.2 317.0,343.8 317.2,345.7 317.4,344.7 317.6,340.1 317.8,346.3 318.0,338.7 318.2,345.9 318.4,348.2 318.6,345.9 318.8,345.5 319.0,347.3 319.2,348.5 319.4,345.0 319.6,345.7 319.8,350.6 320.0,352.2 320.2,348.0 320.4,353.5 320.6,346.3 320.8,348.5 321.0,348.8 321.2,345.3 321.4,348.9 321.6,348.6 321.8,344.0 322.0,349.2 322.2,350.3 322.4,350.3 322.6,350.7 322.8,347.0 323.0,345.3 323.2,349.7 323.4,348.0 323.6,349.2 323.8,353.8 324.0,348.4 324.2,349.9 324.4,355.8 324.6,350.7 324.8,348.5 325.0,352.0 325.2,351.9 325.4,351.9 325.6,347.3 325.8,352.5 326.0,352.9 326.2,357.5 326.4,354.0 326.6,351.2 326.8,353.3 327.0,354.3 327.2,352.3 327.4,352.7 327.6,356.5 327.8,354.3 328.0,354.5 328.2,350.8 328.4,356.0 328.6,348.6 328.8,356.8 329.0,352.5 329.2,355.4 329.4,357.4 329.6,351.1 329.8,357.0 330.0,355.6 330.2,357.1 330.4,353.2 330.6,352.4 330.8,357.5 331.0,355.3 331.2,354.4 331.4,351.4 331.6,357.7 331.8,352.6 332.0,353.8 332.2,352.7 332.4,354.5 332.6,358.2 332.8,354.3 333.0,354.2 333.2,353.1 333.4,363.5 333.6,358.7 333.8,353.8 334.0,352.3 334.2,355.3 334.4,350.5 334.6,355.2 334.8,355.3 335.0,355.0 335.2,358.7 335.4,359.3 335.6,355.8 335.8,353.7 336.0,360.9 336.2,357.5 336.4,347.8 336.6,352.8 336.8,354.0 337.0,350.4 337.2,351.7 337.4,358.7 337.6,347.3 337.8,356.7 338.0,352.5 338.2,357.0 338.4,355.3 338.6,356.8 338.8,350.9 339.0,355.2 339.2,352.9 339.4,356.3 339.6,356.2 339.8,354.8 340.0,353.7 340.2,354.2 340.4,354.9 340.6,352.9 340.8,353.1 341.0,352.5 341.2,351.5 341.4,356.8 341.6,350.7 341.8,357.4 342.0,358.4 342.2,349.7 342.4,349.3 342.6,354.1 342.8,351.3 343.0,354.3 343.2,356.4 343.4,354.9 343.6,353.4 343.8,353.0 344.0,357.7 344.2,353.0 344.4,358.3 344.6,365.5 344.8,352.9 345.0,354.6 345.2,358.2 345.4,352.0 345.6,354.9 345.8,356.5 346.0,351.1 346.2,354.7 346.4,354.1 346.6,350.9 346.8,357.7 347.0,353.4 347.2,365.2 347.4,355.5 347.6,351.9 347.8,354.3 348.0,351.7 348.2,355.7 348.4,355.3 348.6,350.5 348.8,352.5 349.0,354.8 349.2,353.7 349.4,351.0 349.6,356.3 349.8,357.0 350.0,349.6 350.2,357.2 350.4,348.1 350.6,352.8 350.8,351.6 351.0,350.3 351.2,353.7 351.4,350.2 351.6,352.9 351.8,357.5 352.0,354.3 352.2,356.9 352.4,355.3 352.6,343.7 352.8,357.6 353.0,355.2 353.2,354.6 353.4,351.9 353.6,351.5 353.8,350.1 354.0,352.4 354.2,353.1 354.4,352.3 354.6,352.3 354.8,347.6 355.0,350.7 355.2,350.5 355.4,353.3 355.6,351.3 355.8,351.3 356.0,353.1 356.2,351.1 356.4,351.6 356.6,355.1 356.8,351.8 357.0,349.8 357.2,353.6 357.4,354.1 357.6,353.6 357.8,348.6 358.0,354.4 358.2,352.0 358.4,352.8 358.6,352.0 358.8,353.0 359.0,353.0 359.2,355.5 359.4,352.3 359.6,351.4 359.8,353.2 360.0,351.3 360.2,354.3 360.4,351.9 360.6,353.3 360.8,350.0 361.0,353.9 361.2,352.9 361.4,349.1 361.6,350.2 361.8,351.4 362.0,347.7 362.2,348.3 362.4,352.3 362.6,352.3 362.8,359.1 363.0,347.6 363.2,349.9 363.4,339.0 363.6,355.3 363.8,343.1 364.0,350.0 364.2,355.6 364.4,354.3 364.6,345.6 364.8,355.7 365.0,351.6 365.2,347.7 365.4,351.0 365.6,351.9 365.8,351.9 366.0,344.7 366.2,354.9 366.4,345.9 366.6,349.5 366.8,353.7 367.0,351.0 367.2,349.8 367.4,348.3 367.6,351.3 367.8,353.4 368.0,348.3 368.2,350.8 368.4,348.7 368.6,348.6 368.8,337.5 369.0,351.3 369.2,355.4 369.4,349.2 369.6,352.4 369.8,350.1 370.0,352.8 370.2,350.0 370.4,348.7 370.6,348.4 370.8,349.9 371.0,350.5 371.2,345.3 371.4,349.3 371.6,346.2 371.8,346.2 372.0,351.4 372.2,350.7 372.4,352.1 372.6,350.1 372.8,350.4 373.0,354.6 373.2,347.6 373.4,350.6 373.6,353.9 373.8,355.0 374.0,351.3 374.2,349.6 374.4,343.9 374.6,349.5 374.8,350.3 375.0,349.9 375.2,351.2 375.4,351.4 375.6,348.7 375.8,344.9 376.0,349.2 376.2,351.1 376.4,354.2 376.6,345.8 376.8,352.8 377.0,349.3 377.2,352.8 377.4,354.9 377.6,351.3 377.8,347.1 378.0,349.0 378.2,352.4 378.4,349.2 378.6,349.9 378.8,348.1 379.0,349.5 379.2,348.5 379.4,352.3 379.6,352.0 379.8,352.0 380.0,345.9 380.2,348.9 380.4,348.2 380.6,349.0 380.8,345.1 381.0,348.2 381.2,354.1 381.4,349.4 381.6,346.8 381.8,349.2 382.0,355.2 382.2,351.7 382.4,347.4 382.6,349.1 382.8,349.5 383.0,349.7 383.2,344.7 383.4,347.0 383.6,348.9 383.8,344.8 384.0,348.6 384.2,349.2 384.4,350.9 384.6,351.5 384.8,348.2 385.0,349.1 385.2,350.2 385.4,351.0 385.6,348.5 385.8,346.2 386.0,349.6 386.2,350.2 386.4,348.3 386.6,349.3 386.8,351.9 387.0,346.3 387.2,345.7 387.4,344.6 387.6,348.3 387.8,349.8 388.0,345.9 388.2,358.1 388.4,345.5 388.6,348.7 388.8,346.5 389.0,350.4 389.2,345.0 389.4,350.9 389.6,346.0 389.8,342.8 390.0,342.9 390.2,345.7 390.4,350.4 390.6,343.1 390.8,345.7 391.0,351.1 391.2,345.9 391.4,343.7 391.6,343.3 391.8,341.0 392.0,345.9 392.2,348.0 392.4,343.6 392.6,338.0 392.8,344.9 393.0,343.9 393.2,343.3 393.4,346.2 393.6,343.2 393.8,340.6 394.0,345.3 394.2,337.2 394.4,338.9 394.6,341.0 394.8,337.8 395.0,345.3 395.2,335.2 395.4,342.6 395.6,342.0 395.8,341.2 396.0,342.7 396.2,338.3 396.4,337.8 396.6,348.6 396.8,339.1 397.0,335.4 397.2,336.0 397.4,335.2 397.6,340.2 397.8,342.6 398.0,338.6 398.2,339.9 398.4,338.2 398.6,342.1 398.8,342.1 399.0,345.6 399.2,344.8 399.4,336.5 399.6,342.1 399.8,335.7 400.0,342.1 400.2,342.4 400.4,342.2 400.6,342.5 400.8,340.1 401.0,338.8 401.2,342.7 401.4,338.9 401.6,342.7 401.8,335.7 402.0,341.8 402.2,341.8 402.4,338.8 402.6,340.2 402.8,343.7 403.0,341.3 403.2,342.7 403.4,339.9 403.6,341.8 403.8,337.6 404.0,339.6 404.2,345.1 404.4,343.3 404.6,341.9 404.8,343.1 405.0,338.4 405.2,343.3 405.4,338.9 405.6,340.3 405.8,344.3 406.0,340.5 406.2,341.1 406.4,342.4 406.6,343.4 406.8,346.3 407.0,338.2 407.2,341.8 407.4,344.5 407.6,341.7 407.8,342.0 408.0,340.9 408.2,342.3 408.4,344.9 408.6,346.5 408.8,344.2 409.0,347.0 409.2,343.6 409.4,339.0 409.6,345.4 409.8,338.1 410.0,343.4 410.2,343.6 410.4,340.6 410.6,343.1 410.8,342.2 411.0,344.6 411.2,343.0 411.4,345.4 411.6,342.8 411.8,345.5 412.0,343.9 412.2,344.6 412.4,344.3 412.6,342.7 412.8,347.0 413.0,345.6 413.2,338.4 413.4,340.8 413.6,348.5 413.8,343.3 414.0,349.6 414.2,345.1 414.4,345.1 414.6,342.6 414.8,343.2 415.0,344.1 415.2,346.0 415.4,343.7 415.6,343.2 415.8,340.5 416.0,341.8 416.2,341.7 416.4,342.3 416.6,338.0 416.8,335.5 417.0,341.3 417.2,336.3 417.4,337.7 417.6,339.3 417.8,342.4 418.0,339.3 418.2,338.0 418.4,342.6 418.6,339.5 418.8,344.1 419.0,339.7 419.2,338.2 419.4,338.9 419.6,344.5 419.8,348.7 420.0,339.8 420.2,342.0 420.4,335.2 420.6,342.2 420.8,339.6 421.0,338.2 421.2,338.3 421.4,338.7 421.6,336.6 421.8,336.6 422.0,334.1 422.2,341.5 422.4,334.5 422.6,336.4 422.8,339.4 423.0,339.7 423.2,340.1 423.4,334.3 423.6,334.5 423.8,335.3 424.0,330.2 424.2,337.5 424.4,330.3 424.6,334.3 424.8,337.0 425.0,336.7 425.2,330.3 425.4,336.5 425.6,336.8 425.8,328.9 426.0,332.7 426.2,335.2 426.4,334.4 426.6,330.5 426.8,332.5 427.0,339.2 427.2,331.4 427.4,335.3 427.6,328.7 427.8,333.4 428.0,334.7 428.2,330.4 428.4,329.6 428.6,336.5 428.8,330.5 429.0,333.8 429.2,326.5 429.4,335.4 429.6,324.7 429.8,327.4 430.0,328.1 430.2,329.5 430.4,330.0 430.6,333.8 430.8,335.0 431.0,334.2 431.2,330.9 431.4,328.8 431.6,322.0 431.8,327.4 432.0,325.6 432.2,328.9 432.4,323.8 432.6,323.9 432.8,323.9 433.0,327.6 433.2,325.9 433.4,321.9 433.6,319.4 433.8,322.5 434.0,321.8 434.2,321.7 434.4,323.1 434.6,324.6 434.8,324.3 435.0,319.3 435.2,318.5 435.4,325.0 435.6,319.0 435.8,321.3 436.0,319.0 436.2,318.9 436.4,328.4 436.6,315.5 436.8,319.0 437.0,316.5 437.2,313.5 437.4,311.8 437.6,310.9 437.8,315.6 438.0,314.4 438.2,307.7 438.4,311.2 438.6,303.2 438.8,308.7 439.0,314.6 439.2,303.1 439.4,307.4 439.6,303.6 439.8,305.2 440.0,300.5 440.2,304.0 440.4,295.3 440.6,300.8 440.8,299.8 441.0,299.7 441.2,306.2 441.4,294.3 441.6,295.1 441.8,291.9 442.0,297.7 442.2,295.1 442.4,290.1 442.6,297.0 442.8,293.8 443.0,297.3 443.2,294.1 443.4,290.9 443.6,287.0 443.8,281.5 444.0,286.2 444.2,297.3 444.4,286.3 444.6,283.4 444.8,286.9 445.0,291.6 445.2,293.2 445.4,280.8 445.6,282.9 445.8,279.5 446.0,281.0 446.2,287.4 446.4,283.8 446.6,279.2 446.8,290.4 447.0,292.7 447.2,289.7 447.4,283.6 447.6,284.1 447.8,293.7 448.0,285.9 448.2,288.5 448.4,286.2 448.6,299.5 448.8,291.1 449.0,294.0 449.2,293.0 449.4,294.4 449.6,293.9 449.8,303.2 450.0,298.4 450.2,313.5 450.4,299.5 450.6,307.3 450.8,314.3 451.0,305.1 451.2,311.4 451.4,310.3 451.6,310.3 451.8,314.2 452.0,311.2 452.2,317.9 452.4,315.6 452.6,324.0 452.8,328.1 453.0,329.0 453.2,323.8 453.4,326.8 453.6,334.4 453.8,333.4 454.0,334.5 454.2,326.1 454.4,331.9 454.6,340.2 454.8,336.1 455.0,334.4 455.2,336.7 455.4,343.5 455.6,341.7 455.8,335.2 456.0,336.3 456.2,340.2 456.4,344.3 456.6,339.2 456.8,340.2 457.0,337.0 457.2,341.1 457.4,344.9 457.6,345.4 457.8,340.2 458.0,346.7 458.2,342.8 458.4,341.6 458.6,347.1 458.8,341.8 459.0,345.3 459.2,344.5 459.4,346.8 459.6,348.1 459.8,346.7 460.0,342.4 460.2,347.2 460.4,344.0 460.6,348.9 460.8,361.2 461.0,350.8 461.2,353.2 461.4,350.6 461.6,350.9 461.8,352.4 462.0,355.1 462.2,353.5 462.4,349.9 462.6,352.5 462.8,343.5 463.0,355.6 463.2,353.2 463.4,352.8 463.6,350.5 463.8,355.2 464.0,356.8 464.2,355.8 464.4,357.5 464.6,353.0 464.8,357.5 465.0,355.4 465.2,350.7 465.4,356.5 465.6,353.5 465.8,355.8 466.0,354.7 466.2,354.3 466.4,359.3 466.6,355.4 466.8,357.3 467.0,358.7 467.2,356.1 467.4,354.1 467.6,357.5 467.8,357.1 468.0,352.2 468.2,357.8 468.4,360.8 468.6,360.1 468.8,361.7 469.0,361.3 469.2,358.5 469.4,358.1 469.6,355.4 469.8,361.1 470.0,356.8 470.2,359.7 470.4,362.5 470.6,358.7 470.8,354.8 471.0,356.0 471.2,357.7 471.4,361.9 471.6,357.9 471.8,358.4 472.0,352.7 472.2,359.7 472.4,359.1 472.6,360.9 472.8,356.6 473.0,360.5 473.2,355.5 473.4,357.4 473.6,357.7 473.8,358.6 474.0,360.1 474.2,354.2 474.4,359.0 474.6,358.3 474.8,356.0 475.0,358.6 475.2,360.5 475.4,358.3 475.6,358.2 475.8,361.2 476.0,357.7 476.2,362.2 476.4,360.5 476.6,360.7 476.8,361.2 477.0,362.8 477.2,358.0 477.4,362.7 477.6,357.7 477.8,360.8 478.0,361.4 478.2,360.4 478.4,357.3 478.6,357.1 478.8,357.4 479.0,360.0 479.2,361.2 479.4,361.6 479.6,351.6 479.8,361.1 480.0,366.1 480.2,360.8 480.4,360.4 480.6,362.4 480.8,364.4 481.0,364.2 481.2,364.3 481.4,357.5 481.6,364.2 481.8,359.9 482.0,362.8 482.2,359.3 482.4,361.7 482.6,359.4 482.8,360.2 483.0,365.6 483.2,358.0 483.4,363.4 483.6,361.2 483.8,358.3 484.0,364.3 484.2,361.2 484.4,359.8 484.6,362.0 484.8,356.9 485.0,365.3 485.2,357.6 485.4,360.0 485.6,356.4 485.8,361.9 486.0,363.3 486.2,366.8 486.4,365.2 486.6,361.4 486.8,360.4 487.0,363.7 487.2,360.1 487.4,362.4 487.6,360.4 487.8,359.9 488.0,361.5 488.2,364.4 488.4,367.0 488.6,362.1 488.8,350.5 489.0,361.8 489.2,362.7 489.4,363.1 489.6,360.1 489.8,364.3 490.0,362.7 490.2,357.3 490.4,363.7 490.6,371.4 490.8,362.6 491.0,360.1 491.2,366.4 491.4,364.5 491.6,357.6 491.8,364.6 492.0,363.0 492.2,362.8 492.4,357.8 492.6,358.0 492.8,362.5 493.0,366.7 493.2,362.5 493.4,362.9 493.6,360.6 493.8,361.1 494.0,364.6 494.2,358.0 494.4,366.6 494.6,363.2 494.8,362.8 495.0,361.7 495.2,360.3 495.4,360.7 495.6,358.5 495.8,362.2 496.0,357.4 496.2,366.9 496.4,361.8 496.6,358.2 496.8,363.2 497.0,362.2 497.2,360.6 497.4,363.1 497.6,359.9 497.8,361.6 498.0,361.5 498.2,363.1 498.4,360.6 498.6,362.6 498.8,357.2 499.0,364.6 499.2,362.7 499.4,363.3 499.6,361.4 499.8,364.1 500.0,361.9 500.2,362.5 500.4,362.2 500.6,360.8 500.8,359.9 501.0,363.4 501.2,363.7 501.4,362.0 501.6,365.2 501.8,362.5 502.0,363.4 502.2,364.9 502.4,364.0 502.6,361.8 502.8,359.6 503.0,360.4 503.2,359.7 503.4,364.2 503.6,351.4 503.8,367.2 504.0,360.2 504.2,368.3 504.4,363.1 504.6,363.7 504.8,359.2 505.0,364.9 505.2,362.2 505.4,363.9 505.6,360.1 505.8,362.3 506.0,360.7 506.2,363.2 506.4,364.1 506.6,361.3 506.8,363.6 507.0,363.7 507.2,362.4 507.4,361.9 507.6,357.9 507.8,365.1 508.0,363.0 508.2,362.0 508.4,363.1 508.6,361.3 508.8,361.9 509.0,363.8 509.2,354.3 509.4,361.9 509.6,363.2 509.8,358.9 510.0,360.1 510.2,365.7 510.4,367.5 510.6,363.5 510.8,366.6 511.0,360.7 511.2,366.1 511.4,362.7 511.6,363.1 511.8,363.8 512.0,361.5 512.2,361.2 512.4,362.8 512.6,360.4 512.8,361.5 513.0,358.0 513.2,360.5 513.4,364.0 513.6,365.6 513.8,364.4 514.0,361.0 514.2,363.2 514.4,360.7 514.6,360.4 514.8,365.4 515.0,362.1 515.2,362.2 515.4,363.5 515.6,365.3 515.8,363.4 516.0,362.5 516.2,363.9 516.4,362.8 516.6,361.6 516.8,358.2 517.0,361.1 517.2,362.9 517.4,360.8 517.6,367.7 517.8,368.0 518.0,367.5 518.2,361.3 518.4,364.6 518.6,364.5 518.8,364.3 519.0,359.7 519.2,365.7 519.4,367.6 519.6,365.5 519.8,368.1 520.0,362.9 520.2,365.3 520.4,371.2 520.6,361.5 520.8,363.4 521.0,362.0 521.2,365.9 521.4,361.1 521.6,364.5 521.8,362.6 522.0,366.0 522.2,362.6 522.4,363.5 522.6,364.5 522.8,362.1 523.0,362.9 523.2,363.3 523.4,362.7 523.6,364.5 523.8,362.1 524.0,364.1 524.2,363.2 524.4,362.4 524.6,361.3 524.8,353.9 525.0,362.2 525.2,367.0 525.4,363.0 525.6,367.4 525.8,361.5 526.0,362.9 526.2,360.0 526.4,366.5 526.6,360.6 526.8,364.8 527.0,365.4 527.2,368.6 527.4,367.0 527.6,365.7 527.8,364.2 528.0,368.3 528.2,363.1 528.4,361.0 528.6,366.0 528.8,363.9 529.0,362.4 529.2,364.8 529.4,366.9 529.6,360.4 529.8,366.4 530.0,368.8 530.2,363.2 530.4,356.1 530.6,364.8 530.8,363.9 531.0,368.5 531.2,366.4 531.4,363.9 531.6,367.9 531.8,359.7 532.0,360.6 532.2,364.7 532.4,365.3 532.6,364.0 532.8,365.4 533.0,361.3 533.2,359.5 533.4,366.4 533.6,371.9 533.8,364.5 534.0,361.8 534.2,362.9 534.4,366.0 534.6,365.1 534.8,367.7 535.0,373.8"/>
<polyline stroke="#18ad6b" stroke-width="1.6" points="48.2,43.3 48.7,43.9 49.2,44.6 49.7,45.2 50.2,45.9 50.7,46.5 51.2,47.1 51.7,47.8 52.2,48.4 52.7,49.0 53.2,49.6 53.7,50.2 54.2,50.9 54.7,51.5 55.2,52.1 55.7,52.6 56.2,53.2 56.7,53.8 57.2,54.4 57.7,55.0 58.2,55.5 58.7,56.1 59.2,56.7 59.7,57.2 60.2,57.8 60.7,58.3 61.2,58.9 61.7,59.4 62.2,60.0 62.7,60.5 63.2,61.0 63.7,61.6 64.2,62.1 64.7,62.6 65.2,63.2 65.7,63.7 66.2,64.2 66.7,64.7 67.2,65.3 67.7,65.8 68.2,66.3 68.7,66.8 69.2,67.3 69.7,67.9 70.2,68.4 70.7,68.9 71.2,69.4 71.7,69.9 72.2,70.4 72.7,70.9 73.2,71.4 73.7,71.9 74.2,72.4 74.7,72.8 75.2,73.3 75.7,73.8 76.2,74.3 76.7,74.7 77.2,75.2 77.7,75.7 78.2,76.1 78.7,76.6 79.2,77.1 79.7,77.6 80.2,78.1 80.7,78.6 81.2,79.1 81.7,79.6 82.2,80.1 82.7,80.5 83.2,81.0 83.7,81.4 84.2,81.8 84.7,82.1 85.2,82.5 85.7,82.8 86.2,83.0 86.7,83.3 87.2,83.5 87.7,83.7 88.2,83.8 88.7,84.0 89.2,84.1 89.7,84.3 90.2,84.4 90.7,84.5 91.2,84.6 91.7,84.8 92.2,84.9 92.7,85.0 93.2,85.1 93.7,85.2 94.2,85.3 94.7,85.4 95.2,85.5 95.7,85.6 96.2,85.7 96.7,85.8 97.2,85.8 97.7,85.9 98.2,86.0 98.7,86.1 99.2,86.2 99.7,86.3 100.2,86.4 100.7,86.5 101.2,86.6 101.7,86.7 102.2,86.7 102.7,86.8 103.2,86.9 103.7,87.0 104.2,87.1 104.7,87.1 105.2,87.2 105.7,87.3 106.2,87.4 106.7,87.5 107.2,87.6 107.7,87.6 108.2,87.7 108.7,87.8 109.2,87.9 109.7,88.0 110.2,88.1 110.7,88.2 111.2,88.3 111.7,88.4 112.2,88.5 112.7,88.6 113.2,88.7 113.7,88.8 114.2,88.9 114.7,89.0 115.2,89.1 115.7,89.3 116.2,89.4 116.7,89.5 117.2,89.6 117.7,89.7 118.2,89.8 118.7,89.9 119.2,90.0 119.7,90.2 120.2,90.3 120.7,90.4 121.2,90.5 121.7,90.7 122.2,90.8 122.7,90.9 123.2,91.1 123.7,91.2 124.2,91.3 124.7,91.5 125.2,91.6 125.7,91.8 126.2,91.9 126.7,92.1 127.2,92.2 127.7,92.3 128.2,92.5 128.7,92.6 129.2,92.8 129.7,92.9 130.2,93.1 130.7,93.2 131.2,93.4 131.7,93.6 132.2,93.8 132.7,93.9 133.2,94.1 133.7,94.3 134.2,94.5 134.7,94.7 135.2,94.9 135.7,95.1 136.2,95.3 136.7,95.4 137.2,95.6 137.7,95.7 138.2,95.8 138.7,95.9 139.2,96.0 139.7,96.0 140.2,96.0 140.7,96.0 141.2,96.0 141.7,96.0 142.2,96.0 142.7,96.0 143.2,96.0 143.7,96.0 144.2,96.0 144.7,96.0 145.2,96.0 145.7,96.0 146.2,96.0 146.7,96.0 147.2,96.0 147.7,96.0 148.2,96.0 148.7,96.0 149.2,96.0 149.7,96.0 150.2,96.0 150.7,96.0 151.2,96.0 151.7,96.0 152.2,95.9 152.7,95.9 153.2,95.8 153.7,95.7 154.2,95.6 154.7,95.5 155.2,95.4 155.7,95.3 156.2,95.2 156.7,95.0 157.2,94.9 157.7,94.7 158.2,94.5 158.7,94.4 159.2,94.2 159.7,94.0 160.2,93.9 160.7,93.7 161.2,93.6 161.7,93.4 162.2,93.2 162.7,93.1 163.2,92.9 163.7,92.7 164.2,92.5 164.7,92.3 165.2,92.1 165.7,91.8 166.2,91.6 166.7,91.4 167.2,91.1 167.7,90.9 168.2,90.7 168.7,90.5 169.2,90.2 169.7,90.0 170.2,89.8 170.7,89.6 171.2,89.5 171.7,89.3 172.2,89.1 172.7,89.0 173.2,88.9 173.7,88.8 174.2,88.7 174.7,88.6 175.2,88.5 175.7,88.4 176.2,88.3 176.7,88.3 177.2,88.2 177.7,88.1 178.2,88.0 178.7,88.0 179.2,87.9 179.7,87.8 180.2,87.7 180.7,87.7 181.2,87.6 181.7,87.5 182.2,87.4 182.7,87.2 183.2,87.1 183.7,87.0 184.2,86.8 184.7,86.6 185.2,86.4 185.7,86.1 186.2,85.8 186.7,85.5 187.2,85.1 187.7,84.8 188.2,84.4 188.7,84.0 189.2,83.7 189.7,83.3 190.2,82.9 190.7,82.5 191.2,82.1 191.7,81.7 192.2,81.4 192.7,81.0 193.2,80.7 193.7,80.4 194.2,80.2 194.7,79.9 195.2,79.6 195.7,79.4 196.2,79.1 196.7,78.9 197.2,78.6 197.7,78.3 198.2,78.1 198.7,77.8 199.2,77.6 199.7,77.4 200.2,77.2 200.7,77.0 201.2,76.8 201.7,76.7 202.2,76.6 202.7,76.5 203.2,76.5 203.7,76.5 204.2,76.6 204.7,76.8 205.2,77.0 205.7,77.3 206.2,77.6 206.7,77.9 207.2,78.3 207.7,78.7 208.2,79.0 208.7,79.4 209.2,79.8 209.7,80.2 210.2,80.5 210.7,80.8 211.2,81.0 211.7,81.2 212.2,81.4 212.7,81.5 213.2,81.6 213.7,81.7 214.2,81.8 214.7,81.9 215.2,82.0 215.7,82.1 216.2,82.2 216.7,82.3 217.2,82.3 217.7,82.4 218.2,82.4 218.7,82.4 219.2,82.3 219.7,82.2 220.2,82.1 220.7,81.9 221.2,81.7 221.7,81.4 222.2,81.1 222.7,80.8 223.2,80.4 223.7,80.1 224.2,79.7 224.7,79.3 225.2,78.8 225.7,78.3 226.2,77.5 226.7,76.7 227.2,75.7 227.7,74.4 228.2,72.2 228.7,69.7 229.2,67.6 229.7,66.8 230.2,66.3 230.7,66.0 231.2,65.7 231.7,65.4 232.2,65.2 232.7,65.1 233.2,64.9 233.7,64.8 234.2,64.7 234.7,64.6 235.2,64.5 235.7,64.5 236.2,64.5 236.7,64.5 237.2,64.6 237.7,64.7 238.2,64.8 238.7,64.9 239.2,65.1 239.7,65.6 240.2,66.4 240.7,67.4 241.2,68.6 241.7,70.0 242.2,71.4 242.7,72.7 243.2,74.0 243.7,75.5 244.2,77.1 244.7,78.8 245.2,80.5 245.7,82.1 246.2,83.7 246.7,85.0 247.2,86.2 247.7,87.3 248.2,88.3 248.7,89.3 249.2,90.2 249.7,91.1 250.2,91.9 250.7,92.6 251.2,93.4 251.7,94.0 252.2,94.7 252.7,95.3 253.2,96.0 253.7,96.6 254.2,97.1 254.7,97.7 255.2,98.2 255.7,98.7 256.2,99.2 256.7,99.6 257.2,100.0 257.7,100.4 258.2,100.8 258.7,101.2 259.2,101.6 259.7,102.0 260.2,102.3 260.7,102.7 261.2,103.0 261.7,103.2 262.2,103.4 262.7,103.5 263.2,103.5 263.7,103.5 264.2,103.5 264.7,103.5 265.2,103.5 265.7,103.5 266.2,103.5 266.7,103.5 267.2,103.5 267.7,103.5 268.2,103.5 268.7,103.5 269.2,103.5 269.7,103.5 270.2,103.3 270.7,102.9 271.2,102.4 271.7,101.7 272.2,100.9 272.7,100.0 273.2,99.1 273.7,98.3 274.2,97.5 274.7,96.8 275.2,96.3 275.7,95.9 276.2,95.8 276.7,95.9 277.2,96.1 277.7,96.4 278.2,96.8 278.7,97.3 279.2,97.7 279.7,98.3 280.2,98.7 280.7,99.2 281.2,99.6 281.7,99.9 282.2,100.1 282.7,100.2 283.2,100.1 283.7,99.9 284.2,99.6 284.7,99.2 285.2,98.7 285.7,98.1 286.2,97.5 286.7,96.8 287.2,96.2 287.7,95.5 288.2,94.9 288.7,94.2 289.2,93.7 289.7,93.2 290.2,92.6 290.7,92.0 291.2,91.3 291.7,90.6 292.2,90.0 292.7,89.4 293.2,88.8 293.7,88.2 294.2,87.8 294.7,87.4 295.2,87.2 295.7,87.1 296.2,87.1 296.7,87.2 297.2,87.2 297.7,87.3 298.2,87.5 298.7,87.6 299.2,87.8 299.7,88.0 300.2,88.2 300.7,88.6 301.2,89.3 301.7,90.2 302.2,91.3 302.7,92.5 303.2,93.8 303.7,95.1 304.2,96.3 304.7,97.4 305.2,98.6 305.7,99.8 306.2,101.0 306.7,102.3 307.2,103.6 307.7,104.9 308.2,106.1 308.7,107.3 309.2,108.5 309.7,109.6 310.2,110.6 310.7,111.5 311.2,112.3 311.7,113.1 312.2,113.8 312.7,114.5 313.2,115.1 313.7,115.7 314.2,116.3 314.7,116.9 315.2,117.5 315.7,118.0 316.2,118.6 316.7,119.1 317.2,119.6 317.7,120.1 318.2,120.5 318.7,121.0 319.2,121.5 319.7,121.9 320.2,122.4 320.7,122.8 321.2,123.2 321.7,123.6 322.2,124.0 322.7,124.4 323.2,124.8 323.7,125.2 324.2,125.5 324.7,125.9 325.2,126.2 325.7,126.6 326.2,126.9 326.7,127.3 327.2,127.6 327.7,128.0 328.2,128.3 328.7,128.6 329.2,129.0 329.7,129.4 330.2,129.8 330.7,130.2 331.2,130.6 331.7,131.0 332.2,131.4 332.7,131.8 333.2,132.2 333.7,132.6 334.2,132.9 334.7,133.2 335.2,133.5 335.7,133.7 336.2,133.8 336.7,134.0 337.2,134.0 337.7,134.0 338.2,134.0 338.7,134.0 339.2,134.0 339.7,134.0 340.2,134.0 340.7,134.0 341.2,134.0 341.7,134.0 342.2,134.0 342.7,134.0 343.2,134.0 343.7,134.0 344.2,134.0 344.7,134.0 345.2,134.0 345.7,134.0 346.2,134.0 346.7,134.0 347.2,134.0 347.7,134.0 348.2,134.0 348.7,134.0 349.2,134.0 349.7,134.0 350.2,134.0 350.7,134.0 351.2,134.0 351.7,133.9 352.2,133.9 352.7,133.9 353.2,133.9 353.7,133.9 354.2,133.8 354.7,133.8 355.2,133.8 355.7,133.7 356.2,133.7 356.7,133.7 357.2,133.6 357.7,133.6 358.2,133.6 358.7,133.5 359.2,133.5 359.7,133.4 360.2,133.4 360.7,133.3 361.2,133.2 361.7,133.1 362.2,133.0 362.7,132.9 363.2,132.8 363.7,132.7 364.2,132.5 364.7,132.4 365.2,132.3 365.7,132.1 366.2,132.0 366.7,131.8 367.2,131.7 367.7,131.5 368.2,131.4 368.7,131.2 369.2,131.0 369.7,130.8 370.2,130.6 370.7,130.4 371.2,130.2 371.7,130.0 372.2,129.8 372.7,129.6 373.2,129.3 373.7,129.1 374.2,128.9 374.7,128.6 375.2,128.4 375.7,128.2 376.2,127.9 376.7,127.7 377.2,127.4 377.7,127.2 378.2,126.9 378.7,126.7 379.2,126.4 379.7,126.2 380.2,125.9 380.7,125.6 381.2,125.4 381.7,125.1 382.2,124.9 382.7,124.7 383.2,124.4 383.7,124.2 384.2,124.0 384.7,123.7 385.2,123.5 385.7,123.3 386.2,123.1 386.7,122.8 387.2,122.6 387.7,122.4 388.2,122.1 388.7,121.9 389.2,121.7 389.7,121.5 390.2,121.2 390.7,121.0 391.2,120.7 391.7,120.5 392.2,120.3 392.7,120.0 393.2,119.7 393.7,119.4 394.2,119.1 394.7,118.7 395.2,118.4 395.7,118.0 396.2,117.6 396.7,117.3 397.2,117.0 397.7,116.8 398.2,116.6 398.7,116.5 399.2,116.4 399.7,116.4 400.2,116.5 400.7,116.6 401.2,116.7 401.7,116.8 402.2,117.0 402.7,117.2 403.2,117.4 403.7,117.6 404.2,117.7 404.7,117.9 405.2,118.1 405.7,118.2 406.2,118.4 406.7,118.7 407.2,118.9 407.7,119.1 408.2,119.3 408.7,119.4 409.2,119.5 409.7,119.6 410.2,119.6 410.7,119.6 411.2,119.5 411.7,119.5 412.2,119.4 412.7,119.3 413.2,119.2 413.7,119.1 414.2,119.0 414.7,118.9 415.2,118.7 415.7,118.6 416.2,118.4 416.7,118.3 417.2,118.1 417.7,117.9 418.2,117.8 418.7,117.6 419.2,117.4 419.7,117.2 420.2,117.0 420.7,116.8 421.2,116.6 421.7,116.3 422.2,116.1 422.7,115.8 423.2,115.5 423.7,115.2 424.2,114.9 424.7,114.5 425.2,114.2 425.7,113.9 426.2,113.5 426.7,113.1 427.2,112.6 427.7,112.2 428.2,111.7 428.7,111.3 429.2,110.8 429.7,110.5 430.2,110.1 430.7,109.7 431.2,109.3 431.7,108.8 432.2,108.2 432.7,107.5 433.2,106.5 433.7,105.5 434.2,104.3 434.7,102.9 435.2,101.2 435.7,99.2 436.2,97.4 436.7,95.8 437.2,94.5 437.7,93.2 438.2,91.9 438.7,90.4 439.2,88.8 439.7,87.2 440.2,85.4 440.7,83.6 441.2,81.6 441.7,79.6 442.2,77.4 442.7,75.1 443.2,72.5 443.7,69.9 444.2,67.4 444.7,64.7 445.2,62.4 445.7,60.4 446.2,59.1 446.7,59.1 447.2,59.5 447.7,60.1 448.2,61.2 448.7,62.8 449.2,64.8 449.7,66.9 450.2,69.6 450.7,72.9 451.2,76.5 451.7,80.7 452.2,85.3 452.7,89.8 453.2,94.3 453.7,98.8 454.2,103.2 454.7,107.5 455.2,111.7 455.7,115.4 456.2,118.3 456.7,120.9 457.2,123.1 457.7,124.7 458.2,125.9 458.7,126.8 459.2,127.5 459.7,128.1 460.2,128.7 460.7,129.3 461.2,129.9 461.7,130.3 462.2,130.8 462.7,131.3 463.2,131.7 463.7,132.2 464.2,132.6 464.7,133.1 465.2,133.5 465.7,133.9 466.2,134.3 466.7,134.7 467.2,135.1 467.7,135.5 468.2,135.8 468.7,136.2 469.2,136.5 469.7,136.8 470.2,137.1 470.7,137.4 471.2,137.7 471.7,138.0 472.2,138.3 472.7,138.6 473.2,138.8 473.7,139.1 474.2,139.4 474.7,139.6 475.2,139.8 475.7,140.1 476.2,140.4 476.7,140.6 477.2,140.9 477.7,141.2 478.2,141.4 478.7,141.7 479.2,141.9 479.7,142.1 480.2,142.3 480.7,142.5 481.2,142.6 481.7,142.7 482.2,142.8 482.7,142.8 483.2,142.8 483.7,142.8 484.2,142.8 484.7,142.8 485.2,142.8 485.7,142.8 486.2,142.8 486.7,142.8 487.2,142.8 487.7,142.8 488.2,142.8 488.7,142.8 489.2,142.8 489.7,142.8 490.2,142.8 490.7,142.8 491.2,142.8 491.7,142.8 492.2,142.8 492.7,142.8 493.2,142.8 493.7,142.8 494.2,142.8 494.7,142.8 495.2,142.8 495.7,142.8 496.2,142.8 496.7,142.8 497.2,142.8 497.7,142.8 498.2,142.8 498.7,142.8 499.2,142.8 499.7,142.8 500.2,142.8 500.7,142.8 501.2,142.8 501.7,142.8 502.2,142.8 502.7,142.8 503.2,142.8 503.7,142.8 504.2,142.8 504.7,142.8 505.2,142.8 505.7,142.8 506.2,142.8 506.7,142.8 507.2,142.8 507.7,142.8 508.2,142.8 508.7,142.8 509.2,142.8 509.7,142.8 510.2,142.8 510.7,142.8 511.2,142.8 511.7,142.8 512.2,142.8 512.7,142.8 513.2,142.8 513.7,142.8 514.2,142.8 514.7,142.8 515.2,142.8 515.7,142.8 516.2,142.8 516.7,142.8 517.2,142.8 517.7,142.9 518.2,142.9 518.7,142.9 519.2,143.0 519.7,143.0 520.2,143.1 520.7,143.1 521.2,143.2 521.7,143.2 522.2,143.3 522.7,143.4 523.2,143.4 523.7,143.5 524.2,143.6 524.7,143.7 525.2,143.8 525.7,143.8 526.2,143.9 526.7,144.0 527.2,144.1 527.7,144.2 528.2,144.2 528.7,144.3 529.2,144.4 529.7,144.5 530.2,144.6 530.7,144.6 531.2,144.7 531.7,144.8 532.2,144.9 532.7,144.9 533.2,145.0 533.7,145.1 534.2,145.2 534.7,145.3 535.2,145.3"/>
<polyline stroke="#1a6de6" stroke-width="1.6" points="48.2,114.4 48.7,115.2 49.2,116.1 49.7,117.0 50.2,117.9 50.7,118.7 51.2,119.6 51.7,120.5 52.2,121.4 52.7,122.2 53.2,123.1 53.7,124.0 54.2,124.9 54.7,125.8 55.2,126.6 55.7,127.5 56.2,128.3 56.7,129.2 57.2,130.0 57.7,130.8 58.2,131.6 58.7,132.4 59.2,133.2 59.7,134.0 60.2,134.8 60.7,135.5 61.2,136.3 61.7,137.1 62.2,137.8 62.7,138.5 63.2,139.2 63.7,140.0 64.2,140.7 64.7,141.4 65.2,142.1 65.7,142.7 66.2,143.4 66.7,144.1 67.2,144.8 67.7,145.4 68.2,146.1 68.7,146.8 69.2,147.4 69.7,148.1 70.2,148.7 70.7,149.4 71.2,150.0 71.7,150.6 72.2,151.2 72.7,151.9 73.2,152.5 73.7,153.1 74.2,153.7 74.7,154.3 75.2,154.9 75.7,155.5 76.2,156.1 76.7,156.6 77.2,157.1 77.7,157.5 78.2,158.0 78.7,158.4 79.2,158.8 79.7,159.2 80.2,159.6 80.7,160.0 81.2,160.4 81.7,160.8 82.2,161.2 82.7,161.5 83.2,161.9 83.7,162.2 84.2,162.6 84.7,162.9 85.2,163.1 85.7,163.4 86.2,163.6 86.7,163.8 87.2,164.0 87.7,164.2 88.2,164.3 88.7,164.4 89.2,164.5 89.7,164.6 90.2,164.6 90.7,164.7 91.2,164.8 91.7,164.8 92.2,164.9 92.7,164.9 93.2,165.0 93.7,165.0 94.2,165.1 94.7,165.1 95.2,165.1 95.7,165.2 96.2,165.2 96.7,165.3 97.2,165.3 97.7,165.3 98.2,165.4 98.7,165.4 99.2,165.5 99.7,165.5 100.2,165.6 100.7,165.6 101.2,165.6 101.7,165.7 102.2,165.7 102.7,165.8 103.2,165.8 103.7,165.8 104.2,165.9 104.7,165.9 105.2,165.9 105.7,166.0 106.2,166.0 106.7,166.1 107.2,166.1 107.7,166.1 108.2,166.2 108.7,166.3 109.2,166.3 109.7,166.4 110.2,166.5 110.7,166.5 111.2,166.6 111.7,166.8 112.2,166.9 112.7,167.1 113.2,167.4 113.7,167.6 114.2,167.8 114.7,168.1 115.2,168.4 115.7,168.7 116.2,169.0 116.7,169.3 117.2,169.6 117.7,169.9 118.2,170.2 118.7,170.5 119.2,170.8 119.7,171.1 120.2,171.4 120.7,171.7 121.2,171.9 121.7,172.1 122.2,172.4 122.7,172.6 123.2,172.8 123.7,173.1 124.2,173.3 124.7,173.6 125.2,173.8 125.7,174.1 126.2,174.3 126.7,174.5 127.2,174.7 127.7,175.0 128.2,175.2 128.7,175.4 129.2,175.6 129.7,175.7 130.2,175.9 130.7,176.0 131.2,176.2 131.7,176.3 132.2,176.4 132.7,176.5 133.2,176.5 133.7,176.6 134.2,176.7 134.7,176.8 135.2,176.8 135.7,176.9 136.2,177.0 136.7,177.0 137.2,177.1 137.7,177.2 138.2,177.2 138.7,177.3 139.2,177.3 139.7,177.4 140.2,177.4 140.7,177.4 141.2,177.5 141.7,177.5 142.2,177.5 142.7,177.5 143.2,177.5 143.7,177.5 144.2,177.5 144.7,177.5 145.2,177.5 145.7,177.5 146.2,177.5 146.7,177.5 147.2,177.5 147.7,177.5 148.2,177.5 148.7,177.5 149.2,177.5 149.7,177.5 150.2,177.5 150.7,177.5 151.2,177.5 151.7,177.5 152.2,177.5 152.7,177.5 153.2,177.5 153.7,177.5 154.2,177.5 154.7,177.5 155.2,177.4 155.7,177.4 156.2,177.3 156.7,177.2 157.2,177.1 157.7,177.0 158.2,176.9 158.7,176.8 159.2,176.6 159.7,176.5 160.2,176.3 160.7,176.2 161.2,176.0 161.7,175.9 162.2,175.7 162.7,175.6 163.2,175.4 163.7,175.3 164.2,175.2 164.7,175.0 165.2,174.8 165.7,174.7 166.2,174.5 166.7,174.3 167.2,174.1 167.7,174.0 168.2,173.8 168.7,173.6 169.2,173.3 169.7,173.1 170.2,172.9 170.7,172.7 171.2,172.4 171.7,172.1 172.2,171.8 172.7,171.4 173.2,171.1 173.7,170.8 174.2,170.5 174.7,170.1 175.2,169.8 175.7,169.5 176.2,169.3 176.7,169.0 177.2,168.8 177.7,168.6 178.2,168.5 178.7,168.3 179.2,168.1 179.7,168.0 180.2,167.8 180.7,167.7 181.2,167.6 181.7,167.4 182.2,167.3 182.7,167.2 183.2,167.1 183.7,166.9 184.2,166.8 184.7,166.7 185.2,166.5 185.7,166.4 186.2,166.2 186.7,166.1 187.2,165.9 187.7,165.7 188.2,165.5 188.7,165.3 189.2,165.0 189.7,164.8 190.2,164.5 190.7,164.2 191.2,163.9 191.7,163.6 192.2,163.2 192.7,162.9 193.2,162.6 193.7,162.2 194.2,161.9 194.7,161.5 195.2,161.2 195.7,160.8 196.2,160.5 196.7,160.2 197.2,159.8 197.7,159.5 198.2,159.2 198.7,158.9 199.2,158.7 199.7,158.3 200.2,158.0 200.7,157.7 201.2,157.3 201.7,157.0 202.2,156.7 202.7,156.5 203.2,156.2 203.7,156.0 204.2,155.9 204.7,155.8 205.2,155.8 205.7,156.1 206.2,156.6 206.7,157.2 207.2,157.9 207.7,158.6 208.2,159.3 208.7,160.2 209.2,161.2 209.7,162.3 210.2,163.3 210.7,164.2 211.2,164.8 211.7,165.0 212.2,165.0 212.7,164.9 213.2,164.7 213.7,164.5 214.2,164.3 214.7,164.1 215.2,163.9 215.7,163.6 216.2,163.4 216.7,163.2 217.2,163.0 217.7,162.7 218.2,162.5 218.7,162.2 219.2,161.9 219.7,161.6 220.2,161.2 220.7,160.8 221.2,160.4 221.7,160.0 222.2,159.5 222.7,159.0 223.2,158.4 223.7,157.8 224.2,157.1 224.7,156.4 225.2,155.7 225.7,154.7 226.2,153.6 226.7,152.4 227.2,151.1 227.7,149.8 228.2,148.6 228.7,147.5 229.2,146.7 229.7,145.9 230.2,145.1 230.7,144.4 231.2,143.8 231.7,143.3 232.2,142.8 232.7,142.5 233.2,142.1 233.7,141.7 234.2,141.4 234.7,141.2 235.2,141.1 235.7,141.0 236.2,141.0 236.7,141.1 237.2,141.2 237.7,141.4 238.2,141.6 238.7,141.8 239.2,142.1 239.7,142.8 240.2,143.7 240.7,144.9 241.2,146.1 241.7,147.4 242.2,148.7 242.7,150.2 243.2,151.8 243.7,153.4 244.2,155.1 244.7,156.7 245.2,158.0 245.7,159.4 246.2,160.7 246.7,161.9 247.2,163.1 247.7,164.2 248.2,165.3 248.7,166.3 249.2,167.2 249.7,168.1 250.2,168.9 250.7,169.7 251.2,170.4 251.7,171.1 252.2,171.8 252.7,172.6 253.2,173.3 253.7,174.1 254.2,174.8 254.7,175.6 255.2,176.3 255.7,177.1 256.2,177.8 256.7,178.4 257.2,179.0 257.7,179.6 258.2,180.1 258.7,180.6 259.2,181.0 259.7,181.4 260.2,181.8 260.7,182.2 261.2,182.7 261.7,183.3 262.2,184.0 262.7,184.6 263.2,185.1 263.7,185.4 264.2,185.5 264.7,185.5 265.2,185.4 265.7,185.3 266.2,185.1 266.7,185.0 267.2,184.8 267.7,184.6 268.2,184.3 268.7,184.1 269.2,183.9 269.7,183.6 270.2,183.3 270.7,182.9 271.2,182.5 271.7,182.1 272.2,181.7 272.7,181.2 273.2,180.8 273.7,180.4 274.2,179.9 274.7,179.4 275.2,178.8 275.7,178.3 276.2,177.9 276.7,177.5 277.2,177.2 277.7,177.0 278.2,177.0 278.7,177.0 279.2,177.0 279.7,177.0 280.2,177.0 280.7,177.0 281.2,177.0 281.7,177.0 282.2,177.0 282.7,177.0 283.2,177.0 283.7,177.0 284.2,177.0 284.7,177.0 285.2,176.7 285.7,176.1 286.2,175.3 286.7,174.4 287.2,173.4 287.7,172.5 288.2,171.7 288.7,170.9 289.2,170.1 289.7,169.3 290.2,168.4 290.7,167.5 291.2,166.6 291.7,165.6 292.2,164.6 292.7,163.5 293.2,162.5 293.7,161.5 294.2,160.7 294.7,159.8 295.2,158.9 295.7,158.1 296.2,157.6 296.7,157.5 297.2,157.6 297.7,157.9 298.2,158.3 298.7,158.7 299.2,159.2 299.7,160.0 300.2,161.1 300.7,162.4 301.2,163.8 301.7,165.2 302.2,166.5 302.7,167.9 303.2,169.4 303.7,171.0 304.2,172.5 304.7,174.1 305.2,175.6 305.7,177.2 306.2,178.8 306.7,180.4 307.2,182.0 307.7,183.5 308.2,185.0 308.7,186.2 309.2,187.5 309.7,188.6 310.2,189.8 310.7,190.9 311.2,191.9 311.7,192.8 312.2,193.7 312.7,194.6 313.2,195.3 313.7,196.0 314.2,196.6 314.7,197.2 315.2,197.8 315.7,198.3 316.2,198.9 316.7,199.4 317.2,199.9 317.7,200.3 318.2,200.8 318.7,201.3 319.2,201.7 319.7,202.2 320.2,202.7 320.7,203.1 321.2,203.6 321.7,204.0 322.2,204.5 322.7,204.9 323.2,205.3 323.7,205.7 324.2,206.0 324.7,206.3 325.2,206.6 325.7,206.8 326.2,207.0 326.7,207.2 327.2,207.4 327.7,207.6 328.2,207.8 328.7,207.9 329.2,208.1 329.7,208.3 330.2,208.5 330.7,208.7 331.2,208.9 331.7,209.2 332.2,209.5 332.7,209.8 333.2,210.1 333.7,210.4 334.2,210.7 334.7,210.9 335.2,211.2 335.7,211.4 336.2,211.6 336.7,211.7 337.2,211.9 337.7,212.1 338.2,212.3 338.7,212.4 339.2,212.6 339.7,212.7 340.2,212.8 340.7,212.9 341.2,212.9 341.7,212.9 342.2,212.9 342.7,212.9 343.2,212.8 343.7,212.8 344.2,212.8 344.7,212.7 345.2,212.7 345.7,212.6 346.2,212.6 346.7,212.5 347.2,212.5 347.7,212.4 348.2,212.4 348.7,212.3 349.2,212.3 349.7,212.2 350.2,212.1 350.7,212.1 351.2,212.0 351.7,211.9 352.2,211.8 352.7,211.7 353.2,211.6 353.7,211.5 354.2,211.4 354.7,211.3 355.2,211.2 355.7,211.0 356.2,210.9 356.7,210.8 357.2,210.7 357.7,210.6 358.2,210.5 358.7,210.4 359.2,210.3 359.7,210.2 360.2,210.1 360.7,210.0 361.2,209.9 361.7,209.8 362.2,209.7 362.7,209.6 363.2,209.5 363.7,209.4 364.2,209.2 364.7,209.0 365.2,208.8 365.7,208.5 366.2,208.3 366.7,208.0 367.2,207.8 367.7,207.6 368.2,207.4 368.7,207.2 369.2,207.0 369.7,206.9 370.2,206.8 370.7,206.6 371.2,206.5 371.7,206.4 372.2,206.3 372.7,206.2 373.2,206.1 373.7,206.0 374.2,205.9 374.7,205.8 375.2,205.7 375.7,205.6 376.2,205.5 376.7,205.3 377.2,205.2 377.7,205.1 378.2,205.0 378.7,204.8 379.2,204.7 379.7,204.6 380.2,204.5 380.7,204.3 381.2,204.2 381.7,204.1 382.2,203.9 382.7,203.8 383.2,203.6 383.7,203.5 384.2,203.3 384.7,203.1 385.2,203.0 385.7,202.8 386.2,202.6 386.7,202.4 387.2,202.2 387.7,202.0 388.2,201.8 388.7,201.6 389.2,201.3 389.7,201.1 390.2,200.9 390.7,200.6 391.2,200.4 391.7,200.1 392.2,199.8 392.7,199.4 393.2,199.1 393.7,198.7 394.2,198.3 394.7,197.9 395.2,197.6 395.7,197.3 396.2,197.0 396.7,196.8 397.2,196.6 397.7,196.5 398.2,196.5 398.7,196.5 399.2,196.6 399.7,196.8 400.2,196.9 400.7,197.1 401.2,197.3 401.7,197.5 402.2,197.7 402.7,197.9 403.2,198.1 403.7,198.2 404.2,198.3 404.7,198.4 405.2,198.5 405.7,198.5 406.2,198.5 406.7,198.5 407.2,198.4 407.7,198.4 408.2,198.3 408.7,198.2 409.2,198.2 409.7,198.1 410.2,198.0 410.7,197.9 411.2,197.8 411.7,197.7 412.2,197.6 412.7,197.5 413.2,197.4 413.7,197.3 414.2,197.1 414.7,197.0 415.2,196.8 415.7,196.6 416.2,196.4 416.7,196.3 417.2,196.0 417.7,195.8 418.2,195.6 418.7,195.4 419.2,195.1 419.7,194.8 420.2,194.5 420.7,194.2 421.2,193.8 421.7,193.4 422.2,193.1 422.7,192.8 423.2,192.5 423.7,192.3 424.2,192.1 424.7,192.0 425.2,191.9 425.7,191.8 426.2,191.8 426.7,191.7 427.2,191.7 427.7,191.6 428.2,191.4 428.7,191.2 429.2,190.7 429.7,190.2 430.2,189.6 430.7,188.9 431.2,188.2 431.7,187.4 432.2,186.4 432.7,185.3 433.2,183.9 433.7,182.3 434.2,179.8 434.7,176.8 435.2,173.9 435.7,171.6 436.2,169.6 436.7,167.8 437.2,166.1 437.7,164.3 438.2,162.6 438.7,160.9 439.2,159.2 439.7,157.4 440.2,155.4 440.7,153.4 441.2,151.3 441.7,149.2 442.2,147.2 442.7,145.4 443.2,143.6 443.7,141.7 444.2,139.6 444.7,137.1 445.2,134.4 445.7,132.1 446.2,130.2 446.7,130.3 447.2,131.6 447.7,133.4 448.2,136.4 448.7,140.5 449.2,145.0 449.7,149.2 450.2,153.3 450.7,157.4 451.2,161.8 451.7,166.5 452.2,171.2 452.7,175.3 453.2,178.9 453.7,182.2 454.2,185.3 454.7,188.1 455.2,190.7 455.7,193.2 456.2,195.6 456.7,198.0 457.2,200.5 457.7,202.7 458.2,204.1 458.7,205.3 459.2,206.3 459.7,207.1 460.2,207.8 460.7,208.3 461.2,208.8 461.7,209.3 462.2,209.7 462.7,210.1 463.2,210.6 463.7,211.1 464.2,211.7 464.7,212.2 465.2,212.7 465.7,213.2 466.2,213.7 466.7,214.1 467.2,214.5 467.7,214.9 468.2,215.3 468.7,215.6 469.2,216.0 469.7,216.3 470.2,216.5 470.7,216.8 471.2,217.0 471.7,217.3 472.2,217.5 472.7,217.7 473.2,217.9 473.7,218.1 474.2,218.2 474.7,218.4 475.2,218.6 475.7,218.7 476.2,218.9 476.7,219.0 477.2,219.2 477.7,219.3 478.2,219.4 478.7,219.6 479.2,219.7 479.7,219.8 480.2,219.9 480.7,220.0 481.2,220.1 481.7,220.2 482.2,220.2 482.7,220.3 483.2,220.3 483.7,220.4 484.2,220.4 484.7,220.5 485.2,220.5 485.7,220.5 486.2,220.6 486.7,220.6 487.2,220.6 487.7,220.6 488.2,220.7 488.7,220.7 489.2,220.7 489.7,220.7 490.2,220.8 490.7,220.8 491.2,220.8 491.7,220.8 492.2,220.8 492.7,220.8 493.2,220.9 493.7,220.9 494.2,220.9 494.7,220.9 495.2,220.9 495.7,221.0 496.2,221.0 496.7,221.0 497.2,221.0 497.7,221.0 498.2,221.1 498.7,221.1 499.2,221.1 499.7,221.1 500.2,221.2 500.7,221.2 501.2,221.2 501.7,221.2 502.2,221.3 502.7,221.3 503.2,221.3 503.7,221.3 504.2,221.4 504.7,221.4 505.2,221.4 505.7,221.4 506.2,221.4 506.7,221.5 507.2,221.5 507.7,221.5 508.2,221.5 508.7,221.6 509.2,221.6 509.7,221.6 510.2,221.6 510.7,221.7 511.2,221.7 511.7,221.7 512.2,221.7 512.7,221.8 513.2,221.8 513.7,221.8 514.2,221.8 514.7,221.9 515.2,221.9 515.7,221.9 516.2,221.9 516.7,222.0 517.2,222.0 517.7,222.0 518.2,222.0 518.7,222.0 519.2,222.1 519.7,222.1 520.2,222.1 520.7,222.1 521.2,222.2 521.7,222.2 522.2,222.2 522.7,222.2 523.2,222.2 523.7,222.3 524.2,222.3 524.7,222.3 525.2,222.3 525.7,222.4 526.2,222.4 526.7,222.4 527.2,222.4 527.7,222.5 528.2,222.5 528.7,222.5 529.2,222.5 529.7,222.6 530.2,222.6 530.7,222.6 531.2,222.7 531.7,222.7 532.2,222.7 532.7,222.8 533.2,222.8 533.7,222.9 534.2,222.9 534.7,223.0 535.2,223.0"/>
<polyline stroke="#f82e2e" stroke-width="1.6" points="48.2,214.2 48.7,214.7 49.2,215.1 49.7,215.6 50.2,216.1 50.7,216.6 51.2,217.2 51.7,217.7 52.2,218.2 52.7,218.8 53.2,219.3 53.7,219.9 54.2,220.5 54.7,221.1 55.2,221.6 55.7,222.2 56.2,222.7 56.7,223.2 57.2,223.7 57.7,224.2 58.2,224.7 58.7,225.1 59.2,225.6 59.7,226.1 60.2,226.5 60.7,226.9 61.2,227.4 61.7,227.8 62.2,228.2 62.7,228.5 63.2,228.9 63.7,229.3 64.2,229.6 64.7,230.0 65.2,230.3 65.7,230.7 66.2,231.0 66.7,231.3 67.2,231.6 67.7,231.9 68.2,232.3 68.7,232.6 69.2,232.9 69.7,233.2 70.2,233.4 70.7,233.7 71.2,234.0 71.7,234.3 72.2,234.6 72.7,234.9 73.2,235.2 73.7,235.5 74.2,235.8 74.7,236.1 75.2,236.4 75.7,236.7 76.2,237.0 76.7,237.2 77.2,237.5 77.7,237.8 78.2,238.1 78.7,238.4 79.2,238.7 79.7,239.0 80.2,239.3 80.7,239.6 81.2,239.9 81.7,240.2 82.2,240.5 82.7,240.9 83.2,241.2 83.7,241.5 84.2,241.8 84.7,242.0 85.2,242.3 85.7,242.6 86.2,242.9 86.7,243.1 87.2,243.4 87.7,243.6 88.2,243.8 88.7,244.0 89.2,244.2 89.7,244.4 90.2,244.6 90.7,244.8 91.2,245.0 91.7,245.2 92.2,245.4 92.7,245.6 93.2,245.8 93.7,245.9 94.2,246.1 94.7,246.3 95.2,246.4 95.7,246.6 96.2,246.7 96.7,246.9 97.2,247.0 97.7,247.1 98.2,247.2 98.7,247.3 99.2,247.4 99.7,247.5 100.2,247.6 100.7,247.7 101.2,247.8 101.7,247.8 102.2,247.9 102.7,248.0 103.2,248.0 103.7,248.1 104.2,248.1 104.7,248.2 105.2,248.2 105.7,248.3 106.2,248.3 106.7,248.4 107.2,248.4 107.7,248.5 108.2,248.6 108.7,248.6 109.2,248.7 109.7,248.8 110.2,248.8 110.7,248.9 111.2,249.0 111.7,249.1 112.2,249.3 112.7,249.4 113.2,249.5 113.7,249.7 114.2,249.8 114.7,250.0 115.2,250.1 115.7,250.3 116.2,250.5 116.7,250.6 117.2,250.8 117.7,251.0 118.2,251.1 118.7,251.3 119.2,251.5 119.7,251.7 120.2,251.8 120.7,252.0 121.2,252.1 121.7,252.3 122.2,252.4 122.7,252.6 123.2,252.8 123.7,252.9 124.2,253.1 124.7,253.3 125.2,253.4 125.7,253.6 126.2,253.7 126.7,253.9 127.2,254.1 127.7,254.2 128.2,254.4 128.7,254.5 129.2,254.7 129.7,254.8 130.2,255.0 130.7,255.1 131.2,255.2 131.7,255.4 132.2,255.5 132.7,255.6 133.2,255.7 133.7,255.8 134.2,255.9 134.7,256.0 135.2,256.1 135.7,256.2 136.2,256.3 136.7,256.4 137.2,256.5 137.7,256.6 138.2,256.6 138.7,256.7 139.2,256.8 139.7,256.9 140.2,257.0 140.7,257.1 141.2,257.1 141.7,257.2 142.2,257.3 142.7,257.4 143.2,257.5 143.7,257.6 144.2,257.7 144.7,257.8 145.2,257.9 145.7,258.0 146.2,258.2 146.7,258.3 147.2,258.4 147.7,258.5 148.2,258.7 148.7,258.8 149.2,258.9 149.7,259.0 150.2,259.1 150.7,259.2 151.2,259.3 151.7,259.3 152.2,259.4 152.7,259.4 153.2,259.5 153.7,259.5 154.2,259.5 154.7,259.5 155.2,259.5 155.7,259.5 156.2,259.4 156.7,259.4 157.2,259.3 157.7,259.3 158.2,259.2 158.7,259.2 159.2,259.1 159.7,259.0 160.2,259.0 160.7,258.9 161.2,258.8 161.7,258.7 162.2,258.6 162.7,258.6 163.2,258.5 163.7,258.4 164.2,258.2 164.7,258.1 165.2,258.0 165.7,257.8 166.2,257.6 166.7,257.4 167.2,257.2 167.7,257.0 168.2,256.8 168.7,256.6 169.2,256.4 169.7,256.1 170.2,255.9 170.7,255.6 171.2,255.3 171.7,254.9 172.2,254.6 172.7,254.2 173.2,253.7 173.7,253.3 174.2,252.9 174.7,252.5 175.2,252.1 175.7,251.8 176.2,251.4 176.7,251.1 177.2,250.9 177.7,250.7 178.2,250.5 178.7,250.3 179.2,250.1 179.7,250.0 180.2,249.8 180.7,249.7 181.2,249.5 181.7,249.4 182.2,249.2 182.7,249.1 183.2,249.0 183.7,248.8 184.2,248.7 184.7,248.5 185.2,248.4 185.7,248.2 186.2,248.1 186.7,247.9 187.2,247.7 187.7,247.5 188.2,247.3 188.7,247.0 189.2,246.8 189.7,246.5 190.2,246.3 190.7,246.0 191.2,245.7 191.7,245.4 192.2,245.1 192.7,244.8 193.2,244.4 193.7,244.1 194.2,243.8 194.7,243.5 195.2,243.1 195.7,242.8 196.2,242.5 196.7,242.2 197.2,241.8 197.7,241.5 198.2,241.2 198.7,240.9 199.2,240.6 199.7,240.3 200.2,239.9 200.7,239.5 201.2,239.2 201.7,238.9 202.2,238.6 202.7,238.5 203.2,238.5 203.7,238.7 204.2,239.2 204.7,239.7 205.2,240.2 205.7,240.7 206.2,241.2 206.7,241.6 207.2,242.1 207.7,242.5 208.2,243.0 208.7,243.3 209.2,243.5 209.7,243.5 210.2,243.5 210.7,243.4 211.2,243.3 211.7,243.2 212.2,243.0 212.7,242.8 213.2,242.7 213.7,242.5 214.2,242.3 214.7,242.1 215.2,241.9 215.7,241.8 216.2,241.6 216.7,241.4 217.2,241.2 217.7,241.0 218.2,240.7 218.7,240.5 219.2,240.3 219.7,240.0 220.2,239.7 220.7,239.4 221.2,239.0 221.7,238.6 222.2,238.1 222.7,237.6 223.2,237.0 223.7,236.5 224.2,235.9 224.7,235.3 225.2,234.8 225.7,234.2 226.2,233.6 226.7,232.9 227.2,232.2 227.7,231.6 228.2,230.9 228.7,230.3 229.2,229.7 229.7,229.1 230.2,228.5 230.7,227.8 231.2,227.2 231.7,226.6 232.2,226.1 232.7,225.7 233.2,225.4 233.7,225.1 234.2,224.8 234.7,224.5 235.2,224.2 235.7,224.0 236.2,223.8 236.7,223.7 237.2,223.6 237.7,223.5 238.2,223.5 238.7,223.6 239.2,223.7 239.7,223.9 240.2,224.1 240.7,224.9 241.2,226.0 241.7,227.4 242.2,228.7 242.7,230.1 243.2,231.5 243.7,233.0 244.2,234.6 244.7,236.1 245.2,237.7 245.7,239.4 246.2,240.9 246.7,242.0 247.2,242.9 247.7,243.7 248.2,244.5 248.7,245.1 249.2,245.8 249.7,246.4 250.2,247.1 250.7,247.7 251.2,248.3 251.7,249.0 252.2,249.6 252.7,250.1 253.2,250.7 253.7,251.2 254.2,251.7 254.7,252.2 255.2,252.7 255.7,253.2 256.2,253.7 256.7,254.2 257.2,254.8 257.7,255.4 258.2,256.1 258.7,256.6 259.2,257.0 259.7,257.2 260.2,257.3 260.7,257.3 261.2,257.4 261.7,257.4 262.2,257.5 262.7,257.5 263.2,257.5 263.7,257.5 264.2,257.4 264.7,257.2 265.2,257.1 265.7,256.9 266.2,256.7 266.7,256.5 267.2,256.1 267.7,255.6 268.2,255.1 268.7,254.7 269.2,254.4 269.7,254.2 270.2,254.0 270.7,253.8 271.2,253.6 271.7,253.4 272.2,253.0 272.7,252.6 273.2,252.1 273.7,251.6 274.2,251.1 274.7,250.7 275.2,250.4 275.7,250.1 276.2,249.8 276.7,249.5 277.2,249.3 277.7,249.1 278.2,249.1 278.7,249.1 279.2,249.2 279.7,249.3 280.2,249.4 280.7,249.4 281.2,249.5 281.7,249.6 282.2,249.8 282.7,249.9 283.2,250.0 283.7,250.1 284.2,250.2 284.7,250.2 285.2,250.1 285.7,249.7 286.2,249.3 286.7,248.8 287.2,248.3 287.7,247.8 288.2,247.3 288.7,246.9 289.2,246.5 289.7,246.1 290.2,245.7 290.7,245.2 291.2,244.7 291.7,244.0 292.2,243.2 292.7,242.3 293.2,241.4 293.7,240.5 294.2,239.7 294.7,238.7 295.2,237.7 295.7,236.8 296.2,236.2 296.7,236.0 297.2,236.1 297.7,236.4 298.2,236.8 298.7,237.2 299.2,237.7 299.7,238.3 300.2,239.1 300.7,239.9 301.2,240.9 301.7,241.8 302.2,242.7 302.7,243.6 303.2,244.5 303.7,245.5 304.2,246.5 304.7,247.4 305.2,248.4 305.7,249.3 306.2,250.1 306.7,251.0 307.2,251.9 307.7,252.8 308.2,253.7 308.7,254.7 309.2,255.8 309.7,256.9 310.2,258.1 310.7,259.4 311.2,260.6 311.7,261.7 312.2,262.7 312.7,263.6 313.2,264.3 313.7,264.9 314.2,265.4 314.7,266.0 315.2,266.5 315.7,267.0 316.2,267.4 316.7,267.8 317.2,268.2 317.7,268.6 318.2,268.9 318.7,269.3 319.2,269.6 319.7,269.9 320.2,270.2 320.7,270.5 321.2,270.8 321.7,271.0 322.2,271.3 322.7,271.5 323.2,271.8 323.7,272.0 324.2,272.2 324.7,272.4 325.2,272.6 325.7,272.8 326.2,272.9 326.7,273.1 327.2,273.3 327.7,273.5 328.2,273.6 328.7,273.8 329.2,273.9 329.7,274.0 330.2,274.1 330.7,274.2 331.2,274.3 331.7,274.4 332.2,274.5 332.7,274.6 333.2,274.7 333.7,274.7 334.2,274.8 334.7,274.9 335.2,274.9 335.7,275.0 336.2,275.0 336.7,275.1 337.2,275.1 337.7,275.1 338.2,275.2 338.7,275.2 339.2,275.2 339.7,275.3 340.2,275.3 340.7,275.3 341.2,275.3 341.7,275.3 342.2,275.3 342.7,275.3 343.2,275.3 343.7,275.2 344.2,275.2 344.7,275.2 345.2,275.1 345.7,275.1 346.2,275.1 346.7,275.0 347.2,275.0 347.7,274.9 348.2,274.9 348.7,274.8 349.2,274.7 349.7,274.7 350.2,274.6 350.7,274.5 351.2,274.4 351.7,274.3 352.2,274.2 352.7,274.1 353.2,274.0 353.7,273.9 354.2,273.8 354.7,273.7 355.2,273.6 355.7,273.5 356.2,273.4 356.7,273.3 357.2,273.2 357.7,273.1 358.2,273.0 358.7,272.9 359.2,272.8 359.7,272.7 360.2,272.6 360.7,272.5 361.2,272.4 361.7,272.3 362.2,272.2 362.7,272.1 363.2,272.0 363.7,271.9 364.2,271.8 364.7,271.6 365.2,271.5 365.7,271.4 366.2,271.2 366.7,271.1 367.2,271.0 367.7,270.9 368.2,270.8 368.7,270.7 369.2,270.6 369.7,270.5 370.2,270.5 370.7,270.4 371.2,270.4 371.7,270.4 372.2,270.4 372.7,270.3 373.2,270.3 373.7,270.3 374.2,270.3 374.7,270.3 375.2,270.3 375.7,270.2 376.2,270.2 376.7,270.2 377.2,270.2 377.7,270.2 378.2,270.2 378.7,270.1 379.2,270.1 379.7,270.1 380.2,270.1 380.7,270.0 381.2,270.0 381.7,269.9 382.2,269.8 382.7,269.7 383.2,269.6 383.7,269.5 384.2,269.4 384.7,269.2 385.2,269.1 385.7,268.9 386.2,268.8 386.7,268.6 387.2,268.4 387.7,268.3 388.2,268.1 388.7,267.9 389.2,267.8 389.7,267.6 390.2,267.5 390.7,267.3 391.2,267.2 391.7,267.0 392.2,266.9 392.7,266.8 393.2,266.6 393.7,266.5 394.2,266.4 394.7,266.2 395.2,266.1 395.7,266.0 396.2,265.9 396.7,265.7 397.2,265.6 397.7,265.5 398.2,265.4 398.7,265.2 399.2,265.1 399.7,265.0 400.2,264.9 400.7,264.8 401.2,264.7 401.7,264.6 402.2,264.6 402.7,264.5 403.2,264.4 403.7,264.4 404.2,264.3 404.7,264.3 405.2,264.2 405.7,264.2 406.2,264.2 406.7,264.1 407.2,264.1 407.7,264.1 408.2,264.0 408.7,264.0 409.2,264.0 409.7,263.9 410.2,263.9 410.7,263.9 411.2,263.8 411.7,263.8 412.2,263.7 412.7,263.6 413.2,263.6 413.7,263.5 414.2,263.4 414.7,263.2 415.2,263.0 415.7,262.7 416.2,262.4 416.7,262.1 417.2,261.8 417.7,261.5 418.2,261.1 418.7,260.8 419.2,260.5 419.7,260.2 420.2,259.9 420.7,259.6 421.2,259.4 421.7,259.1 422.2,258.9 422.7,258.6 423.2,258.4 423.7,258.1 424.2,257.8 424.7,257.5 425.2,257.1 425.7,256.8 426.2,256.4 426.7,256.0 427.2,255.6 427.7,255.2 428.2,254.8 428.7,254.4 429.2,254.0 429.7,253.6 430.2,253.2 430.7,252.7 431.2,252.1 431.7,251.3 432.2,250.5 432.7,249.5 433.2,248.5 433.7,247.7 434.2,246.8 434.7,246.0 435.2,245.1 435.7,244.1 436.2,243.0 436.7,241.7 437.2,240.2 437.7,238.6 438.2,237.0 438.7,235.4 439.2,233.7 439.7,232.0 440.2,230.3 440.7,228.6 441.2,227.0 441.7,225.3 442.2,223.6 442.7,222.0 443.2,220.4 443.7,218.8 444.2,217.3 444.7,215.9 445.2,214.6 445.7,213.7 446.2,213.1 446.7,213.1 447.2,213.8 447.7,214.8 448.2,216.1 448.7,218.2 449.2,220.6 449.7,223.2 450.2,226.2 450.7,229.6 451.2,233.0 451.7,236.4 452.2,239.9 452.7,243.3 453.2,246.3 453.7,249.0 454.2,251.7 454.7,254.3 455.2,257.2 455.7,260.5 456.2,263.5 456.7,265.3 457.2,266.5 457.7,267.5 458.2,268.3 458.7,269.0 459.2,269.8 459.7,270.6 460.2,271.3 460.7,271.9 461.2,272.5 461.7,273.1 462.2,273.7 462.7,274.2 463.2,274.7 463.7,275.2 464.2,275.7 464.7,276.2 465.2,276.8 465.7,277.3 466.2,277.7 466.7,278.0 467.2,278.2 467.7,278.4 468.2,278.6 468.7,278.8 469.2,279.0 469.7,279.1 470.2,279.3 470.7,279.4 471.2,279.6 471.7,279.7 472.2,279.9 472.7,280.0 473.2,280.1 473.7,280.2 474.2,280.3 474.7,280.3 475.2,280.4 475.7,280.4 476.2,280.4 476.7,280.5 477.2,280.5 477.7,280.5 478.2,280.6 478.7,280.6 479.2,280.6 479.7,280.7 480.2,280.7 480.7,280.7 481.2,280.7 481.7,280.8 482.2,280.8 482.7,280.8 483.2,280.8 483.7,280.8 484.2,280.8 484.7,280.9 485.2,280.9 485.7,280.9 486.2,280.9 486.7,280.9 487.2,280.9 487.7,281.0 488.2,281.0 488.7,281.0 489.2,281.0 489.7,281.0 490.2,281.1 490.7,281.1 491.2,281.1 491.7,281.1 492.2,281.2 492.7,281.2 493.2,281.2 493.7,281.2 494.2,281.3 494.7,281.3 495.2,281.3 495.7,281.3 496.2,281.4 496.7,281.4 497.2,281.4 497.7,281.4 498.2,281.4 498.7,281.5 499.2,281.5 499.7,281.5 500.2,281.5 500.7,281.6 501.2,281.6 501.7,281.6 502.2,281.6 502.7,281.7 503.2,281.7 503.7,281.7 504.2,281.7 504.7,281.8 505.2,281.8 505.7,281.8 506.2,281.8 506.7,281.9 507.2,281.9 507.7,281.9 508.2,281.9 508.7,282.0 509.2,282.0 509.7,282.0 510.2,282.1 510.7,282.1 511.2,282.1 511.7,282.1 512.2,282.2 512.7,282.2 513.2,282.2 513.7,282.3 514.2,282.3 514.7,282.3 515.2,282.4 515.7,282.4 516.2,282.4 516.7,282.4 517.2,282.5 517.7,282.5 518.2,282.5 518.7,282.6 519.2,282.6 519.7,282.6 520.2,282.7 520.7,282.7 521.2,282.7 521.7,282.8 522.2,282.8 522.7,282.8 523.2,282.9 523.7,282.9 524.2,282.9 524.7,283.0 525.2,283.0 525.7,283.0 526.2,283.0 526.7,283.1 527.2,283.1 527.7,283.1 528.2,283.2 528.7,283.2 529.2,283.2 529.7,283.3 530.2,283.3 530.7,283.3 531.2,283.4 531.7,283.4 532.2,283.4 532.7,283.5 533.2,283.5 533.7,283.5 534.2,283.5 534.7,283.6 535.2,283.6"/>
<polyline stroke="#6e6e6e" stroke-width="1.6" points="48.2,276.6 48.7,277.2 49.2,277.7 49.7,278.3 50.2,278.9 50.7,279.4 51.2,280.0 51.7,280.5 52.2,281.1 52.7,281.6 53.2,282.1 53.7,282.7 54.2,283.2 54.7,283.7 55.2,284.3 55.7,284.8 56.2,285.3 56.7,285.8 57.2,286.3 57.7,286.8 58.2,287.3 58.7,287.9 59.2,288.3 59.7,288.8 60.2,289.3 60.7,289.8 61.2,290.3 61.7,290.8 62.2,291.3 62.7,291.8 63.2,292.3 63.7,292.8 64.2,293.3 64.7,293.7 65.2,294.2 65.7,294.7 66.2,295.2 66.7,295.7 67.2,296.2 67.7,296.7 68.2,297.2 68.7,297.8 69.2,298.3 69.7,298.8 70.2,299.4 70.7,299.9 71.2,300.5 71.7,301.0 72.2,301.6 72.7,302.1 73.2,302.6 73.7,303.1 74.2,303.6 74.7,304.1 75.2,304.6 75.7,305.1 76.2,305.5 76.7,305.9 77.2,306.3 77.7,306.7 78.2,307.0 78.7,307.4 79.2,307.7 79.7,308.1 80.2,308.5 80.7,308.8 81.2,309.2 81.7,309.5 82.2,309.8 82.7,310.2 83.2,310.5 83.7,310.8 84.2,311.1 84.7,311.3 85.2,311.6 85.7,311.8 86.2,312.0 86.7,312.1 87.2,312.2 87.7,312.3 88.2,312.4 88.7,312.4 89.2,312.4 89.7,312.4 90.2,312.4 90.7,312.4 91.2,312.4 91.7,312.4 92.2,312.4 92.7,312.4 93.2,312.4 93.7,312.4 94.2,312.4 94.7,312.4 95.2,312.4 95.7,312.4 96.2,312.4 96.7,312.4 97.2,312.4 97.7,312.4 98.2,312.4 98.7,312.4 99.2,312.4 99.7,312.4 100.2,312.4 100.7,312.4 101.2,312.4 101.7,312.5 102.2,312.5 102.7,312.5 103.2,312.6 103.7,312.6 104.2,312.7 104.7,312.7 105.2,312.8 105.7,312.9 106.2,312.9 106.7,313.0 107.2,313.0 107.7,313.1 108.2,313.2 108.7,313.3 109.2,313.3 109.7,313.4 110.2,313.5 110.7,313.5 111.2,313.6 111.7,313.7 112.2,313.7 112.7,313.8 113.2,313.9 113.7,314.0 114.2,314.1 114.7,314.2 115.2,314.3 115.7,314.4 116.2,314.5 116.7,314.6 117.2,314.7 117.7,314.8 118.2,314.9 118.7,315.0 119.2,315.1 119.7,315.2 120.2,315.3 120.7,315.4 121.2,315.6 121.7,315.7 122.2,315.8 122.7,315.9 123.2,316.1 123.7,316.2 124.2,316.3 124.7,316.5 125.2,316.6 125.7,316.8 126.2,317.0 126.7,317.1 127.2,317.3 127.7,317.4 128.2,317.6 128.7,317.8 129.2,317.9 129.7,318.1 130.2,318.2 130.7,318.4 131.2,318.6 131.7,318.7 132.2,318.9 132.7,319.0 133.2,319.2 133.7,319.4 134.2,319.6 134.7,319.8 135.2,319.9 135.7,320.2 136.2,320.4 136.7,320.6 137.2,320.8 137.7,320.9 138.2,321.1 138.7,321.3 139.2,321.5 139.7,321.6 140.2,321.8 140.7,321.9 141.2,322.0 141.7,322.1 142.2,322.1 142.7,322.2 143.2,322.2 143.7,322.2 144.2,322.2 144.7,322.2 145.2,322.1 145.7,322.1 146.2,322.1 146.7,322.0 147.2,322.0 147.7,321.9 148.2,321.9 148.7,321.8 149.2,321.8 149.7,321.7 150.2,321.6 150.7,321.6 151.2,321.5 151.7,321.4 152.2,321.3 152.7,321.3 153.2,321.2 153.7,321.1 154.2,321.1 154.7,321.0 155.2,320.9 155.7,320.8 156.2,320.7 156.7,320.6 157.2,320.5 157.7,320.4 158.2,320.3 158.7,320.3 159.2,320.2 159.7,320.1 160.2,320.0 160.7,319.9 161.2,319.8 161.7,319.7 162.2,319.6 162.7,319.6 163.2,319.5 163.7,319.4 164.2,319.3 164.7,319.2 165.2,319.1 165.7,319.0 166.2,318.8 166.7,318.6 167.2,318.3 167.7,318.0 168.2,317.6 168.7,317.2 169.2,316.8 169.7,316.4 170.2,316.0 170.7,315.7 171.2,315.4 171.7,315.1 172.2,314.7 172.7,314.4 173.2,314.1 173.7,313.8 174.2,313.5 174.7,313.2 175.2,312.9 175.7,312.7 176.2,312.5 176.7,312.4 177.2,312.3 177.7,312.3 178.2,312.2 178.7,312.1 179.2,312.1 179.7,312.0 180.2,312.0 180.7,311.9 181.2,311.9 181.7,311.9 182.2,311.8 182.7,311.8 183.2,311.8 183.7,311.7 184.2,311.7 184.7,311.6 185.2,311.6 185.7,311.6 186.2,311.5 186.7,311.4 187.2,311.4 187.7,311.3 188.2,311.2 188.7,311.1 189.2,311.0 189.7,310.9 190.2,310.8 190.7,310.6 191.2,310.5 191.7,310.3 192.2,310.2 192.7,310.0 193.2,309.8 193.7,309.6 194.2,309.4 194.7,309.2 195.2,309.0 195.7,308.8 196.2,308.6 196.7,308.4 197.2,308.2 197.7,307.9 198.2,307.7 198.7,307.4 199.2,307.1 199.7,306.7 200.2,306.3 200.7,305.8 201.2,305.4 201.7,305.0 202.2,304.7 202.7,304.5 203.2,304.5 203.7,304.7 204.2,305.0 204.7,305.4 205.2,305.9 205.7,306.4 206.2,306.9 206.7,307.3 207.2,307.6 207.7,308.0 208.2,308.3 208.7,308.7 209.2,309.0 209.7,309.3 210.2,309.6 210.7,309.8 211.2,310.0 211.7,310.0 212.2,310.0 212.7,310.0 213.2,309.9 213.7,309.9 214.2,309.8 214.7,309.7 215.2,309.6 215.7,309.5 216.2,309.5 216.7,309.4 217.2,309.3 217.7,309.2 218.2,309.1 218.7,309.0 219.2,308.9 219.7,308.8 220.2,308.6 220.7,308.4 221.2,308.1 221.7,307.6 222.2,307.1 222.7,306.5 223.2,305.7 223.7,305.0 224.2,304.2 224.7,303.5 225.2,302.7 225.7,301.8 226.2,300.7 226.7,299.6 227.2,298.4 227.7,297.3 228.2,296.3 228.7,295.5 229.2,294.9 229.7,294.4 230.2,294.0 230.7,293.6 231.2,293.2 231.7,292.9 232.2,292.6 232.7,292.5 233.2,292.5 233.7,292.5 234.2,292.5 234.7,292.6 235.2,292.6 235.7,292.7 236.2,292.7 236.7,292.7 237.2,292.7 237.7,292.7 238.2,292.6 238.7,292.6 239.2,292.5 239.7,292.5 240.2,292.5 240.7,292.8 241.2,293.3 241.7,294.0 242.2,294.7 242.7,295.7 243.2,297.2 243.7,298.9 244.2,300.8 244.7,302.9 245.2,305.5 245.7,308.5 246.2,310.9 246.7,312.2 247.2,312.8 247.7,313.4 248.2,313.8 248.7,314.2 249.2,314.5 249.7,314.8 250.2,315.1 250.7,315.4 251.2,315.6 251.7,315.8 252.2,316.1 252.7,316.3 253.2,316.7 253.7,317.2 254.2,318.0 254.7,319.0 255.2,320.0 255.7,321.2 256.2,322.3 256.7,323.5 257.2,325.0 257.7,326.7 258.2,328.5 258.7,330.0 259.2,331.1 259.7,331.5 260.2,331.5 260.7,331.4 261.2,331.4 261.7,331.3 262.2,331.2 262.7,331.1 263.2,330.9 263.7,330.7 264.2,330.5 264.7,330.1 265.2,329.7 265.7,329.3 266.2,328.8 266.7,328.2 267.2,327.2 267.7,326.2 268.2,325.1 268.7,324.2 269.2,323.6 269.7,323.4 270.2,323.3 270.7,323.3 271.2,323.2 271.7,323.1 272.2,323.1 272.7,323.0 273.2,322.9 273.7,322.8 274.2,322.7 274.7,322.6 275.2,322.5 275.7,322.4 276.2,322.4 276.7,322.6 277.2,322.9 277.7,323.2 278.2,323.5 278.7,323.8 279.2,324.1 279.7,324.4 280.2,324.7 280.7,325.0 281.2,325.2 281.7,325.5 282.2,325.6 282.7,325.6 283.2,325.4 283.7,325.0 284.2,324.5 284.7,324.0 285.2,323.4 285.7,322.8 286.2,322.3 286.7,321.8 287.2,321.3 287.7,320.7 288.2,320.1 288.7,319.5 289.2,318.8 289.7,318.0 290.2,317.2 290.7,316.2 291.2,315.3 291.7,314.5 292.2,313.7 292.7,312.8 293.2,311.9 293.7,311.1 294.2,310.3 294.7,309.7 295.2,309.4 295.7,309.3 296.2,309.3 296.7,309.4 297.2,309.5 297.7,309.7 298.2,309.9 298.7,310.1 299.2,310.6 299.7,311.4 300.2,312.4 300.7,313.5 301.2,314.7 301.7,316.0 302.2,317.1 302.7,318.4 303.2,319.8 303.7,321.3 304.2,322.8 304.7,324.2 305.2,325.5 305.7,326.8 306.2,328.0 306.7,329.2 307.2,330.4 307.7,331.5 308.2,332.5 308.7,333.5 309.2,334.4 309.7,335.2 310.2,336.0 310.7,336.8 311.2,337.5 311.7,338.2 312.2,338.9 312.7,339.6 313.2,340.3 313.7,340.9 314.2,341.6 314.7,342.2 315.2,342.8 315.7,343.4 316.2,344.0 316.7,344.6 317.2,345.2 317.7,345.7 318.2,346.3 318.7,346.8 319.2,347.2 319.7,347.7 320.2,348.1 320.7,348.5 321.2,348.9 321.7,349.3 322.2,349.7 322.7,350.0 323.2,350.4 323.7,350.7 324.2,351.0 324.7,351.3 325.2,351.6 325.7,351.9 326.2,352.2 326.7,352.5 327.2,352.7 327.7,353.0 328.2,353.2 328.7,353.5 329.2,353.7 329.7,353.8 330.2,353.9 330.7,354.0 331.2,354.1 331.7,354.2 332.2,354.2 332.7,354.3 333.2,354.3 333.7,354.4 334.2,354.4 334.7,354.5 335.2,354.5 335.7,354.5 336.2,354.5 336.7,354.5 337.2,354.5 337.7,354.4 338.2,354.4 338.7,354.3 339.2,354.3 339.7,354.2 340.2,354.1 340.7,354.1 341.2,354.0 341.7,354.0 342.2,353.9 342.7,353.9 343.2,353.8 343.7,353.8 344.2,353.8 344.7,353.7 345.2,353.7 345.7,353.6 346.2,353.6 346.7,353.5 347.2,353.5 347.7,353.4 348.2,353.4 348.7,353.3 349.2,353.3 349.7,353.2 350.2,353.2 350.7,353.1 351.2,353.0 351.7,353.0 352.2,352.9 352.7,352.8 353.2,352.8 353.7,352.7 354.2,352.6 354.7,352.5 355.2,352.4 355.7,352.3 356.2,352.2 356.7,352.1 357.2,352.0 357.7,351.9 358.2,351.8 358.7,351.7 359.2,351.5 359.7,351.4 360.2,351.3 360.7,351.2 361.2,351.1 361.7,351.0 362.2,350.9 362.7,350.8 363.2,350.7 363.7,350.6 364.2,350.5 364.7,350.4 365.2,350.3 365.7,350.1 366.2,350.0 366.7,349.9 367.2,349.8 367.7,349.7 368.2,349.6 368.7,349.6 369.2,349.5 369.7,349.5 370.2,349.5 370.7,349.5 371.2,349.5 371.7,349.5 372.2,349.6 372.7,349.6 373.2,349.6 373.7,349.6 374.2,349.7 374.7,349.7 375.2,349.7 375.7,349.8 376.2,349.8 376.7,349.8 377.2,349.9 377.7,349.9 378.2,349.9 378.7,349.9 379.2,350.0 379.7,350.0 380.2,350.0 380.7,350.0 381.2,350.0 381.7,349.9 382.2,349.8 382.7,349.6 383.2,349.4 383.7,349.2 384.2,348.9 384.7,348.6 385.2,348.4 385.7,348.1 386.2,347.9 386.7,347.7 387.2,347.5 387.7,347.2 388.2,347.0 388.7,346.8 389.2,346.5 389.7,346.3 390.2,346.0 390.7,345.7 391.2,345.4 391.7,345.1 392.2,344.7 392.7,344.2 393.2,343.6 393.7,342.9 394.2,342.3 394.7,341.6 395.2,341.0 395.7,340.4 396.2,340.0 396.7,339.6 397.2,339.5 397.7,339.5 398.2,339.6 398.7,339.7 399.2,339.8 399.7,339.9 400.2,340.1 400.7,340.3 401.2,340.5 401.7,340.7 402.2,340.8 402.7,341.0 403.2,341.2 403.7,341.4 404.2,341.6 404.7,341.8 405.2,342.0 405.7,342.2 406.2,342.4 406.7,342.6 407.2,342.8 407.7,342.9 408.2,343.0 408.7,343.2 409.2,343.3 409.7,343.4 410.2,343.5 410.7,343.6 411.2,343.7 411.7,343.8 412.2,343.9 412.7,344.0 413.2,344.0 413.7,344.0 414.2,343.9 414.7,343.8 415.2,343.5 415.7,343.2 416.2,342.8 416.7,342.4 417.2,342.0 417.7,341.6 418.2,341.1 418.7,340.7 419.2,340.3 419.7,339.9 420.2,339.5 420.7,339.1 421.2,338.6 421.7,338.1 422.2,337.7 422.7,337.2 423.2,336.7 423.7,336.2 424.2,335.8 424.7,335.3 425.2,334.9 425.7,334.5 426.2,334.1 426.7,333.7 427.2,333.2 427.7,332.8 428.2,332.3 428.7,331.8 429.2,331.2 429.7,330.7 430.2,330.1 430.7,329.4 431.2,328.8 431.7,328.0 432.2,327.3 432.7,326.5 433.2,325.6 433.7,324.6 434.2,323.5 434.7,322.3 435.2,321.0 435.7,319.6 436.2,317.9 436.7,316.0 437.2,314.1 437.7,312.3 438.2,310.6 438.7,308.8 439.2,307.1 439.7,305.3 440.2,303.3 440.7,301.3 441.2,299.2 441.7,297.2 442.2,295.2 442.7,293.3 443.2,291.4 443.7,289.6 444.2,288.0 444.7,286.5 445.2,285.2 445.7,284.3 446.2,284.1 446.7,285.3 447.2,287.0 447.7,288.8 448.2,290.9 448.7,293.3 449.2,296.1 449.7,299.0 450.2,302.7 450.7,306.9 451.2,311.0 451.7,315.1 452.2,319.3 452.7,323.1 453.2,326.4 453.7,329.4 454.2,332.2 454.7,334.7 455.2,336.8 455.7,338.7 456.2,340.4 456.7,341.9 457.2,343.1 457.7,344.3 458.2,345.4 458.7,346.4 459.2,347.4 459.7,348.3 460.2,349.1 460.7,349.9 461.2,350.7 461.7,351.4 462.2,352.1 462.7,352.8 463.2,353.5 463.7,354.2 464.2,354.7 464.7,355.3 465.2,355.8 465.7,356.3 466.2,356.7 466.7,357.0 467.2,357.2 467.7,357.4 468.2,357.6 468.7,357.8 469.2,358.0 469.7,358.1 470.2,358.3 470.7,358.4 471.2,358.5 471.7,358.7 472.2,358.8 472.7,358.9 473.2,359.0 473.7,359.1 474.2,359.2 474.7,359.3 475.2,359.4 475.7,359.5 476.2,359.6 476.7,359.7 477.2,359.8 477.7,359.9 478.2,360.0 478.7,360.1 479.2,360.2 479.7,360.3 480.2,360.3 480.7,360.4 481.2,360.5 481.7,360.6 482.2,360.7 482.7,360.7 483.2,360.8 483.7,360.9 484.2,361.0 484.7,361.0 485.2,361.1 485.7,361.2 486.2,361.2 486.7,361.3 487.2,361.4 487.7,361.4 488.2,361.5 488.7,361.5 489.2,361.6 489.7,361.6 490.2,361.6 490.7,361.7 491.2,361.7 491.7,361.8 492.2,361.8 492.7,361.8 493.2,361.9 493.7,361.9 494.2,361.9 494.7,361.9 495.2,362.0 495.7,362.0 496.2,362.0 496.7,362.0 497.2,362.1 497.7,362.1 498.2,362.1 498.7,362.1 499.2,362.1 499.7,362.2 500.2,362.2 500.7,362.2 501.2,362.2 501.7,362.2 502.2,362.3 502.7,362.3 503.2,362.3 503.7,362.3 504.2,362.3 504.7,362.4 505.2,362.4 505.7,362.4 506.2,362.4 506.7,362.5 507.2,362.5 507.7,362.5 508.2,362.6 508.7,362.6 509.2,362.6 509.7,362.6 510.2,362.7 510.7,362.7 511.2,362.7 511.7,362.8 512.2,362.8 512.7,362.8 513.2,362.9 513.7,362.9 514.2,362.9 514.7,362.9 515.2,363.0 515.7,363.0 516.2,363.0 516.7,363.1 517.2,363.1 517.7,363.1 518.2,363.2 518.7,363.2 519.2,363.2 519.7,363.3 520.2,363.3 520.7,363.3 521.2,363.4 521.7,363.4 522.2,363.5 522.7,363.5 523.2,363.5 523.7,363.6 524.2,363.6 524.7,363.6 525.2,363.7 525.7,363.7 526.2,363.8 526.7,363.8 527.2,363.8 527.7,363.9 528.2,363.9 528.7,363.9 529.2,364.0 529.7,364.0 530.2,364.1 530.7,364.1 531.2,364.2 531.7,364.2 532.2,364.2 532.7,364.3 533.2,364.3 533.7,364.4 534.2,364.4 534.7,364.5 535.2,364.5"/>
</g>
<g fill="#000">
<polygon points="232.2,48.5 237.2,42.4 242.2,48.5 237.2,54.6"/><polygon points="272.3,88.0 277.3,81.9 282.3,88.0 277.3,94.1"/><polygon points="231.2,121.0 236.2,114.9 241.2,121.0 236.2,127.1"/><polygon points="273.5,169.3 278.5,163.2 283.5,169.3 278.5,175.4"/><polygon points="234.5,206.3 239.5,200.2 244.5,206.3 239.5,212.4"/><polygon points="273.5,241.5 278.5,235.4 283.5,241.5 278.5,247.6"/><polygon points="232.9,269.0 237.9,262.9 242.9,269.0 237.9,275.1"/><polygon points="270.5,313.0 275.5,306.9 280.5,313.0 275.5,319.1"/><circle cx="237.1" cy="57.3" r="3.9"/><circle cx="298.4" cy="77.3" r="3.9"/><circle cx="445.8" cy="52.7" r="3.9"/><circle cx="236.2" cy="131.2" r="3.9"/><circle cx="298.2" cy="152.5" r="3.9"/><circle cx="446.4" cy="123.2" r="3.9"/><circle cx="239.5" cy="216.4" r="3.9"/><circle cx="298.2" cy="227.3" r="3.9"/><circle cx="446.8" cy="207.8" r="3.9"/><circle cx="237.9" cy="278.2" r="3.9"/><circle cx="297.9" cy="298" r="3.9"/><circle cx="446" cy="277.9" r="3.9"/>
</g>
<rect x="47.7" y="10.0" width="488.5" height="395.3" fill="none" stroke="#000" stroke-width="2.2"/>
<g stroke="#000" stroke-width="2.1"><line x1="47.70" y1="405" x2="47.70" y2="413.5"/><line x1="82.59" y1="405" x2="82.59" y2="409.7"/><line x1="117.49" y1="405" x2="117.49" y2="413.5"/><line x1="152.38" y1="405" x2="152.38" y2="409.7"/><line x1="187.28" y1="405" x2="187.28" y2="413.5"/><line x1="222.18" y1="405" x2="222.18" y2="409.7"/><line x1="257.07" y1="405" x2="257.07" y2="413.5"/><line x1="291.97" y1="405" x2="291.97" y2="409.7"/><line x1="326.86" y1="405" x2="326.86" y2="413.5"/><line x1="361.75" y1="405" x2="361.75" y2="409.7"/><line x1="396.65" y1="405" x2="396.65" y2="413.5"/><line x1="431.55" y1="405" x2="431.55" y2="409.7"/><line x1="466.44" y1="405" x2="466.44" y2="413.5"/><line x1="501.33" y1="405" x2="501.33" y2="409.7"/><line x1="536.23" y1="405" x2="536.23" y2="413.5"/></g>
<g class="tl"><text x="47.70" y="434.2" text-anchor="middle">10</text><text x="117.49" y="434.2" text-anchor="middle">20</text><text x="187.28" y="434.2" text-anchor="middle">30</text><text x="257.07" y="434.2" text-anchor="middle">40</text><text x="326.86" y="434.2" text-anchor="middle">50</text><text x="396.65" y="434.2" text-anchor="middle">60</text><text x="466.44" y="434.2" text-anchor="middle">70</text><text x="536.23" y="434.2" text-anchor="middle">80</text></g>
<text class="ax" x="225.5" y="464.8">2θ<tspan class="cjk" dx="0.8">（</tspan><tspan dx="2.2" style="letter-spacing:0.3px">degree</tspan><tspan class="cjk" dx="0.4">）</tspan></text>
<text class="ax" transform="translate(23.5,200.9) rotate(-90)" text-anchor="middle">Intensity (a.u.)</text>
<polygon points="460.2,28.7 465.1,23.1 470.0,28.7 465.1,34.3" fill="#000"/>
<text class="lg" x="472.9" y="34.3">MnO<tspan class="sub" dy="5.6">2</tspan></text>
<circle cx="464.1" cy="54.5" r="3.7" fill="#000"/>
<text class="lg" x="473.1" y="60.3">Al<tspan class="sub" dy="5.6">2</tspan><tspan dy="-5.6">O</tspan><tspan class="sub" dy="5.6">3</tspan></text>
<text class="sm" x="459.6" y="168.2">MnAl-IV</text>
<text class="sm" x="454.7" y="246">MnAl-III</text>
<text class="sm" x="462" y="309.6">MnAl-II</text>
<text class="sm" x="463" y="394">MnAl-I</text>
</svg>
</body></html>
